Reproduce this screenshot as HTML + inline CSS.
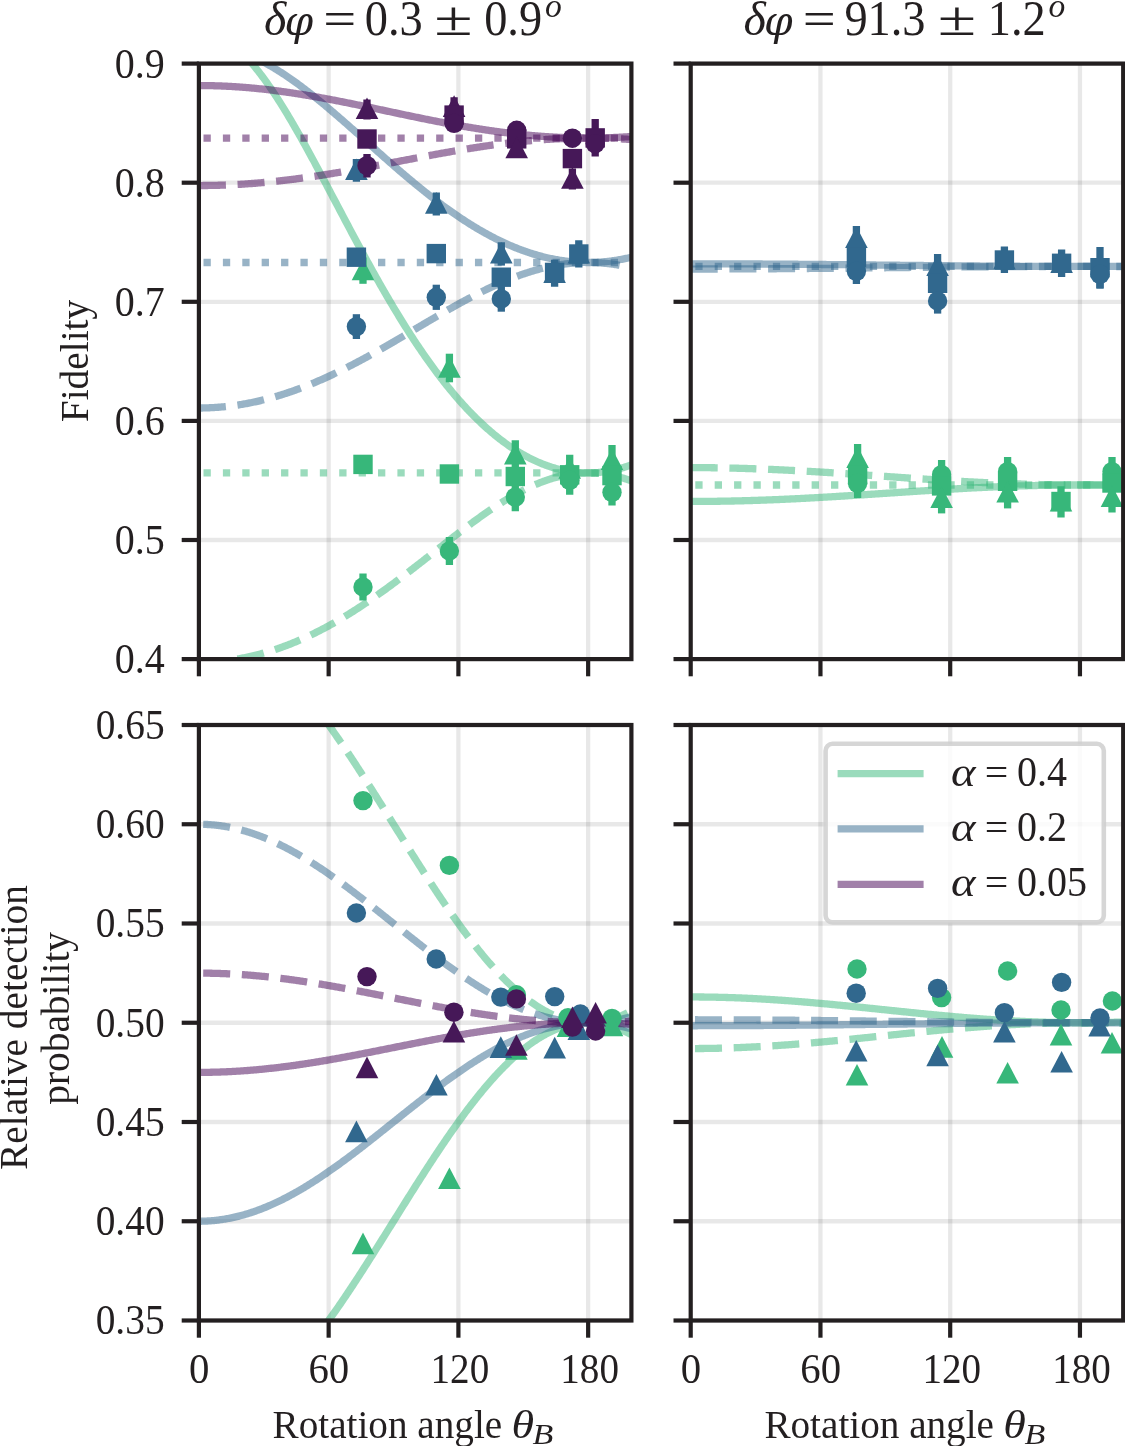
<!DOCTYPE html>
<html lang="en">
<head>
<meta charset="utf-8">
<title>Fidelity and relative detection probability versus rotation angle</title>
<style>
html,body{margin:0;padding:0;background:#fff}
body{width:1125px;height:1446px;overflow:hidden}
svg{display:block}
.t{font-family:"Liberation Serif","DejaVu Serif",serif;font-size:40px;fill:#231f20}
.i{font-style:italic}
</style>
</head>
<body>
<svg width="1125" height="1446" viewBox="0 0 1125 1446">
<rect width="1125" height="1446" fill="#fff"/>
<defs>
<clipPath id="c00"><rect x="198.9" y="63.6" width="432.5" height="595.5"/></clipPath>
<clipPath id="c01"><rect x="198.9" y="725" width="432.5" height="595.5"/></clipPath>
<clipPath id="c10"><rect x="690.7" y="63.6" width="432.5" height="595.5"/></clipPath>
<clipPath id="c11"><rect x="690.7" y="725" width="432.5" height="595.5"/></clipPath>
</defs>
<line x1="328.65" y1="63.6" x2="328.65" y2="659.1" stroke="#000" stroke-opacity="0.09" stroke-width="4.3"/>
<line x1="458.4" y1="63.6" x2="458.4" y2="659.1" stroke="#000" stroke-opacity="0.09" stroke-width="4.3"/>
<line x1="588.15" y1="63.6" x2="588.15" y2="659.1" stroke="#000" stroke-opacity="0.09" stroke-width="4.3"/>
<line x1="198.9" y1="63.6" x2="631.4" y2="63.6" stroke="#000" stroke-opacity="0.09" stroke-width="4.3"/>
<line x1="198.9" y1="182.7" x2="631.4" y2="182.7" stroke="#000" stroke-opacity="0.09" stroke-width="4.3"/>
<line x1="198.9" y1="301.8" x2="631.4" y2="301.8" stroke="#000" stroke-opacity="0.09" stroke-width="4.3"/>
<line x1="198.9" y1="420.9" x2="631.4" y2="420.9" stroke="#000" stroke-opacity="0.09" stroke-width="4.3"/>
<line x1="198.9" y1="540" x2="631.4" y2="540" stroke="#000" stroke-opacity="0.09" stroke-width="4.3"/>
<line x1="198.9" y1="659.1" x2="631.4" y2="659.1" stroke="#000" stroke-opacity="0.09" stroke-width="4.3"/>
<line x1="328.65" y1="725" x2="328.65" y2="1320.5" stroke="#000" stroke-opacity="0.09" stroke-width="4.3"/>
<line x1="458.4" y1="725" x2="458.4" y2="1320.5" stroke="#000" stroke-opacity="0.09" stroke-width="4.3"/>
<line x1="588.15" y1="725" x2="588.15" y2="1320.5" stroke="#000" stroke-opacity="0.09" stroke-width="4.3"/>
<line x1="198.9" y1="725" x2="631.4" y2="725" stroke="#000" stroke-opacity="0.09" stroke-width="4.3"/>
<line x1="198.9" y1="824.25" x2="631.4" y2="824.25" stroke="#000" stroke-opacity="0.09" stroke-width="4.3"/>
<line x1="198.9" y1="923.5" x2="631.4" y2="923.5" stroke="#000" stroke-opacity="0.09" stroke-width="4.3"/>
<line x1="198.9" y1="1022.75" x2="631.4" y2="1022.75" stroke="#000" stroke-opacity="0.09" stroke-width="4.3"/>
<line x1="198.9" y1="1122" x2="631.4" y2="1122" stroke="#000" stroke-opacity="0.09" stroke-width="4.3"/>
<line x1="198.9" y1="1221.25" x2="631.4" y2="1221.25" stroke="#000" stroke-opacity="0.09" stroke-width="4.3"/>
<line x1="198.9" y1="1320.5" x2="631.4" y2="1320.5" stroke="#000" stroke-opacity="0.09" stroke-width="4.3"/>
<line x1="820.45" y1="63.6" x2="820.45" y2="659.1" stroke="#000" stroke-opacity="0.09" stroke-width="4.3"/>
<line x1="950.2" y1="63.6" x2="950.2" y2="659.1" stroke="#000" stroke-opacity="0.09" stroke-width="4.3"/>
<line x1="1079.95" y1="63.6" x2="1079.95" y2="659.1" stroke="#000" stroke-opacity="0.09" stroke-width="4.3"/>
<line x1="690.7" y1="63.6" x2="1123.2" y2="63.6" stroke="#000" stroke-opacity="0.09" stroke-width="4.3"/>
<line x1="690.7" y1="182.7" x2="1123.2" y2="182.7" stroke="#000" stroke-opacity="0.09" stroke-width="4.3"/>
<line x1="690.7" y1="301.8" x2="1123.2" y2="301.8" stroke="#000" stroke-opacity="0.09" stroke-width="4.3"/>
<line x1="690.7" y1="420.9" x2="1123.2" y2="420.9" stroke="#000" stroke-opacity="0.09" stroke-width="4.3"/>
<line x1="690.7" y1="540" x2="1123.2" y2="540" stroke="#000" stroke-opacity="0.09" stroke-width="4.3"/>
<line x1="690.7" y1="659.1" x2="1123.2" y2="659.1" stroke="#000" stroke-opacity="0.09" stroke-width="4.3"/>
<line x1="820.45" y1="725" x2="820.45" y2="1320.5" stroke="#000" stroke-opacity="0.09" stroke-width="4.3"/>
<line x1="950.2" y1="725" x2="950.2" y2="1320.5" stroke="#000" stroke-opacity="0.09" stroke-width="4.3"/>
<line x1="1079.95" y1="725" x2="1079.95" y2="1320.5" stroke="#000" stroke-opacity="0.09" stroke-width="4.3"/>
<line x1="690.7" y1="725" x2="1123.2" y2="725" stroke="#000" stroke-opacity="0.09" stroke-width="4.3"/>
<line x1="690.7" y1="824.25" x2="1123.2" y2="824.25" stroke="#000" stroke-opacity="0.09" stroke-width="4.3"/>
<line x1="690.7" y1="923.5" x2="1123.2" y2="923.5" stroke="#000" stroke-opacity="0.09" stroke-width="4.3"/>
<line x1="690.7" y1="1022.75" x2="1123.2" y2="1022.75" stroke="#000" stroke-opacity="0.09" stroke-width="4.3"/>
<line x1="690.7" y1="1122" x2="1123.2" y2="1122" stroke="#000" stroke-opacity="0.09" stroke-width="4.3"/>
<line x1="690.7" y1="1221.25" x2="1123.2" y2="1221.25" stroke="#000" stroke-opacity="0.09" stroke-width="4.3"/>
<line x1="690.7" y1="1320.5" x2="1123.2" y2="1320.5" stroke="#000" stroke-opacity="0.09" stroke-width="4.3"/>
<g clip-path="url(#c00)">
<path d="M203.5 472.95 L204.57 472.95 L205.64 472.95 L206.71 472.95 L207.78 472.95 L208.85 472.95 L209.92 472.95 L210.99 472.95 L212.06 472.95 L213.13 472.95 L214.2 472.95 L215.27 472.95 L216.34 472.95 L217.41 472.95 L218.48 472.95 L219.55 472.95 L220.62 472.95 L221.69 472.95 L222.76 472.95 L223.83 472.95 L224.9 472.95 L225.96 472.95 L227.03 472.95 L228.1 472.95 L229.17 472.95 L230.24 472.95 L231.31 472.95 L232.38 472.95 L233.45 472.95 L234.52 472.95 L235.59 472.95 L236.66 472.95 L237.73 472.95 L238.8 472.95 L239.87 472.95 L240.94 472.95 L242.01 472.95 L243.08 472.95 L244.15 472.95 L245.22 472.95 L246.29 472.95 L247.36 472.95 L248.43 472.95 L249.5 472.95 L250.57 472.95 L251.64 472.95 L252.71 472.95 L253.78 472.95 L254.85 472.95 L255.92 472.95 L256.99 472.95 L258.06 472.95 L259.13 472.95 L260.2 472.95 L261.27 472.95 L262.34 472.95 L263.41 472.95 L264.48 472.95 L265.55 472.95 L266.62 472.95 L267.69 472.95 L268.75 472.95 L269.82 472.95 L270.89 472.95 L271.96 472.95 L273.03 472.95 L274.1 472.95 L275.17 472.95 L276.24 472.95 L277.31 472.95 L278.38 472.95 L279.45 472.95 L280.52 472.95 L281.59 472.95 L282.66 472.95 L283.73 472.95 L284.8 472.95 L285.87 472.95 L286.94 472.95 L288.01 472.95 L289.08 472.95 L290.15 472.95 L291.22 472.95 L292.29 472.95 L293.36 472.95 L294.43 472.95 L295.5 472.95 L296.57 472.95 L297.64 472.95 L298.71 472.95 L299.78 472.95 L300.85 472.95 L301.92 472.95 L302.99 472.95 L304.06 472.95 L305.13 472.95 L306.2 472.95 L307.27 472.95 L308.34 472.95 L309.41 472.95 L310.48 472.95 L311.54 472.95 L312.61 472.95 L313.68 472.95 L314.75 472.95 L315.82 472.95 L316.89 472.95 L317.96 472.95 L319.03 472.95 L320.1 472.95 L321.17 472.95 L322.24 472.95 L323.31 472.95 L324.38 472.95 L325.45 472.95 L326.52 472.95 L327.59 472.95 L328.66 472.95 L329.73 472.95 L330.8 472.95 L331.87 472.95 L332.94 472.95 L334.01 472.95 L335.08 472.95 L336.15 472.95 L337.22 472.95 L338.29 472.95 L339.36 472.95 L340.43 472.95 L341.5 472.95 L342.57 472.95 L343.64 472.95 L344.71 472.95 L345.78 472.95 L346.85 472.95 L347.92 472.95 L348.99 472.95 L350.06 472.95 L351.13 472.95 L352.2 472.95 L353.26 472.95 L354.33 472.95 L355.4 472.95 L356.47 472.95 L357.54 472.95 L358.61 472.95 L359.68 472.95 L360.75 472.95 L361.82 472.95 L362.89 472.95 L363.96 472.95 L365.03 472.95 L366.1 472.95 L367.17 472.95 L368.24 472.95 L369.31 472.95 L370.38 472.95 L371.45 472.95 L372.52 472.95 L373.59 472.95 L374.66 472.95 L375.73 472.95 L376.8 472.95 L377.87 472.95 L378.94 472.95 L380.01 472.95 L381.08 472.95 L382.15 472.95 L383.22 472.95 L384.29 472.95 L385.36 472.95 L386.43 472.95 L387.5 472.95 L388.57 472.95 L389.64 472.95 L390.71 472.95 L391.78 472.95 L392.85 472.95 L393.92 472.95 L394.99 472.95 L396.05 472.95 L397.12 472.95 L398.19 472.95 L399.26 472.95 L400.33 472.95 L401.4 472.95 L402.47 472.95 L403.54 472.95 L404.61 472.95 L405.68 472.95 L406.75 472.95 L407.82 472.95 L408.89 472.95 L409.96 472.95 L411.03 472.95 L412.1 472.95 L413.17 472.95 L414.24 472.95 L415.31 472.95 L416.38 472.95 L417.45 472.95 L418.52 472.95 L419.59 472.95 L420.66 472.95 L421.73 472.95 L422.8 472.95 L423.87 472.95 L424.94 472.95 L426.01 472.95 L427.08 472.95 L428.15 472.95 L429.22 472.95 L430.29 472.95 L431.36 472.95 L432.43 472.95 L433.5 472.95 L434.57 472.95 L435.64 472.95 L436.71 472.95 L437.78 472.95 L438.85 472.95 L439.91 472.95 L440.98 472.95 L442.05 472.95 L443.12 472.95 L444.19 472.95 L445.26 472.95 L446.33 472.95 L447.4 472.95 L448.47 472.95 L449.54 472.95 L450.61 472.95 L451.68 472.95 L452.75 472.95 L453.82 472.95 L454.89 472.95 L455.96 472.95 L457.03 472.95 L458.1 472.95 L459.17 472.95 L460.24 472.95 L461.31 472.95 L462.38 472.95 L463.45 472.95 L464.52 472.95 L465.59 472.95 L466.66 472.95 L467.73 472.95 L468.8 472.95 L469.87 472.95 L470.94 472.95 L472.01 472.95 L473.08 472.95 L474.15 472.95 L475.22 472.95 L476.29 472.95 L477.36 472.95 L478.43 472.95 L479.5 472.95 L480.57 472.95 L481.63 472.95 L482.7 472.95 L483.77 472.95 L484.84 472.95 L485.91 472.95 L486.98 472.95 L488.05 472.95 L489.12 472.95 L490.19 472.95 L491.26 472.95 L492.33 472.95 L493.4 472.95 L494.47 472.95 L495.54 472.95 L496.61 472.95 L497.68 472.95 L498.75 472.95 L499.82 472.95 L500.89 472.95 L501.96 472.95 L503.03 472.95 L504.1 472.95 L505.17 472.95 L506.24 472.95 L507.31 472.95 L508.38 472.95 L509.45 472.95 L510.52 472.95 L511.59 472.95 L512.66 472.95 L513.73 472.95 L514.8 472.95 L515.87 472.95 L516.94 472.95 L518.01 472.95 L519.08 472.95 L520.15 472.95 L521.22 472.95 L522.29 472.95 L523.36 472.95 L524.42 472.95 L525.49 472.95 L526.56 472.95 L527.63 472.95 L528.7 472.95 L529.77 472.95 L530.84 472.95 L531.91 472.95 L532.98 472.95 L534.05 472.95 L535.12 472.95 L536.19 472.95 L537.26 472.95 L538.33 472.95 L539.4 472.95 L540.47 472.95 L541.54 472.95 L542.61 472.95 L543.68 472.95 L544.75 472.95 L545.82 472.95 L546.89 472.95 L547.96 472.95 L549.03 472.95 L550.1 472.95 L551.17 472.95 L552.24 472.95 L553.31 472.95 L554.38 472.95 L555.45 472.95 L556.52 472.95 L557.59 472.95 L558.66 472.95 L559.73 472.95 L560.8 472.95 L561.87 472.95 L562.94 472.95 L564.01 472.95 L565.08 472.95 L566.15 472.95 L567.22 472.95 L568.28 472.95 L569.35 472.95 L570.42 472.95 L571.49 472.95 L572.56 472.95 L573.63 472.95 L574.7 472.95 L575.77 472.95 L576.84 472.95 L577.91 472.95 L578.98 472.95 L580.05 472.95 L581.12 472.95 L582.19 472.95 L583.26 472.95 L584.33 472.95 L585.4 472.95 L586.47 472.95 L587.54 472.95 L588.61 472.95 L589.68 472.95 L590.75 472.95 L591.82 472.95 L592.89 472.95 L593.96 472.95 L595.03 472.95 L596.1 472.95 L597.17 472.95 L598.24 472.95 L599.31 472.95 L600.38 472.95 L601.45 472.95 L602.52 472.95 L603.59 472.95 L604.66 472.95 L605.73 472.95 L606.8 472.95 L607.87 472.95 L608.94 472.95 L610 472.95 L611.07 472.95 L612.14 472.95 L613.21 472.95 L614.28 472.95 L615.35 472.95 L616.42 472.95 L617.49 472.95 L618.56 472.95 L619.63 472.95 L620.7 472.95 L621.77 472.95 L622.84 472.95 L623.91 472.95 L624.98 472.95 L626.05 472.95 L627.12 472.95 L628.19 472.95 L629.26 472.95 L630.33 472.95 L631.4 472.95" fill="none" stroke="#35b779" stroke-opacity="0.5" stroke-width="7.3" stroke-dasharray="7.3 12.09"/>
<path d="M248.34 59.43 L248.64 59.75 L249.72 60.95 L250.8 62.18 L251.88 63.42 L252.96 64.69 L254.04 65.97 L255.12 67.28 L256.21 68.61 L257.29 69.96 L258.37 71.32 L259.45 72.71 L260.53 74.12 L261.61 75.54 L262.69 76.99 L263.77 78.45 L264.86 79.93 L265.94 81.43 L267.02 82.95 L268.1 84.48 L269.18 86.03 L270.26 87.6 L271.34 89.18 L272.43 90.78 L273.51 92.4 L274.59 94.03 L275.67 95.67 L276.75 97.34 L277.83 99.01 L278.91 100.7 L279.99 102.41 L281.07 104.12 L282.16 105.86 L283.24 107.6 L284.32 109.36 L285.4 111.13 L286.48 112.91 L287.56 114.71 L288.64 116.51 L289.73 118.33 L290.81 120.16 L291.89 122 L292.97 123.85 L294.05 125.71 L295.13 127.58 L296.21 129.46 L297.29 131.35 L298.38 133.25 L299.46 135.16 L300.54 137.08 L301.62 139 L302.7 140.93 L303.78 142.88 L304.86 144.82 L305.94 146.78 L307.02 148.74 L308.11 150.71 L309.19 152.68 L310.27 154.66 L311.35 156.65 L312.43 158.64 L313.51 160.64 L314.59 162.64 L315.68 164.64 L316.76 166.66 L317.84 168.67 L318.92 170.69 L320 172.71 L321.08 174.74 L322.16 176.77 L323.24 178.8 L324.33 180.83 L325.41 182.87 L326.49 184.91 L327.57 186.95 L328.65 189 L329.73 191.04 L330.81 193.09 L331.89 195.13 L332.98 197.18 L334.06 199.23 L335.14 201.28 L336.22 203.32 L337.3 205.37 L338.38 207.42 L339.46 209.47 L340.54 211.52 L341.62 213.56 L342.71 215.61 L343.79 217.65 L344.87 219.69 L345.95 221.73 L347.03 223.77 L348.11 225.81 L349.19 227.84 L350.27 229.87 L351.36 231.9 L352.44 233.93 L353.52 235.95 L354.6 237.97 L355.68 239.99 L356.76 242 L357.84 244.01 L358.93 246.01 L360.01 248.02 L361.09 250.01 L362.17 252.01 L363.25 253.99 L364.33 255.98 L365.41 257.96 L366.49 259.93 L367.58 261.9 L368.66 263.86 L369.74 265.82 L370.82 267.78 L371.9 269.72 L372.98 271.66 L374.06 273.6 L375.14 275.53 L376.23 277.45 L377.31 279.37 L378.39 281.28 L379.47 283.19 L380.55 285.09 L381.63 286.98 L382.71 288.86 L383.79 290.74 L384.88 292.61 L385.96 294.47 L387.04 296.33 L388.12 298.18 L389.2 300.02 L390.28 301.85 L391.36 303.68 L392.44 305.5 L393.52 307.31 L394.61 309.11 L395.69 310.91 L396.77 312.69 L397.85 314.47 L398.93 316.24 L400.01 318 L401.09 319.76 L402.18 321.5 L403.26 323.24 L404.34 324.97 L405.42 326.69 L406.5 328.4 L407.58 330.1 L408.66 331.8 L409.74 333.48 L410.83 335.15 L411.91 336.82 L412.99 338.48 L414.07 340.13 L415.15 341.77 L416.23 343.4 L417.31 345.02 L418.39 346.63 L419.48 348.23 L420.56 349.82 L421.64 351.4 L422.72 352.98 L423.8 354.54 L424.88 356.1 L425.96 357.64 L427.04 359.17 L428.12 360.7 L429.21 362.21 L430.29 363.72 L431.37 365.22 L432.45 366.7 L433.53 368.18 L434.61 369.64 L435.69 371.1 L436.77 372.54 L437.86 373.98 L438.94 375.41 L440.02 376.82 L441.1 378.23 L442.18 379.62 L443.26 381.01 L444.34 382.38 L445.43 383.75 L446.51 385.1 L447.59 386.45 L448.67 387.78 L449.75 389.11 L450.83 390.42 L451.91 391.73 L452.99 393.02 L454.08 394.3 L455.16 395.57 L456.24 396.84 L457.32 398.09 L458.4 399.33 L459.48 400.56 L460.56 401.78 L461.64 402.99 L462.73 404.19 L463.81 405.38 L464.89 406.56 L465.97 407.73 L467.05 408.89 L468.13 410.04 L469.21 411.17 L470.29 412.3 L471.38 413.42 L472.46 414.52 L473.54 415.62 L474.62 416.7 L475.7 417.78 L476.78 418.84 L477.86 419.89 L478.94 420.94 L480.02 421.97 L481.11 422.99 L482.19 424 L483.27 425.01 L484.35 426 L485.43 426.98 L486.51 427.95 L487.59 428.91 L488.68 429.85 L489.76 430.79 L490.84 431.72 L491.92 432.64 L493 433.54 L494.08 434.44 L495.16 435.33 L496.24 436.2 L497.33 437.07 L498.41 437.92 L499.49 438.77 L500.57 439.6 L501.65 440.42 L502.73 441.24 L503.81 442.04 L504.89 442.83 L505.98 443.61 L507.06 444.38 L508.14 445.14 L509.22 445.89 L510.3 446.63 L511.38 447.36 L512.46 448.08 L513.54 448.79 L514.62 449.49 L515.71 450.18 L516.79 450.86 L517.87 451.52 L518.95 452.18 L520.03 452.83 L521.11 453.46 L522.19 454.09 L523.27 454.7 L524.36 455.31 L525.44 455.91 L526.52 456.49 L527.6 457.06 L528.68 457.63 L529.76 458.18 L530.84 458.73 L531.93 459.26 L533.01 459.78 L534.09 460.29 L535.17 460.8 L536.25 461.29 L537.33 461.77 L538.41 462.24 L539.49 462.7 L540.58 463.16 L541.66 463.6 L542.74 464.03 L543.82 464.45 L544.9 464.86 L545.98 465.26 L547.06 465.65 L548.14 466.03 L549.23 466.4 L550.31 466.76 L551.39 467.11 L552.47 467.44 L553.55 467.77 L554.63 468.09 L555.71 468.4 L556.79 468.7 L557.88 468.99 L558.96 469.27 L560.04 469.53 L561.12 469.79 L562.2 470.04 L563.28 470.28 L564.36 470.5 L565.44 470.72 L566.52 470.93 L567.61 471.12 L568.69 471.31 L569.77 471.49 L570.85 471.65 L571.93 471.81 L573.01 471.96 L574.09 472.09 L575.18 472.22 L576.26 472.34 L577.34 472.44 L578.42 472.54 L579.5 472.62 L580.58 472.7 L581.66 472.77 L582.74 472.82 L583.83 472.87 L584.91 472.9 L585.99 472.93 L587.07 472.94 L588.15 472.95 L589.23 472.94 L590.31 472.93 L591.39 472.9 L592.48 472.87 L593.56 472.82 L594.64 472.77 L595.72 472.7 L596.8 472.62 L597.88 472.54 L598.96 472.44 L600.04 472.34 L601.12 472.22 L602.21 472.09 L603.29 471.96 L604.37 471.81 L605.45 471.65 L606.53 471.49 L607.61 471.31 L608.69 471.12 L609.77 470.93 L610.86 470.72 L611.94 470.5 L613.02 470.28 L614.1 470.04 L615.18 469.79 L616.26 469.53 L617.34 469.27 L618.43 468.99 L619.51 468.7 L620.59 468.4 L621.67 468.09 L622.75 467.77 L623.83 467.44 L624.91 467.11 L625.99 466.76 L627.08 466.4 L628.16 466.03 L629.24 465.65 L630.32 465.26 L631.4 464.86" fill="none" stroke="#35b779" stroke-opacity="0.5" stroke-width="7.3"/>
<path d="M198.9 662.25 L199.98 662.25 L201.06 662.24 L202.14 662.22 L203.22 662.21 L204.31 662.18 L205.39 662.15 L206.47 662.12 L207.55 662.08 L208.63 662.04 L209.71 661.99 L210.79 661.94 L211.88 661.88 L212.96 661.81 L214.04 661.74 L215.12 661.67 L216.2 661.59 L217.28 661.5 L218.36 661.41 L219.44 661.32 L220.53 661.22 L221.61 661.11 L222.69 661 L223.77 660.89 L224.85 660.77 L225.93 660.64 L227.01 660.51 L228.09 660.37 L229.18 660.23 L230.26 660.08 L231.34 659.93 L232.42 659.78 L233.5 659.61 L234.58 659.45 L235.66 659.27 L236.74 659.1 L237.83 658.92 L238.91 658.73 L239.99 658.54 L241.07 658.34 L242.15 658.13 L243.23 657.93 L244.31 657.71 L245.39 657.5 L246.48 657.27 L247.56 657.04 L248.64 656.81 L249.72 656.57 L250.8 656.33 L251.88 656.08 L252.96 655.83 L254.04 655.57 L255.12 655.3 L256.21 655.04 L257.29 654.76 L258.37 654.48 L259.45 654.2 L260.53 653.91 L261.61 653.62 L262.69 653.32 L263.77 653.01 L264.86 652.7 L265.94 652.39 L267.02 652.07 L268.1 651.75 L269.18 651.42 L270.26 651.08 L271.34 650.74 L272.43 650.4 L273.51 650.05 L274.59 649.7 L275.67 649.34 L276.75 648.97 L277.83 648.6 L278.91 648.23 L279.99 647.85 L281.07 647.47 L282.16 647.08 L283.24 646.69 L284.32 646.29 L285.4 645.88 L286.48 645.48 L287.56 645.06 L288.64 644.64 L289.73 644.22 L290.81 643.79 L291.89 643.36 L292.97 642.92 L294.05 642.48 L295.13 642.03 L296.21 641.58 L297.29 641.12 L298.38 640.66 L299.46 640.2 L300.54 639.73 L301.62 639.25 L302.7 638.77 L303.78 638.28 L304.86 637.79 L305.94 637.3 L307.02 636.8 L308.11 636.29 L309.19 635.79 L310.27 635.27 L311.35 634.75 L312.43 634.23 L313.51 633.7 L314.59 633.17 L315.68 632.64 L316.76 632.09 L317.84 631.55 L318.92 631 L320 630.44 L321.08 629.88 L322.16 629.32 L323.24 628.75 L324.33 628.18 L325.41 627.6 L326.49 627.02 L327.57 626.43 L328.65 625.84 L329.73 625.25 L330.81 624.65 L331.89 624.05 L332.98 623.44 L334.06 622.83 L335.14 622.21 L336.22 621.59 L337.3 620.97 L338.38 620.34 L339.46 619.7 L340.54 619.07 L341.62 618.42 L342.71 617.78 L343.79 617.13 L344.87 616.48 L345.95 615.82 L347.03 615.16 L348.11 614.49 L349.19 613.82 L350.27 613.15 L351.36 612.47 L352.44 611.79 L353.52 611.1 L354.6 610.42 L355.68 609.72 L356.76 609.03 L357.84 608.33 L358.93 607.62 L360.01 606.92 L361.09 606.2 L362.17 605.49 L363.25 604.77 L364.33 604.05 L365.41 603.32 L366.49 602.6 L367.58 601.86 L368.66 601.13 L369.74 600.39 L370.82 599.65 L371.9 598.9 L372.98 598.15 L374.06 597.4 L375.14 596.65 L376.23 595.89 L377.31 595.13 L378.39 594.36 L379.47 593.6 L380.55 592.83 L381.63 592.05 L382.71 591.28 L383.79 590.5 L384.88 589.72 L385.96 588.93 L387.04 588.15 L388.12 587.36 L389.2 586.57 L390.28 585.77 L391.36 584.97 L392.44 584.17 L393.52 583.37 L394.61 582.57 L395.69 581.76 L396.77 580.95 L397.85 580.14 L398.93 579.33 L400.01 578.51 L401.09 577.7 L402.18 576.88 L403.26 576.06 L404.34 575.23 L405.42 574.41 L406.5 573.58 L407.58 572.75 L408.66 571.93 L409.74 571.09 L410.83 570.26 L411.91 569.43 L412.99 568.59 L414.07 567.75 L415.15 566.92 L416.23 566.08 L417.31 565.24 L418.39 564.4 L419.48 563.55 L420.56 562.71 L421.64 561.87 L422.72 561.02 L423.8 560.17 L424.88 559.33 L425.96 558.48 L427.04 557.63 L428.12 556.79 L429.21 555.94 L430.29 555.09 L431.37 554.24 L432.45 553.39 L433.53 552.54 L434.61 551.69 L435.69 550.85 L436.77 550 L437.86 549.15 L438.94 548.3 L440.02 547.45 L441.1 546.6 L442.18 545.76 L443.26 544.91 L444.34 544.07 L445.43 543.22 L446.51 542.38 L447.59 541.54 L448.67 540.69 L449.75 539.85 L450.83 539.01 L451.91 538.18 L452.99 537.34 L454.08 536.5 L455.16 535.67 L456.24 534.84 L457.32 534.01 L458.4 533.18 L459.48 532.35 L460.56 531.53 L461.64 530.7 L462.73 529.88 L463.81 529.07 L464.89 528.25 L465.97 527.44 L467.05 526.63 L468.13 525.82 L469.21 525.01 L470.29 524.21 L471.38 523.41 L472.46 522.61 L473.54 521.82 L474.62 521.03 L475.7 520.24 L476.78 519.46 L477.86 518.68 L478.94 517.9 L480.02 517.12 L481.11 516.36 L482.19 515.59 L483.27 514.83 L484.35 514.07 L485.43 513.32 L486.51 512.57 L487.59 511.82 L488.68 511.08 L489.76 510.34 L490.84 509.61 L491.92 508.88 L493 508.16 L494.08 507.44 L495.16 506.73 L496.24 506.02 L497.33 505.32 L498.41 504.62 L499.49 503.93 L500.57 503.24 L501.65 502.56 L502.73 501.89 L503.81 501.22 L504.89 500.55 L505.98 499.89 L507.06 499.24 L508.14 498.6 L509.22 497.96 L510.3 497.32 L511.38 496.7 L512.46 496.07 L513.54 495.46 L514.62 494.85 L515.71 494.25 L516.79 493.66 L517.87 493.07 L518.95 492.49 L520.03 491.91 L521.11 491.35 L522.19 490.79 L523.27 490.24 L524.36 489.69 L525.44 489.15 L526.52 488.62 L527.6 488.1 L528.68 487.59 L529.76 487.08 L530.84 486.58 L531.93 486.09 L533.01 485.61 L534.09 485.13 L535.17 484.67 L536.25 484.21 L537.33 483.76 L538.41 483.32 L539.49 482.88 L540.58 482.46 L541.66 482.04 L542.74 481.63 L543.82 481.23 L544.9 480.84 L545.98 480.46 L547.06 480.09 L548.14 479.72 L549.23 479.37 L550.31 479.02 L551.39 478.69 L552.47 478.36 L553.55 478.04 L554.63 477.73 L555.71 477.43 L556.79 477.14 L557.88 476.86 L558.96 476.59 L560.04 476.33 L561.12 476.07 L562.2 475.83 L563.28 475.6 L564.36 475.37 L565.44 475.16 L566.52 474.95 L567.61 474.76 L568.69 474.57 L569.77 474.4 L570.85 474.23 L571.93 474.08 L573.01 473.93 L574.09 473.8 L575.18 473.67 L576.26 473.56 L577.34 473.45 L578.42 473.35 L579.5 473.27 L580.58 473.19 L581.66 473.13 L582.74 473.07 L583.83 473.03 L584.91 472.99 L585.99 472.97 L587.07 472.95 L588.15 472.95 L589.23 472.95 L590.31 472.97 L591.39 472.99 L592.48 473.03 L593.56 473.07 L594.64 473.13 L595.72 473.19 L596.8 473.27 L597.88 473.35 L598.96 473.45 L600.04 473.56 L601.12 473.67 L602.21 473.8 L603.29 473.93 L604.37 474.08 L605.45 474.23 L606.53 474.4 L607.61 474.57 L608.69 474.76 L609.77 474.95 L610.86 475.16 L611.94 475.37 L613.02 475.6 L614.1 475.83 L615.18 476.07 L616.26 476.33 L617.34 476.59 L618.43 476.86 L619.51 477.14 L620.59 477.43 L621.67 477.73 L622.75 478.04 L623.83 478.36 L624.91 478.69 L625.99 479.02 L627.08 479.37 L628.16 479.72 L629.24 480.09 L630.32 480.46 L631.4 480.84" fill="none" stroke="#35b779" stroke-opacity="0.5" stroke-width="7.3" stroke-dasharray="27.01 11.68"/>
<path d="M203.5 262.5 L204.57 262.5 L205.64 262.5 L206.71 262.5 L207.78 262.5 L208.85 262.5 L209.92 262.5 L210.99 262.5 L212.06 262.5 L213.13 262.5 L214.2 262.5 L215.27 262.5 L216.34 262.5 L217.41 262.5 L218.48 262.5 L219.55 262.5 L220.62 262.5 L221.69 262.5 L222.76 262.5 L223.83 262.5 L224.9 262.5 L225.96 262.5 L227.03 262.5 L228.1 262.5 L229.17 262.5 L230.24 262.5 L231.31 262.5 L232.38 262.5 L233.45 262.5 L234.52 262.5 L235.59 262.5 L236.66 262.5 L237.73 262.5 L238.8 262.5 L239.87 262.5 L240.94 262.5 L242.01 262.5 L243.08 262.5 L244.15 262.5 L245.22 262.5 L246.29 262.5 L247.36 262.5 L248.43 262.5 L249.5 262.5 L250.57 262.5 L251.64 262.5 L252.71 262.5 L253.78 262.5 L254.85 262.5 L255.92 262.5 L256.99 262.5 L258.06 262.5 L259.13 262.5 L260.2 262.5 L261.27 262.5 L262.34 262.5 L263.41 262.5 L264.48 262.5 L265.55 262.5 L266.62 262.5 L267.69 262.5 L268.75 262.5 L269.82 262.5 L270.89 262.5 L271.96 262.5 L273.03 262.5 L274.1 262.5 L275.17 262.5 L276.24 262.5 L277.31 262.5 L278.38 262.5 L279.45 262.5 L280.52 262.5 L281.59 262.5 L282.66 262.5 L283.73 262.5 L284.8 262.5 L285.87 262.5 L286.94 262.5 L288.01 262.5 L289.08 262.5 L290.15 262.5 L291.22 262.5 L292.29 262.5 L293.36 262.5 L294.43 262.5 L295.5 262.5 L296.57 262.5 L297.64 262.5 L298.71 262.5 L299.78 262.5 L300.85 262.5 L301.92 262.5 L302.99 262.5 L304.06 262.5 L305.13 262.5 L306.2 262.5 L307.27 262.5 L308.34 262.5 L309.41 262.5 L310.48 262.5 L311.54 262.5 L312.61 262.5 L313.68 262.5 L314.75 262.5 L315.82 262.5 L316.89 262.5 L317.96 262.5 L319.03 262.5 L320.1 262.5 L321.17 262.5 L322.24 262.5 L323.31 262.5 L324.38 262.5 L325.45 262.5 L326.52 262.5 L327.59 262.5 L328.66 262.5 L329.73 262.5 L330.8 262.5 L331.87 262.5 L332.94 262.5 L334.01 262.5 L335.08 262.5 L336.15 262.5 L337.22 262.5 L338.29 262.5 L339.36 262.5 L340.43 262.5 L341.5 262.5 L342.57 262.5 L343.64 262.5 L344.71 262.5 L345.78 262.5 L346.85 262.5 L347.92 262.5 L348.99 262.5 L350.06 262.5 L351.13 262.5 L352.2 262.5 L353.26 262.5 L354.33 262.5 L355.4 262.5 L356.47 262.5 L357.54 262.5 L358.61 262.5 L359.68 262.5 L360.75 262.5 L361.82 262.5 L362.89 262.5 L363.96 262.5 L365.03 262.5 L366.1 262.5 L367.17 262.5 L368.24 262.5 L369.31 262.5 L370.38 262.5 L371.45 262.5 L372.52 262.5 L373.59 262.5 L374.66 262.5 L375.73 262.5 L376.8 262.5 L377.87 262.5 L378.94 262.5 L380.01 262.5 L381.08 262.5 L382.15 262.5 L383.22 262.5 L384.29 262.5 L385.36 262.5 L386.43 262.5 L387.5 262.5 L388.57 262.5 L389.64 262.5 L390.71 262.5 L391.78 262.5 L392.85 262.5 L393.92 262.5 L394.99 262.5 L396.05 262.5 L397.12 262.5 L398.19 262.5 L399.26 262.5 L400.33 262.5 L401.4 262.5 L402.47 262.5 L403.54 262.5 L404.61 262.5 L405.68 262.5 L406.75 262.5 L407.82 262.5 L408.89 262.5 L409.96 262.5 L411.03 262.5 L412.1 262.5 L413.17 262.5 L414.24 262.5 L415.31 262.5 L416.38 262.5 L417.45 262.5 L418.52 262.5 L419.59 262.5 L420.66 262.5 L421.73 262.5 L422.8 262.5 L423.87 262.5 L424.94 262.5 L426.01 262.5 L427.08 262.5 L428.15 262.5 L429.22 262.5 L430.29 262.5 L431.36 262.5 L432.43 262.5 L433.5 262.5 L434.57 262.5 L435.64 262.5 L436.71 262.5 L437.78 262.5 L438.85 262.5 L439.91 262.5 L440.98 262.5 L442.05 262.5 L443.12 262.5 L444.19 262.5 L445.26 262.5 L446.33 262.5 L447.4 262.5 L448.47 262.5 L449.54 262.5 L450.61 262.5 L451.68 262.5 L452.75 262.5 L453.82 262.5 L454.89 262.5 L455.96 262.5 L457.03 262.5 L458.1 262.5 L459.17 262.5 L460.24 262.5 L461.31 262.5 L462.38 262.5 L463.45 262.5 L464.52 262.5 L465.59 262.5 L466.66 262.5 L467.73 262.5 L468.8 262.5 L469.87 262.5 L470.94 262.5 L472.01 262.5 L473.08 262.5 L474.15 262.5 L475.22 262.5 L476.29 262.5 L477.36 262.5 L478.43 262.5 L479.5 262.5 L480.57 262.5 L481.63 262.5 L482.7 262.5 L483.77 262.5 L484.84 262.5 L485.91 262.5 L486.98 262.5 L488.05 262.5 L489.12 262.5 L490.19 262.5 L491.26 262.5 L492.33 262.5 L493.4 262.5 L494.47 262.5 L495.54 262.5 L496.61 262.5 L497.68 262.5 L498.75 262.5 L499.82 262.5 L500.89 262.5 L501.96 262.5 L503.03 262.5 L504.1 262.5 L505.17 262.5 L506.24 262.5 L507.31 262.5 L508.38 262.5 L509.45 262.5 L510.52 262.5 L511.59 262.5 L512.66 262.5 L513.73 262.5 L514.8 262.5 L515.87 262.5 L516.94 262.5 L518.01 262.5 L519.08 262.5 L520.15 262.5 L521.22 262.5 L522.29 262.5 L523.36 262.5 L524.42 262.5 L525.49 262.5 L526.56 262.5 L527.63 262.5 L528.7 262.5 L529.77 262.5 L530.84 262.5 L531.91 262.5 L532.98 262.5 L534.05 262.5 L535.12 262.5 L536.19 262.5 L537.26 262.5 L538.33 262.5 L539.4 262.5 L540.47 262.5 L541.54 262.5 L542.61 262.5 L543.68 262.5 L544.75 262.5 L545.82 262.5 L546.89 262.5 L547.96 262.5 L549.03 262.5 L550.1 262.5 L551.17 262.5 L552.24 262.5 L553.31 262.5 L554.38 262.5 L555.45 262.5 L556.52 262.5 L557.59 262.5 L558.66 262.5 L559.73 262.5 L560.8 262.5 L561.87 262.5 L562.94 262.5 L564.01 262.5 L565.08 262.5 L566.15 262.5 L567.22 262.5 L568.28 262.5 L569.35 262.5 L570.42 262.5 L571.49 262.5 L572.56 262.5 L573.63 262.5 L574.7 262.5 L575.77 262.5 L576.84 262.5 L577.91 262.5 L578.98 262.5 L580.05 262.5 L581.12 262.5 L582.19 262.5 L583.26 262.5 L584.33 262.5 L585.4 262.5 L586.47 262.5 L587.54 262.5 L588.61 262.5 L589.68 262.5 L590.75 262.5 L591.82 262.5 L592.89 262.5 L593.96 262.5 L595.03 262.5 L596.1 262.5 L597.17 262.5 L598.24 262.5 L599.31 262.5 L600.38 262.5 L601.45 262.5 L602.52 262.5 L603.59 262.5 L604.66 262.5 L605.73 262.5 L606.8 262.5 L607.87 262.5 L608.94 262.5 L610 262.5 L611.07 262.5 L612.14 262.5 L613.21 262.5 L614.28 262.5 L615.35 262.5 L616.42 262.5 L617.49 262.5 L618.56 262.5 L619.63 262.5 L620.7 262.5 L621.77 262.5 L622.84 262.5 L623.91 262.5 L624.98 262.5 L626.05 262.5 L627.12 262.5 L628.19 262.5 L629.26 262.5 L630.33 262.5 L631.4 262.5" fill="none" stroke="#31688e" stroke-opacity="0.5" stroke-width="7.3" stroke-dasharray="7.3 12.09"/>
<path d="M258.34 59.43 L258.37 59.44 L259.45 59.98 L260.53 60.53 L261.61 61.09 L262.69 61.65 L263.77 62.22 L264.86 62.8 L265.94 63.39 L267.02 63.98 L268.1 64.59 L269.18 65.2 L270.26 65.82 L271.34 66.44 L272.43 67.08 L273.51 67.72 L274.59 68.37 L275.67 69.03 L276.75 69.69 L277.83 70.36 L278.91 71.04 L279.99 71.72 L281.07 72.42 L282.16 73.12 L283.24 73.82 L284.32 74.53 L285.4 75.25 L286.48 75.98 L287.56 76.71 L288.64 77.45 L289.73 78.19 L290.81 78.94 L291.89 79.7 L292.97 80.46 L294.05 81.23 L295.13 82.01 L296.21 82.79 L297.29 83.57 L298.38 84.37 L299.46 85.16 L300.54 85.97 L301.62 86.77 L302.7 87.59 L303.78 88.4 L304.86 89.23 L305.94 90.06 L307.02 90.89 L308.11 91.73 L309.19 92.57 L310.27 93.42 L311.35 94.27 L312.43 95.13 L313.51 95.99 L314.59 96.85 L315.68 97.72 L316.76 98.59 L317.84 99.47 L318.92 100.35 L320 101.24 L321.08 102.12 L322.16 103.02 L323.24 103.91 L324.33 104.81 L325.41 105.71 L326.49 106.62 L327.57 107.53 L328.65 108.44 L329.73 109.35 L330.81 110.27 L331.89 111.19 L332.98 112.11 L334.06 113.04 L335.14 113.97 L336.22 114.9 L337.3 115.83 L338.38 116.77 L339.46 117.7 L340.54 118.64 L341.62 119.58 L342.71 120.53 L343.79 121.47 L344.87 122.42 L345.95 123.37 L347.03 124.32 L348.11 125.27 L349.19 126.22 L350.27 127.18 L351.36 128.13 L352.44 129.09 L353.52 130.05 L354.6 131.01 L355.68 131.97 L356.76 132.93 L357.84 133.89 L358.93 134.85 L360.01 135.81 L361.09 136.78 L362.17 137.74 L363.25 138.7 L364.33 139.67 L365.41 140.63 L366.49 141.59 L367.58 142.56 L368.66 143.52 L369.74 144.49 L370.82 145.45 L371.9 146.41 L372.98 147.38 L374.06 148.34 L375.14 149.3 L376.23 150.26 L377.31 151.22 L378.39 152.18 L379.47 153.14 L380.55 154.1 L381.63 155.06 L382.71 156.01 L383.79 156.97 L384.88 157.92 L385.96 158.87 L387.04 159.82 L388.12 160.77 L389.2 161.72 L390.28 162.67 L391.36 163.61 L392.44 164.56 L393.52 165.5 L394.61 166.44 L395.69 167.37 L396.77 168.31 L397.85 169.24 L398.93 170.18 L400.01 171.1 L401.09 172.03 L402.18 172.96 L403.26 173.88 L404.34 174.8 L405.42 175.72 L406.5 176.63 L407.58 177.55 L408.66 178.46 L409.74 179.36 L410.83 180.27 L411.91 181.17 L412.99 182.07 L414.07 182.96 L415.15 183.86 L416.23 184.75 L417.31 185.63 L418.39 186.52 L419.48 187.4 L420.56 188.28 L421.64 189.15 L422.72 190.02 L423.8 190.89 L424.88 191.75 L425.96 192.61 L427.04 193.47 L428.12 194.32 L429.21 195.17 L430.29 196.02 L431.37 196.86 L432.45 197.7 L433.53 198.53 L434.61 199.36 L435.69 200.19 L436.77 201.01 L437.86 201.83 L438.94 202.64 L440.02 203.45 L441.1 204.26 L442.18 205.06 L443.26 205.86 L444.34 206.65 L445.43 207.44 L446.51 208.22 L447.59 209 L448.67 209.78 L449.75 210.55 L450.83 211.32 L451.91 212.08 L452.99 212.83 L454.08 213.59 L455.16 214.33 L456.24 215.08 L457.32 215.82 L458.4 216.55 L459.48 217.28 L460.56 218 L461.64 218.72 L462.73 219.43 L463.81 220.14 L464.89 220.85 L465.97 221.55 L467.05 222.24 L468.13 222.93 L469.21 223.61 L470.29 224.29 L471.38 224.96 L472.46 225.63 L473.54 226.29 L474.62 226.95 L475.7 227.6 L476.78 228.25 L477.86 228.89 L478.94 229.53 L480.02 230.16 L481.11 230.78 L482.19 231.4 L483.27 232.02 L484.35 232.62 L485.43 233.23 L486.51 233.82 L487.59 234.42 L488.68 235 L489.76 235.58 L490.84 236.16 L491.92 236.72 L493 237.29 L494.08 237.85 L495.16 238.4 L496.24 238.94 L497.33 239.48 L498.41 240.02 L499.49 240.54 L500.57 241.07 L501.65 241.58 L502.73 242.09 L503.81 242.6 L504.89 243.1 L505.98 243.59 L507.06 244.08 L508.14 244.56 L509.22 245.03 L510.3 245.5 L511.38 245.96 L512.46 246.42 L513.54 246.87 L514.62 247.31 L515.71 247.75 L516.79 248.18 L517.87 248.61 L518.95 249.03 L520.03 249.44 L521.11 249.85 L522.19 250.25 L523.27 250.64 L524.36 251.03 L525.44 251.41 L526.52 251.79 L527.6 252.16 L528.68 252.52 L529.76 252.88 L530.84 253.23 L531.93 253.57 L533.01 253.91 L534.09 254.24 L535.17 254.57 L536.25 254.88 L537.33 255.2 L538.41 255.5 L539.49 255.8 L540.58 256.09 L541.66 256.38 L542.74 256.66 L543.82 256.93 L544.9 257.2 L545.98 257.46 L547.06 257.71 L548.14 257.96 L549.23 258.2 L550.31 258.44 L551.39 258.67 L552.47 258.89 L553.55 259.1 L554.63 259.31 L555.71 259.51 L556.79 259.71 L557.88 259.9 L558.96 260.08 L560.04 260.25 L561.12 260.42 L562.2 260.59 L563.28 260.74 L564.36 260.89 L565.44 261.03 L566.52 261.17 L567.61 261.3 L568.69 261.42 L569.77 261.54 L570.85 261.65 L571.93 261.75 L573.01 261.85 L574.09 261.94 L575.18 262.02 L576.26 262.09 L577.34 262.16 L578.42 262.23 L579.5 262.28 L580.58 262.33 L581.66 262.38 L582.74 262.41 L583.83 262.44 L584.91 262.47 L585.99 262.48 L587.07 262.49 L588.15 262.5 L589.23 262.49 L590.31 262.48 L591.39 262.47 L592.48 262.44 L593.56 262.41 L594.64 262.38 L595.72 262.33 L596.8 262.28 L597.88 262.23 L598.96 262.16 L600.04 262.09 L601.12 262.02 L602.21 261.94 L603.29 261.85 L604.37 261.75 L605.45 261.65 L606.53 261.54 L607.61 261.42 L608.69 261.3 L609.77 261.17 L610.86 261.03 L611.94 260.89 L613.02 260.74 L614.1 260.59 L615.18 260.42 L616.26 260.25 L617.34 260.08 L618.43 259.9 L619.51 259.71 L620.59 259.51 L621.67 259.31 L622.75 259.1 L623.83 258.89 L624.91 258.67 L625.99 258.44 L627.08 258.2 L628.16 257.96 L629.24 257.71 L630.32 257.46 L631.4 257.2" fill="none" stroke="#31688e" stroke-opacity="0.5" stroke-width="7.3"/>
<path d="M198.9 408 L199.98 408 L201.06 407.99 L202.14 407.98 L203.22 407.96 L204.31 407.94 L205.39 407.91 L206.47 407.88 L207.55 407.85 L208.63 407.81 L209.71 407.77 L210.79 407.72 L211.88 407.67 L212.96 407.61 L214.04 407.55 L215.12 407.48 L216.2 407.41 L217.28 407.33 L218.36 407.25 L219.44 407.17 L220.53 407.08 L221.61 406.98 L222.69 406.88 L223.77 406.78 L224.85 406.67 L225.93 406.56 L227.01 406.44 L228.09 406.32 L229.18 406.19 L230.26 406.06 L231.34 405.93 L232.42 405.79 L233.5 405.64 L234.58 405.49 L235.66 405.34 L236.74 405.18 L237.83 405.02 L238.91 404.85 L239.99 404.68 L241.07 404.5 L242.15 404.32 L243.23 404.14 L244.31 403.95 L245.39 403.75 L246.48 403.56 L247.56 403.35 L248.64 403.15 L249.72 402.93 L250.8 402.72 L251.88 402.5 L252.96 402.27 L254.04 402.04 L255.12 401.81 L256.21 401.57 L257.29 401.33 L258.37 401.08 L259.45 400.83 L260.53 400.58 L261.61 400.32 L262.69 400.05 L263.77 399.78 L264.86 399.51 L265.94 399.23 L267.02 398.95 L268.1 398.67 L269.18 398.38 L270.26 398.08 L271.34 397.79 L272.43 397.48 L273.51 397.18 L274.59 396.87 L275.67 396.55 L276.75 396.23 L277.83 395.91 L278.91 395.58 L279.99 395.25 L281.07 394.91 L282.16 394.57 L283.24 394.23 L284.32 393.88 L285.4 393.53 L286.48 393.18 L287.56 392.82 L288.64 392.45 L289.73 392.09 L290.81 391.71 L291.89 391.34 L292.97 390.96 L294.05 390.57 L295.13 390.19 L296.21 389.8 L297.29 389.4 L298.38 389 L299.46 388.6 L300.54 388.19 L301.62 387.78 L302.7 387.37 L303.78 386.95 L304.86 386.53 L305.94 386.11 L307.02 385.68 L308.11 385.24 L309.19 384.81 L310.27 384.37 L311.35 383.93 L312.43 383.48 L313.51 383.03 L314.59 382.58 L315.68 382.12 L316.76 381.66 L317.84 381.19 L318.92 380.73 L320 380.25 L321.08 379.78 L322.16 379.3 L323.24 378.82 L324.33 378.34 L325.41 377.85 L326.49 377.36 L327.57 376.86 L328.65 376.37 L329.73 375.87 L330.81 375.36 L331.89 374.86 L332.98 374.35 L334.06 373.83 L335.14 373.32 L336.22 372.8 L337.3 372.28 L338.38 371.75 L339.46 371.22 L340.54 370.69 L341.62 370.16 L342.71 369.62 L343.79 369.08 L344.87 368.54 L345.95 368 L347.03 367.45 L348.11 366.9 L349.19 366.35 L350.27 365.79 L351.36 365.24 L352.44 364.68 L353.52 364.11 L354.6 363.55 L355.68 362.98 L356.76 362.41 L357.84 361.84 L358.93 361.26 L360.01 360.68 L361.09 360.11 L362.17 359.52 L363.25 358.94 L364.33 358.35 L365.41 357.77 L366.49 357.18 L367.58 356.58 L368.66 355.99 L369.74 355.39 L370.82 354.79 L371.9 354.19 L372.98 353.59 L374.06 352.99 L375.14 352.38 L376.23 351.78 L377.31 351.17 L378.39 350.56 L379.47 349.95 L380.55 349.33 L381.63 348.72 L382.71 348.1 L383.79 347.48 L384.88 346.86 L385.96 346.24 L387.04 345.62 L388.12 345 L389.2 344.37 L390.28 343.75 L391.36 343.12 L392.44 342.49 L393.52 341.86 L394.61 341.23 L395.69 340.6 L396.77 339.97 L397.85 339.33 L398.93 338.7 L400.01 338.07 L401.09 337.43 L402.18 336.8 L403.26 336.16 L404.34 335.52 L405.42 334.88 L406.5 334.25 L407.58 333.61 L408.66 332.97 L409.74 332.33 L410.83 331.69 L411.91 331.05 L412.99 330.41 L414.07 329.77 L415.15 329.13 L416.23 328.49 L417.31 327.85 L418.39 327.21 L419.48 326.57 L420.56 325.93 L421.64 325.29 L422.72 324.65 L423.8 324.01 L424.88 323.38 L425.96 322.74 L427.04 322.1 L428.12 321.46 L429.21 320.83 L430.29 320.19 L431.37 319.56 L432.45 318.92 L433.53 318.29 L434.61 317.66 L435.69 317.02 L436.77 316.39 L437.86 315.76 L438.94 315.13 L440.02 314.51 L441.1 313.88 L442.18 313.26 L443.26 312.63 L444.34 312.01 L445.43 311.39 L446.51 310.77 L447.59 310.15 L448.67 309.53 L449.75 308.92 L450.83 308.31 L451.91 307.7 L452.99 307.09 L454.08 306.48 L455.16 305.87 L456.24 305.27 L457.32 304.67 L458.4 304.07 L459.48 303.47 L460.56 302.88 L461.64 302.28 L462.73 301.69 L463.81 301.1 L464.89 300.52 L465.97 299.94 L467.05 299.35 L468.13 298.78 L469.21 298.2 L470.29 297.63 L471.38 297.06 L472.46 296.49 L473.54 295.93 L474.62 295.37 L475.7 294.81 L476.78 294.25 L477.86 293.7 L478.94 293.15 L480.02 292.61 L481.11 292.06 L482.19 291.52 L483.27 290.99 L484.35 290.46 L485.43 289.93 L486.51 289.4 L487.59 288.88 L488.68 288.36 L489.76 287.85 L490.84 287.34 L491.92 286.83 L493 286.33 L494.08 285.83 L495.16 285.34 L496.24 284.85 L497.33 284.36 L498.41 283.88 L499.49 283.4 L500.57 282.92 L501.65 282.45 L502.73 281.99 L503.81 281.53 L504.89 281.07 L505.98 280.62 L507.06 280.17 L508.14 279.73 L509.22 279.29 L510.3 278.86 L511.38 278.43 L512.46 278 L513.54 277.59 L514.62 277.17 L515.71 276.76 L516.79 276.36 L517.87 275.96 L518.95 275.56 L520.03 275.17 L521.11 274.79 L522.19 274.41 L523.27 274.04 L524.36 273.67 L525.44 273.31 L526.52 272.95 L527.6 272.6 L528.68 272.25 L529.76 271.91 L530.84 271.57 L531.93 271.24 L533.01 270.92 L534.09 270.6 L535.17 270.29 L536.25 269.98 L537.33 269.68 L538.41 269.38 L539.49 269.09 L540.58 268.81 L541.66 268.53 L542.74 268.26 L543.82 267.99 L544.9 267.73 L545.98 267.48 L547.06 267.23 L548.14 266.99 L549.23 266.75 L550.31 266.52 L551.39 266.3 L552.47 266.08 L553.55 265.87 L554.63 265.66 L555.71 265.46 L556.79 265.27 L557.88 265.08 L558.96 264.9 L560.04 264.73 L561.12 264.56 L562.2 264.4 L563.28 264.25 L564.36 264.1 L565.44 263.96 L566.52 263.82 L567.61 263.69 L568.69 263.57 L569.77 263.45 L570.85 263.35 L571.93 263.24 L573.01 263.15 L574.09 263.06 L575.18 262.97 L576.26 262.9 L577.34 262.83 L578.42 262.77 L579.5 262.71 L580.58 262.66 L581.66 262.62 L582.74 262.58 L583.83 262.55 L584.91 262.53 L585.99 262.51 L587.07 262.5 L588.15 262.5 L589.23 262.5 L590.31 262.51 L591.39 262.53 L592.48 262.55 L593.56 262.58 L594.64 262.62 L595.72 262.66 L596.8 262.71 L597.88 262.77 L598.96 262.83 L600.04 262.9 L601.12 262.97 L602.21 263.06 L603.29 263.15 L604.37 263.24 L605.45 263.35 L606.53 263.45 L607.61 263.57 L608.69 263.69 L609.77 263.82 L610.86 263.96 L611.94 264.1 L613.02 264.25 L614.1 264.4 L615.18 264.56 L616.26 264.73 L617.34 264.9 L618.43 265.08 L619.51 265.27 L620.59 265.46 L621.67 265.66 L622.75 265.87 L623.83 266.08 L624.91 266.3 L625.99 266.52 L627.08 266.75 L628.16 266.99 L629.24 267.23 L630.32 267.48 L631.4 267.73" fill="none" stroke="#31688e" stroke-opacity="0.5" stroke-width="7.3" stroke-dasharray="27.01 11.68"/>
<path d="M203.5 138.04 L204.57 138.04 L205.64 138.04 L206.71 138.04 L207.78 138.04 L208.85 138.04 L209.92 138.04 L210.99 138.04 L212.06 138.04 L213.13 138.04 L214.2 138.04 L215.27 138.04 L216.34 138.04 L217.41 138.04 L218.48 138.04 L219.55 138.04 L220.62 138.04 L221.69 138.04 L222.76 138.04 L223.83 138.04 L224.9 138.04 L225.96 138.04 L227.03 138.04 L228.1 138.04 L229.17 138.04 L230.24 138.04 L231.31 138.04 L232.38 138.04 L233.45 138.04 L234.52 138.04 L235.59 138.04 L236.66 138.04 L237.73 138.04 L238.8 138.04 L239.87 138.04 L240.94 138.04 L242.01 138.04 L243.08 138.04 L244.15 138.04 L245.22 138.04 L246.29 138.04 L247.36 138.04 L248.43 138.04 L249.5 138.04 L250.57 138.04 L251.64 138.04 L252.71 138.04 L253.78 138.04 L254.85 138.04 L255.92 138.04 L256.99 138.04 L258.06 138.04 L259.13 138.04 L260.2 138.04 L261.27 138.04 L262.34 138.04 L263.41 138.04 L264.48 138.04 L265.55 138.04 L266.62 138.04 L267.69 138.04 L268.75 138.04 L269.82 138.04 L270.89 138.04 L271.96 138.04 L273.03 138.04 L274.1 138.04 L275.17 138.04 L276.24 138.04 L277.31 138.04 L278.38 138.04 L279.45 138.04 L280.52 138.04 L281.59 138.04 L282.66 138.04 L283.73 138.04 L284.8 138.04 L285.87 138.04 L286.94 138.04 L288.01 138.04 L289.08 138.04 L290.15 138.04 L291.22 138.04 L292.29 138.04 L293.36 138.04 L294.43 138.04 L295.5 138.04 L296.57 138.04 L297.64 138.04 L298.71 138.04 L299.78 138.04 L300.85 138.04 L301.92 138.04 L302.99 138.04 L304.06 138.04 L305.13 138.04 L306.2 138.04 L307.27 138.04 L308.34 138.04 L309.41 138.04 L310.48 138.04 L311.54 138.04 L312.61 138.04 L313.68 138.04 L314.75 138.04 L315.82 138.04 L316.89 138.04 L317.96 138.04 L319.03 138.04 L320.1 138.04 L321.17 138.04 L322.24 138.04 L323.31 138.04 L324.38 138.04 L325.45 138.04 L326.52 138.04 L327.59 138.04 L328.66 138.04 L329.73 138.04 L330.8 138.04 L331.87 138.04 L332.94 138.04 L334.01 138.04 L335.08 138.04 L336.15 138.04 L337.22 138.04 L338.29 138.04 L339.36 138.04 L340.43 138.04 L341.5 138.04 L342.57 138.04 L343.64 138.04 L344.71 138.04 L345.78 138.04 L346.85 138.04 L347.92 138.04 L348.99 138.04 L350.06 138.04 L351.13 138.04 L352.2 138.04 L353.26 138.04 L354.33 138.04 L355.4 138.04 L356.47 138.04 L357.54 138.04 L358.61 138.04 L359.68 138.04 L360.75 138.04 L361.82 138.04 L362.89 138.04 L363.96 138.04 L365.03 138.04 L366.1 138.04 L367.17 138.04 L368.24 138.04 L369.31 138.04 L370.38 138.04 L371.45 138.04 L372.52 138.04 L373.59 138.04 L374.66 138.04 L375.73 138.04 L376.8 138.04 L377.87 138.04 L378.94 138.04 L380.01 138.04 L381.08 138.04 L382.15 138.04 L383.22 138.04 L384.29 138.04 L385.36 138.04 L386.43 138.04 L387.5 138.04 L388.57 138.04 L389.64 138.04 L390.71 138.04 L391.78 138.04 L392.85 138.04 L393.92 138.04 L394.99 138.04 L396.05 138.04 L397.12 138.04 L398.19 138.04 L399.26 138.04 L400.33 138.04 L401.4 138.04 L402.47 138.04 L403.54 138.04 L404.61 138.04 L405.68 138.04 L406.75 138.04 L407.82 138.04 L408.89 138.04 L409.96 138.04 L411.03 138.04 L412.1 138.04 L413.17 138.04 L414.24 138.04 L415.31 138.04 L416.38 138.04 L417.45 138.04 L418.52 138.04 L419.59 138.04 L420.66 138.04 L421.73 138.04 L422.8 138.04 L423.87 138.04 L424.94 138.04 L426.01 138.04 L427.08 138.04 L428.15 138.04 L429.22 138.04 L430.29 138.04 L431.36 138.04 L432.43 138.04 L433.5 138.04 L434.57 138.04 L435.64 138.04 L436.71 138.04 L437.78 138.04 L438.85 138.04 L439.91 138.04 L440.98 138.04 L442.05 138.04 L443.12 138.04 L444.19 138.04 L445.26 138.04 L446.33 138.04 L447.4 138.04 L448.47 138.04 L449.54 138.04 L450.61 138.04 L451.68 138.04 L452.75 138.04 L453.82 138.04 L454.89 138.04 L455.96 138.04 L457.03 138.04 L458.1 138.04 L459.17 138.04 L460.24 138.04 L461.31 138.04 L462.38 138.04 L463.45 138.04 L464.52 138.04 L465.59 138.04 L466.66 138.04 L467.73 138.04 L468.8 138.04 L469.87 138.04 L470.94 138.04 L472.01 138.04 L473.08 138.04 L474.15 138.04 L475.22 138.04 L476.29 138.04 L477.36 138.04 L478.43 138.04 L479.5 138.04 L480.57 138.04 L481.63 138.04 L482.7 138.04 L483.77 138.04 L484.84 138.04 L485.91 138.04 L486.98 138.04 L488.05 138.04 L489.12 138.04 L490.19 138.04 L491.26 138.04 L492.33 138.04 L493.4 138.04 L494.47 138.04 L495.54 138.04 L496.61 138.04 L497.68 138.04 L498.75 138.04 L499.82 138.04 L500.89 138.04 L501.96 138.04 L503.03 138.04 L504.1 138.04 L505.17 138.04 L506.24 138.04 L507.31 138.04 L508.38 138.04 L509.45 138.04 L510.52 138.04 L511.59 138.04 L512.66 138.04 L513.73 138.04 L514.8 138.04 L515.87 138.04 L516.94 138.04 L518.01 138.04 L519.08 138.04 L520.15 138.04 L521.22 138.04 L522.29 138.04 L523.36 138.04 L524.42 138.04 L525.49 138.04 L526.56 138.04 L527.63 138.04 L528.7 138.04 L529.77 138.04 L530.84 138.04 L531.91 138.04 L532.98 138.04 L534.05 138.04 L535.12 138.04 L536.19 138.04 L537.26 138.04 L538.33 138.04 L539.4 138.04 L540.47 138.04 L541.54 138.04 L542.61 138.04 L543.68 138.04 L544.75 138.04 L545.82 138.04 L546.89 138.04 L547.96 138.04 L549.03 138.04 L550.1 138.04 L551.17 138.04 L552.24 138.04 L553.31 138.04 L554.38 138.04 L555.45 138.04 L556.52 138.04 L557.59 138.04 L558.66 138.04 L559.73 138.04 L560.8 138.04 L561.87 138.04 L562.94 138.04 L564.01 138.04 L565.08 138.04 L566.15 138.04 L567.22 138.04 L568.28 138.04 L569.35 138.04 L570.42 138.04 L571.49 138.04 L572.56 138.04 L573.63 138.04 L574.7 138.04 L575.77 138.04 L576.84 138.04 L577.91 138.04 L578.98 138.04 L580.05 138.04 L581.12 138.04 L582.19 138.04 L583.26 138.04 L584.33 138.04 L585.4 138.04 L586.47 138.04 L587.54 138.04 L588.61 138.04 L589.68 138.04 L590.75 138.04 L591.82 138.04 L592.89 138.04 L593.96 138.04 L595.03 138.04 L596.1 138.04 L597.17 138.04 L598.24 138.04 L599.31 138.04 L600.38 138.04 L601.45 138.04 L602.52 138.04 L603.59 138.04 L604.66 138.04 L605.73 138.04 L606.8 138.04 L607.87 138.04 L608.94 138.04 L610 138.04 L611.07 138.04 L612.14 138.04 L613.21 138.04 L614.28 138.04 L615.35 138.04 L616.42 138.04 L617.49 138.04 L618.56 138.04 L619.63 138.04 L620.7 138.04 L621.77 138.04 L622.84 138.04 L623.91 138.04 L624.98 138.04 L626.05 138.04 L627.12 138.04 L628.19 138.04 L629.26 138.04 L630.33 138.04 L631.4 138.04" fill="none" stroke="#440154" stroke-opacity="0.5" stroke-width="7.3" stroke-dasharray="7.3 12.09"/>
<path d="M198.9 85.54 L199.98 85.54 L201.06 85.54 L202.14 85.55 L203.22 85.56 L204.31 85.57 L205.39 85.58 L206.47 85.59 L207.55 85.61 L208.63 85.62 L209.71 85.64 L210.79 85.67 L211.88 85.69 L212.96 85.72 L214.04 85.75 L215.12 85.78 L216.2 85.81 L217.28 85.84 L218.36 85.88 L219.44 85.92 L220.53 85.96 L221.61 86 L222.69 86.05 L223.77 86.09 L224.85 86.14 L225.93 86.19 L227.01 86.25 L228.09 86.3 L229.18 86.36 L230.26 86.42 L231.34 86.48 L232.42 86.54 L233.5 86.61 L234.58 86.68 L235.66 86.75 L236.74 86.82 L237.83 86.89 L238.91 86.97 L239.99 87.04 L241.07 87.12 L242.15 87.2 L243.23 87.29 L244.31 87.37 L245.39 87.46 L246.48 87.55 L247.56 87.64 L248.64 87.73 L249.72 87.83 L250.8 87.92 L251.88 88.02 L252.96 88.12 L254.04 88.22 L255.12 88.33 L256.21 88.43 L257.29 88.54 L258.37 88.65 L259.45 88.76 L260.53 88.88 L261.61 88.99 L262.69 89.11 L263.77 89.23 L264.86 89.35 L265.94 89.47 L267.02 89.6 L268.1 89.72 L269.18 89.85 L270.26 89.98 L271.34 90.11 L272.43 90.24 L273.51 90.38 L274.59 90.51 L275.67 90.65 L276.75 90.79 L277.83 90.93 L278.91 91.07 L279.99 91.22 L281.07 91.36 L282.16 91.51 L283.24 91.66 L284.32 91.81 L285.4 91.96 L286.48 92.12 L287.56 92.27 L288.64 92.43 L289.73 92.59 L290.81 92.75 L291.89 92.91 L292.97 93.07 L294.05 93.24 L295.13 93.4 L296.21 93.57 L297.29 93.74 L298.38 93.91 L299.46 94.08 L300.54 94.25 L301.62 94.43 L302.7 94.6 L303.78 94.78 L304.86 94.96 L305.94 95.14 L307.02 95.32 L308.11 95.5 L309.19 95.68 L310.27 95.87 L311.35 96.05 L312.43 96.24 L313.51 96.43 L314.59 96.62 L315.68 96.81 L316.76 97 L317.84 97.19 L318.92 97.38 L320 97.58 L321.08 97.78 L322.16 97.97 L323.24 98.17 L324.33 98.37 L325.41 98.57 L326.49 98.77 L327.57 98.97 L328.65 99.18 L329.73 99.38 L330.81 99.58 L331.89 99.79 L332.98 100 L334.06 100.2 L335.14 100.41 L336.22 100.62 L337.3 100.83 L338.38 101.04 L339.46 101.25 L340.54 101.47 L341.62 101.68 L342.71 101.89 L343.79 102.11 L344.87 102.32 L345.95 102.54 L347.03 102.76 L348.11 102.97 L349.19 103.19 L350.27 103.41 L351.36 103.63 L352.44 103.85 L353.52 104.07 L354.6 104.29 L355.68 104.51 L356.76 104.73 L357.84 104.96 L358.93 105.18 L360.01 105.4 L361.09 105.63 L362.17 105.85 L363.25 106.08 L364.33 106.3 L365.41 106.53 L366.49 106.75 L367.58 106.98 L368.66 107.2 L369.74 107.43 L370.82 107.66 L371.9 107.89 L372.98 108.11 L374.06 108.34 L375.14 108.57 L376.23 108.8 L377.31 109.03 L378.39 109.25 L379.47 109.48 L380.55 109.71 L381.63 109.94 L382.71 110.17 L383.79 110.4 L384.88 110.63 L385.96 110.86 L387.04 111.09 L388.12 111.32 L389.2 111.55 L390.28 111.77 L391.36 112 L392.44 112.23 L393.52 112.46 L394.61 112.69 L395.69 112.92 L396.77 113.15 L397.85 113.38 L398.93 113.6 L400.01 113.83 L401.09 114.06 L402.18 114.29 L403.26 114.52 L404.34 114.74 L405.42 114.97 L406.5 115.2 L407.58 115.42 L408.66 115.65 L409.74 115.87 L410.83 116.1 L411.91 116.32 L412.99 116.55 L414.07 116.77 L415.15 117 L416.23 117.22 L417.31 117.44 L418.39 117.66 L419.48 117.89 L420.56 118.11 L421.64 118.33 L422.72 118.55 L423.8 118.77 L424.88 118.99 L425.96 119.21 L427.04 119.42 L428.12 119.64 L429.21 119.86 L430.29 120.07 L431.37 120.29 L432.45 120.5 L433.53 120.72 L434.61 120.93 L435.69 121.14 L436.77 121.36 L437.86 121.57 L438.94 121.78 L440.02 121.99 L441.1 122.19 L442.18 122.4 L443.26 122.61 L444.34 122.82 L445.43 123.02 L446.51 123.23 L447.59 123.43 L448.67 123.63 L449.75 123.83 L450.83 124.03 L451.91 124.23 L452.99 124.43 L454.08 124.63 L455.16 124.83 L456.24 125.02 L457.32 125.22 L458.4 125.41 L459.48 125.6 L460.56 125.8 L461.64 125.99 L462.73 126.18 L463.81 126.36 L464.89 126.55 L465.97 126.74 L467.05 126.92 L468.13 127.11 L469.21 127.29 L470.29 127.47 L471.38 127.65 L472.46 127.83 L473.54 128.01 L474.62 128.18 L475.7 128.36 L476.78 128.53 L477.86 128.71 L478.94 128.88 L480.02 129.05 L481.11 129.22 L482.19 129.39 L483.27 129.55 L484.35 129.72 L485.43 129.88 L486.51 130.04 L487.59 130.21 L488.68 130.36 L489.76 130.52 L490.84 130.68 L491.92 130.84 L493 130.99 L494.08 131.14 L495.16 131.29 L496.24 131.44 L497.33 131.59 L498.41 131.74 L499.49 131.88 L500.57 132.03 L501.65 132.17 L502.73 132.31 L503.81 132.45 L504.89 132.59 L505.98 132.72 L507.06 132.86 L508.14 132.99 L509.22 133.12 L510.3 133.25 L511.38 133.38 L512.46 133.51 L513.54 133.63 L514.62 133.76 L515.71 133.88 L516.79 134 L517.87 134.12 L518.95 134.23 L520.03 134.35 L521.11 134.46 L522.19 134.58 L523.27 134.69 L524.36 134.79 L525.44 134.9 L526.52 135.01 L527.6 135.11 L528.68 135.21 L529.76 135.31 L530.84 135.41 L531.93 135.51 L533.01 135.6 L534.09 135.7 L535.17 135.79 L536.25 135.88 L537.33 135.96 L538.41 136.05 L539.49 136.14 L540.58 136.22 L541.66 136.3 L542.74 136.38 L543.82 136.46 L544.9 136.53 L545.98 136.61 L547.06 136.68 L548.14 136.75 L549.23 136.82 L550.31 136.88 L551.39 136.95 L552.47 137.01 L553.55 137.07 L554.63 137.13 L555.71 137.19 L556.79 137.24 L557.88 137.3 L558.96 137.35 L560.04 137.4 L561.12 137.45 L562.2 137.49 L563.28 137.54 L564.36 137.58 L565.44 137.62 L566.52 137.66 L567.61 137.7 L568.69 137.73 L569.77 137.76 L570.85 137.79 L571.93 137.82 L573.01 137.85 L574.09 137.88 L575.18 137.9 L576.26 137.92 L577.34 137.94 L578.42 137.96 L579.5 137.98 L580.58 137.99 L581.66 138 L582.74 138.01 L583.83 138.02 L584.91 138.03 L585.99 138.03 L587.07 138.04 L588.15 138.04 L589.23 138.04 L590.31 138.03 L591.39 138.03 L592.48 138.02 L593.56 138.01 L594.64 138 L595.72 137.99 L596.8 137.98 L597.88 137.96 L598.96 137.94 L600.04 137.92 L601.12 137.9 L602.21 137.88 L603.29 137.85 L604.37 137.82 L605.45 137.79 L606.53 137.76 L607.61 137.73 L608.69 137.7 L609.77 137.66 L610.86 137.62 L611.94 137.58 L613.02 137.54 L614.1 137.49 L615.18 137.45 L616.26 137.4 L617.34 137.35 L618.43 137.3 L619.51 137.24 L620.59 137.19 L621.67 137.13 L622.75 137.07 L623.83 137.01 L624.91 136.95 L625.99 136.88 L627.08 136.82 L628.16 136.75 L629.24 136.68 L630.32 136.61 L631.4 136.53" fill="none" stroke="#440154" stroke-opacity="0.5" stroke-width="7.3"/>
<path d="M198.9 185.54 L199.98 185.53 L201.06 185.53 L202.14 185.53 L203.22 185.52 L204.31 185.51 L205.39 185.5 L206.47 185.49 L207.55 185.48 L208.63 185.47 L209.71 185.45 L210.79 185.43 L211.88 185.41 L212.96 185.39 L214.04 185.37 L215.12 185.34 L216.2 185.32 L217.28 185.29 L218.36 185.26 L219.44 185.23 L220.53 185.19 L221.61 185.16 L222.69 185.12 L223.77 185.08 L224.85 185.04 L225.93 185 L227.01 184.96 L228.09 184.91 L229.18 184.86 L230.26 184.81 L231.34 184.76 L232.42 184.71 L233.5 184.66 L234.58 184.6 L235.66 184.55 L236.74 184.49 L237.83 184.43 L238.91 184.37 L239.99 184.3 L241.07 184.24 L242.15 184.17 L243.23 184.1 L244.31 184.03 L245.39 183.96 L246.48 183.89 L247.56 183.81 L248.64 183.73 L249.72 183.66 L250.8 183.58 L251.88 183.49 L252.96 183.41 L254.04 183.33 L255.12 183.24 L256.21 183.15 L257.29 183.06 L258.37 182.97 L259.45 182.88 L260.53 182.79 L261.61 182.69 L262.69 182.59 L263.77 182.5 L264.86 182.4 L265.94 182.29 L267.02 182.19 L268.1 182.09 L269.18 181.98 L270.26 181.87 L271.34 181.76 L272.43 181.65 L273.51 181.54 L274.59 181.43 L275.67 181.31 L276.75 181.2 L277.83 181.08 L278.91 180.96 L279.99 180.84 L281.07 180.72 L282.16 180.59 L283.24 180.47 L284.32 180.34 L285.4 180.21 L286.48 180.09 L287.56 179.96 L288.64 179.82 L289.73 179.69 L290.81 179.56 L291.89 179.42 L292.97 179.28 L294.05 179.14 L295.13 179.01 L296.21 178.86 L297.29 178.72 L298.38 178.58 L299.46 178.43 L300.54 178.29 L301.62 178.14 L302.7 177.99 L303.78 177.84 L304.86 177.69 L305.94 177.54 L307.02 177.39 L308.11 177.23 L309.19 177.08 L310.27 176.92 L311.35 176.76 L312.43 176.6 L313.51 176.44 L314.59 176.28 L315.68 176.12 L316.76 175.96 L317.84 175.79 L318.92 175.63 L320 175.46 L321.08 175.29 L322.16 175.12 L323.24 174.95 L324.33 174.78 L325.41 174.61 L326.49 174.44 L327.57 174.26 L328.65 174.09 L329.73 173.91 L330.81 173.74 L331.89 173.56 L332.98 173.38 L334.06 173.2 L335.14 173.02 L336.22 172.84 L337.3 172.66 L338.38 172.48 L339.46 172.29 L340.54 172.11 L341.62 171.92 L342.71 171.74 L343.79 171.55 L344.87 171.36 L345.95 171.18 L347.03 170.99 L348.11 170.8 L349.19 170.61 L350.27 170.42 L351.36 170.22 L352.44 170.03 L353.52 169.84 L354.6 169.65 L355.68 169.45 L356.76 169.26 L357.84 169.06 L358.93 168.86 L360.01 168.67 L361.09 168.47 L362.17 168.27 L363.25 168.07 L364.33 167.88 L365.41 167.68 L366.49 167.48 L367.58 167.28 L368.66 167.07 L369.74 166.87 L370.82 166.67 L371.9 166.47 L372.98 166.27 L374.06 166.06 L375.14 165.86 L376.23 165.66 L377.31 165.45 L378.39 165.25 L379.47 165.05 L380.55 164.84 L381.63 164.64 L382.71 164.43 L383.79 164.22 L384.88 164.02 L385.96 163.81 L387.04 163.61 L388.12 163.4 L389.2 163.19 L390.28 162.99 L391.36 162.78 L392.44 162.57 L393.52 162.37 L394.61 162.16 L395.69 161.95 L396.77 161.74 L397.85 161.54 L398.93 161.33 L400.01 161.12 L401.09 160.91 L402.18 160.71 L403.26 160.5 L404.34 160.29 L405.42 160.09 L406.5 159.88 L407.58 159.67 L408.66 159.46 L409.74 159.26 L410.83 159.05 L411.91 158.84 L412.99 158.64 L414.07 158.43 L415.15 158.23 L416.23 158.02 L417.31 157.82 L418.39 157.61 L419.48 157.41 L420.56 157.2 L421.64 157 L422.72 156.79 L423.8 156.59 L424.88 156.39 L425.96 156.18 L427.04 155.98 L428.12 155.78 L429.21 155.58 L430.29 155.38 L431.37 155.18 L432.45 154.98 L433.53 154.78 L434.61 154.58 L435.69 154.38 L436.77 154.18 L437.86 153.98 L438.94 153.78 L440.02 153.59 L441.1 153.39 L442.18 153.2 L443.26 153 L444.34 152.81 L445.43 152.62 L446.51 152.42 L447.59 152.23 L448.67 152.04 L449.75 151.85 L450.83 151.66 L451.91 151.47 L452.99 151.28 L454.08 151.09 L455.16 150.91 L456.24 150.72 L457.32 150.54 L458.4 150.35 L459.48 150.17 L460.56 149.99 L461.64 149.8 L462.73 149.62 L463.81 149.44 L464.89 149.26 L465.97 149.09 L467.05 148.91 L468.13 148.73 L469.21 148.56 L470.29 148.38 L471.38 148.21 L472.46 148.04 L473.54 147.87 L474.62 147.7 L475.7 147.53 L476.78 147.36 L477.86 147.2 L478.94 147.03 L480.02 146.87 L481.11 146.7 L482.19 146.54 L483.27 146.38 L484.35 146.22 L485.43 146.06 L486.51 145.9 L487.59 145.75 L488.68 145.59 L489.76 145.44 L490.84 145.29 L491.92 145.14 L493 144.99 L494.08 144.84 L495.16 144.69 L496.24 144.55 L497.33 144.4 L498.41 144.26 L499.49 144.12 L500.57 143.98 L501.65 143.84 L502.73 143.7 L503.81 143.56 L504.89 143.43 L505.98 143.3 L507.06 143.16 L508.14 143.03 L509.22 142.9 L510.3 142.78 L511.38 142.65 L512.46 142.53 L513.54 142.4 L514.62 142.28 L515.71 142.16 L516.79 142.04 L517.87 141.93 L518.95 141.81 L520.03 141.7 L521.11 141.59 L522.19 141.48 L523.27 141.37 L524.36 141.26 L525.44 141.15 L526.52 141.05 L527.6 140.95 L528.68 140.85 L529.76 140.75 L530.84 140.65 L531.93 140.55 L533.01 140.46 L534.09 140.37 L535.17 140.28 L536.25 140.19 L537.33 140.1 L538.41 140.02 L539.49 139.93 L540.58 139.85 L541.66 139.77 L542.74 139.69 L543.82 139.61 L544.9 139.54 L545.98 139.47 L547.06 139.39 L548.14 139.32 L549.23 139.26 L550.31 139.19 L551.39 139.13 L552.47 139.06 L553.55 139 L554.63 138.94 L555.71 138.89 L556.79 138.83 L557.88 138.78 L558.96 138.73 L560.04 138.68 L561.12 138.63 L562.2 138.58 L563.28 138.54 L564.36 138.5 L565.44 138.45 L566.52 138.42 L567.61 138.38 L568.69 138.34 L569.77 138.31 L570.85 138.28 L571.93 138.25 L573.01 138.22 L574.09 138.2 L575.18 138.17 L576.26 138.15 L577.34 138.13 L578.42 138.11 L579.5 138.1 L580.58 138.08 L581.66 138.07 L582.74 138.06 L583.83 138.05 L584.91 138.05 L585.99 138.04 L587.07 138.04 L588.15 138.04 L589.23 138.04 L590.31 138.04 L591.39 138.05 L592.48 138.05 L593.56 138.06 L594.64 138.07 L595.72 138.08 L596.8 138.1 L597.88 138.11 L598.96 138.13 L600.04 138.15 L601.12 138.17 L602.21 138.2 L603.29 138.22 L604.37 138.25 L605.45 138.28 L606.53 138.31 L607.61 138.34 L608.69 138.38 L609.77 138.42 L610.86 138.45 L611.94 138.5 L613.02 138.54 L614.1 138.58 L615.18 138.63 L616.26 138.68 L617.34 138.73 L618.43 138.78 L619.51 138.83 L620.59 138.89 L621.67 138.94 L622.75 139 L623.83 139.06 L624.91 139.13 L625.99 139.19 L627.08 139.26 L628.16 139.32 L629.24 139.39 L630.32 139.47 L631.4 139.54" fill="none" stroke="#440154" stroke-opacity="0.5" stroke-width="7.3" stroke-dasharray="27.01 11.68"/>
</g>
<g clip-path="url(#c10)">
<path d="M695.3 484.98 L696.37 484.98 L697.44 484.98 L698.51 484.98 L699.58 484.98 L700.65 484.98 L701.72 484.98 L702.79 484.98 L703.86 484.98 L704.93 484.98 L706 484.98 L707.07 484.98 L708.14 484.98 L709.21 484.98 L710.28 484.98 L711.35 484.98 L712.42 484.98 L713.49 484.98 L714.56 484.98 L715.63 484.98 L716.7 484.98 L717.76 484.98 L718.83 484.98 L719.9 484.98 L720.97 484.98 L722.04 484.98 L723.11 484.98 L724.18 484.98 L725.25 484.98 L726.32 484.98 L727.39 484.98 L728.46 484.98 L729.53 484.98 L730.6 484.98 L731.67 484.98 L732.74 484.98 L733.81 484.98 L734.88 484.98 L735.95 484.98 L737.02 484.98 L738.09 484.98 L739.16 484.98 L740.23 484.98 L741.3 484.98 L742.37 484.98 L743.44 484.98 L744.51 484.98 L745.58 484.98 L746.65 484.98 L747.72 484.98 L748.79 484.98 L749.86 484.98 L750.93 484.98 L752 484.98 L753.07 484.98 L754.14 484.98 L755.21 484.98 L756.28 484.98 L757.35 484.98 L758.42 484.98 L759.49 484.98 L760.55 484.98 L761.62 484.98 L762.69 484.98 L763.76 484.98 L764.83 484.98 L765.9 484.98 L766.97 484.98 L768.04 484.98 L769.11 484.98 L770.18 484.98 L771.25 484.98 L772.32 484.98 L773.39 484.98 L774.46 484.98 L775.53 484.98 L776.6 484.98 L777.67 484.98 L778.74 484.98 L779.81 484.98 L780.88 484.98 L781.95 484.98 L783.02 484.98 L784.09 484.98 L785.16 484.98 L786.23 484.98 L787.3 484.98 L788.37 484.98 L789.44 484.98 L790.51 484.98 L791.58 484.98 L792.65 484.98 L793.72 484.98 L794.79 484.98 L795.86 484.98 L796.93 484.98 L798 484.98 L799.07 484.98 L800.14 484.98 L801.21 484.98 L802.28 484.98 L803.34 484.98 L804.41 484.98 L805.48 484.98 L806.55 484.98 L807.62 484.98 L808.69 484.98 L809.76 484.98 L810.83 484.98 L811.9 484.98 L812.97 484.98 L814.04 484.98 L815.11 484.98 L816.18 484.98 L817.25 484.98 L818.32 484.98 L819.39 484.98 L820.46 484.98 L821.53 484.98 L822.6 484.98 L823.67 484.98 L824.74 484.98 L825.81 484.98 L826.88 484.98 L827.95 484.98 L829.02 484.98 L830.09 484.98 L831.16 484.98 L832.23 484.98 L833.3 484.98 L834.37 484.98 L835.44 484.98 L836.51 484.98 L837.58 484.98 L838.65 484.98 L839.72 484.98 L840.79 484.98 L841.86 484.98 L842.93 484.98 L844 484.98 L845.07 484.98 L846.13 484.98 L847.2 484.98 L848.27 484.98 L849.34 484.98 L850.41 484.98 L851.48 484.98 L852.55 484.98 L853.62 484.98 L854.69 484.98 L855.76 484.98 L856.83 484.98 L857.9 484.98 L858.97 484.98 L860.04 484.98 L861.11 484.98 L862.18 484.98 L863.25 484.98 L864.32 484.98 L865.39 484.98 L866.46 484.98 L867.53 484.98 L868.6 484.98 L869.67 484.98 L870.74 484.98 L871.81 484.98 L872.88 484.98 L873.95 484.98 L875.02 484.98 L876.09 484.98 L877.16 484.98 L878.23 484.98 L879.3 484.98 L880.37 484.98 L881.44 484.98 L882.51 484.98 L883.58 484.98 L884.65 484.98 L885.72 484.98 L886.79 484.98 L887.86 484.98 L888.92 484.98 L889.99 484.98 L891.06 484.98 L892.13 484.98 L893.2 484.98 L894.27 484.98 L895.34 484.98 L896.41 484.98 L897.48 484.98 L898.55 484.98 L899.62 484.98 L900.69 484.98 L901.76 484.98 L902.83 484.98 L903.9 484.98 L904.97 484.98 L906.04 484.98 L907.11 484.98 L908.18 484.98 L909.25 484.98 L910.32 484.98 L911.39 484.98 L912.46 484.98 L913.53 484.98 L914.6 484.98 L915.67 484.98 L916.74 484.98 L917.81 484.98 L918.88 484.98 L919.95 484.98 L921.02 484.98 L922.09 484.98 L923.16 484.98 L924.23 484.98 L925.3 484.98 L926.37 484.98 L927.44 484.98 L928.51 484.98 L929.58 484.98 L930.64 484.98 L931.71 484.98 L932.78 484.98 L933.85 484.98 L934.92 484.98 L935.99 484.98 L937.06 484.98 L938.13 484.98 L939.2 484.98 L940.27 484.98 L941.34 484.98 L942.41 484.98 L943.48 484.98 L944.55 484.98 L945.62 484.98 L946.69 484.98 L947.76 484.98 L948.83 484.98 L949.9 484.98 L950.97 484.98 L952.04 484.98 L953.11 484.98 L954.18 484.98 L955.25 484.98 L956.32 484.98 L957.39 484.98 L958.46 484.98 L959.53 484.98 L960.6 484.98 L961.67 484.98 L962.74 484.98 L963.81 484.98 L964.88 484.98 L965.95 484.98 L967.02 484.98 L968.09 484.98 L969.16 484.98 L970.23 484.98 L971.3 484.98 L972.37 484.98 L973.43 484.98 L974.5 484.98 L975.57 484.98 L976.64 484.98 L977.71 484.98 L978.78 484.98 L979.85 484.98 L980.92 484.98 L981.99 484.98 L983.06 484.98 L984.13 484.98 L985.2 484.98 L986.27 484.98 L987.34 484.98 L988.41 484.98 L989.48 484.98 L990.55 484.98 L991.62 484.98 L992.69 484.98 L993.76 484.98 L994.83 484.98 L995.9 484.98 L996.97 484.98 L998.04 484.98 L999.11 484.98 L1000.18 484.98 L1001.25 484.98 L1002.32 484.98 L1003.39 484.98 L1004.46 484.98 L1005.53 484.98 L1006.6 484.98 L1007.67 484.98 L1008.74 484.98 L1009.81 484.98 L1010.88 484.98 L1011.95 484.98 L1013.02 484.98 L1014.09 484.98 L1015.16 484.98 L1016.23 484.98 L1017.29 484.98 L1018.36 484.98 L1019.43 484.98 L1020.5 484.98 L1021.57 484.98 L1022.64 484.98 L1023.71 484.98 L1024.78 484.98 L1025.85 484.98 L1026.92 484.98 L1027.99 484.98 L1029.06 484.98 L1030.13 484.98 L1031.2 484.98 L1032.27 484.98 L1033.34 484.98 L1034.41 484.98 L1035.48 484.98 L1036.55 484.98 L1037.62 484.98 L1038.69 484.98 L1039.76 484.98 L1040.83 484.98 L1041.9 484.98 L1042.97 484.98 L1044.04 484.98 L1045.11 484.98 L1046.18 484.98 L1047.25 484.98 L1048.32 484.98 L1049.39 484.98 L1050.46 484.98 L1051.53 484.98 L1052.6 484.98 L1053.67 484.98 L1054.74 484.98 L1055.81 484.98 L1056.88 484.98 L1057.95 484.98 L1059.02 484.98 L1060.08 484.98 L1061.15 484.98 L1062.22 484.98 L1063.29 484.98 L1064.36 484.98 L1065.43 484.98 L1066.5 484.98 L1067.57 484.98 L1068.64 484.98 L1069.71 484.98 L1070.78 484.98 L1071.85 484.98 L1072.92 484.98 L1073.99 484.98 L1075.06 484.98 L1076.13 484.98 L1077.2 484.98 L1078.27 484.98 L1079.34 484.98 L1080.41 484.98 L1081.48 484.98 L1082.55 484.98 L1083.62 484.98 L1084.69 484.98 L1085.76 484.98 L1086.83 484.98 L1087.9 484.98 L1088.97 484.98 L1090.04 484.98 L1091.11 484.98 L1092.18 484.98 L1093.25 484.98 L1094.32 484.98 L1095.39 484.98 L1096.46 484.98 L1097.53 484.98 L1098.6 484.98 L1099.67 484.98 L1100.74 484.98 L1101.81 484.98 L1102.87 484.98 L1103.94 484.98 L1105.01 484.98 L1106.08 484.98 L1107.15 484.98 L1108.22 484.98 L1109.29 484.98 L1110.36 484.98 L1111.43 484.98 L1112.5 484.98 L1113.57 484.98 L1114.64 484.98 L1115.71 484.98 L1116.78 484.98 L1117.85 484.98 L1118.92 484.98 L1119.99 484.98 L1121.06 484.98 L1122.13 484.98 L1123.2 484.98" fill="none" stroke="#35b779" stroke-opacity="0.5" stroke-width="7.3" stroke-dasharray="7.3 12.09"/>
<path d="M690.7 501.46 L691.78 501.46 L692.86 501.46 L693.94 501.46 L695.03 501.46 L696.11 501.45 L697.19 501.45 L698.27 501.45 L699.35 501.44 L700.43 501.44 L701.51 501.43 L702.59 501.42 L703.68 501.42 L704.76 501.41 L705.84 501.4 L706.92 501.39 L708 501.38 L709.08 501.37 L710.16 501.36 L711.24 501.35 L712.33 501.34 L713.41 501.33 L714.49 501.31 L715.57 501.3 L716.65 501.29 L717.73 501.27 L718.81 501.25 L719.89 501.24 L720.98 501.22 L722.06 501.2 L723.14 501.19 L724.22 501.17 L725.3 501.15 L726.38 501.13 L727.46 501.11 L728.54 501.09 L729.62 501.07 L730.71 501.05 L731.79 501.02 L732.87 501 L733.95 500.98 L735.03 500.95 L736.11 500.93 L737.19 500.9 L738.28 500.88 L739.36 500.85 L740.44 500.82 L741.52 500.79 L742.6 500.77 L743.68 500.74 L744.76 500.71 L745.84 500.68 L746.93 500.65 L748.01 500.62 L749.09 500.58 L750.17 500.55 L751.25 500.52 L752.33 500.49 L753.41 500.45 L754.49 500.42 L755.58 500.38 L756.66 500.35 L757.74 500.31 L758.82 500.27 L759.9 500.24 L760.98 500.2 L762.06 500.16 L763.14 500.12 L764.23 500.08 L765.31 500.04 L766.39 500 L767.47 499.96 L768.55 499.92 L769.63 499.88 L770.71 499.84 L771.79 499.8 L772.88 499.75 L773.96 499.71 L775.04 499.67 L776.12 499.62 L777.2 499.58 L778.28 499.53 L779.36 499.48 L780.44 499.44 L781.53 499.39 L782.61 499.34 L783.69 499.3 L784.77 499.25 L785.85 499.2 L786.93 499.15 L788.01 499.1 L789.09 499.05 L790.18 499 L791.26 498.95 L792.34 498.9 L793.42 498.84 L794.5 498.79 L795.58 498.74 L796.66 498.69 L797.74 498.63 L798.83 498.58 L799.91 498.52 L800.99 498.47 L802.07 498.41 L803.15 498.36 L804.23 498.3 L805.31 498.25 L806.39 498.19 L807.48 498.13 L808.56 498.07 L809.64 498.02 L810.72 497.96 L811.8 497.9 L812.88 497.84 L813.96 497.78 L815.04 497.72 L816.12 497.66 L817.21 497.6 L818.29 497.54 L819.37 497.48 L820.45 497.42 L821.53 497.36 L822.61 497.29 L823.69 497.23 L824.78 497.17 L825.86 497.11 L826.94 497.04 L828.02 496.98 L829.1 496.92 L830.18 496.85 L831.26 496.79 L832.34 496.72 L833.43 496.66 L834.51 496.59 L835.59 496.53 L836.67 496.46 L837.75 496.4 L838.83 496.33 L839.91 496.26 L840.99 496.2 L842.08 496.13 L843.16 496.06 L844.24 496 L845.32 495.93 L846.4 495.86 L847.48 495.79 L848.56 495.72 L849.64 495.66 L850.73 495.59 L851.81 495.52 L852.89 495.45 L853.97 495.38 L855.05 495.31 L856.13 495.24 L857.21 495.17 L858.29 495.1 L859.38 495.03 L860.46 494.96 L861.54 494.89 L862.62 494.82 L863.7 494.75 L864.78 494.68 L865.86 494.61 L866.94 494.54 L868.03 494.47 L869.11 494.4 L870.19 494.33 L871.27 494.26 L872.35 494.18 L873.43 494.11 L874.51 494.04 L875.59 493.97 L876.68 493.9 L877.76 493.83 L878.84 493.76 L879.92 493.68 L881 493.61 L882.08 493.54 L883.16 493.47 L884.24 493.4 L885.33 493.32 L886.41 493.25 L887.49 493.18 L888.57 493.11 L889.65 493.04 L890.73 492.96 L891.81 492.89 L892.89 492.82 L893.98 492.75 L895.06 492.68 L896.14 492.61 L897.22 492.53 L898.3 492.46 L899.38 492.39 L900.46 492.32 L901.54 492.25 L902.62 492.18 L903.71 492.1 L904.79 492.03 L905.87 491.96 L906.95 491.89 L908.03 491.82 L909.11 491.75 L910.19 491.68 L911.28 491.61 L912.36 491.54 L913.44 491.46 L914.52 491.39 L915.6 491.32 L916.68 491.25 L917.76 491.18 L918.84 491.11 L919.93 491.04 L921.01 490.97 L922.09 490.91 L923.17 490.84 L924.25 490.77 L925.33 490.7 L926.41 490.63 L927.49 490.56 L928.58 490.49 L929.66 490.42 L930.74 490.36 L931.82 490.29 L932.9 490.22 L933.98 490.15 L935.06 490.09 L936.14 490.02 L937.23 489.95 L938.31 489.89 L939.39 489.82 L940.47 489.76 L941.55 489.69 L942.63 489.63 L943.71 489.56 L944.79 489.5 L945.88 489.43 L946.96 489.37 L948.04 489.3 L949.12 489.24 L950.2 489.18 L951.28 489.11 L952.36 489.05 L953.44 488.99 L954.53 488.93 L955.61 488.87 L956.69 488.8 L957.77 488.74 L958.85 488.68 L959.93 488.62 L961.01 488.56 L962.09 488.5 L963.18 488.44 L964.26 488.38 L965.34 488.33 L966.42 488.27 L967.5 488.21 L968.58 488.15 L969.66 488.1 L970.74 488.04 L971.83 487.98 L972.91 487.93 L973.99 487.87 L975.07 487.82 L976.15 487.76 L977.23 487.71 L978.31 487.65 L979.39 487.6 L980.48 487.55 L981.56 487.5 L982.64 487.44 L983.72 487.39 L984.8 487.34 L985.88 487.29 L986.96 487.24 L988.04 487.19 L989.12 487.14 L990.21 487.09 L991.29 487.04 L992.37 487 L993.45 486.95 L994.53 486.9 L995.61 486.85 L996.69 486.81 L997.78 486.76 L998.86 486.72 L999.94 486.67 L1001.02 486.63 L1002.1 486.59 L1003.18 486.54 L1004.26 486.5 L1005.34 486.46 L1006.43 486.42 L1007.51 486.38 L1008.59 486.34 L1009.67 486.3 L1010.75 486.26 L1011.83 486.22 L1012.91 486.18 L1013.99 486.14 L1015.08 486.11 L1016.16 486.07 L1017.24 486.03 L1018.32 486 L1019.4 485.96 L1020.48 485.93 L1021.56 485.9 L1022.64 485.86 L1023.73 485.83 L1024.81 485.8 L1025.89 485.77 L1026.97 485.74 L1028.05 485.71 L1029.13 485.68 L1030.21 485.65 L1031.29 485.62 L1032.38 485.59 L1033.46 485.56 L1034.54 485.54 L1035.62 485.51 L1036.7 485.49 L1037.78 485.46 L1038.86 485.44 L1039.94 485.41 L1041.03 485.39 L1042.11 485.37 L1043.19 485.35 L1044.27 485.32 L1045.35 485.3 L1046.43 485.28 L1047.51 485.26 L1048.59 485.25 L1049.68 485.23 L1050.76 485.21 L1051.84 485.19 L1052.92 485.18 L1054 485.16 L1055.08 485.15 L1056.16 485.13 L1057.24 485.12 L1058.33 485.1 L1059.41 485.09 L1060.49 485.08 L1061.57 485.07 L1062.65 485.06 L1063.73 485.05 L1064.81 485.04 L1065.89 485.03 L1066.98 485.02 L1068.06 485.01 L1069.14 485.01 L1070.22 485 L1071.3 485 L1072.38 484.99 L1073.46 484.99 L1074.54 484.98 L1075.62 484.98 L1076.71 484.98 L1077.79 484.98 L1078.87 484.98 L1079.95 484.98 L1081.03 484.98 L1082.11 484.98 L1083.19 484.98 L1084.28 484.98 L1085.36 484.98 L1086.44 484.99 L1087.52 484.99 L1088.6 485 L1089.68 485 L1090.76 485.01 L1091.84 485.01 L1092.93 485.02 L1094.01 485.03 L1095.09 485.04 L1096.17 485.05 L1097.25 485.06 L1098.33 485.07 L1099.41 485.08 L1100.49 485.09 L1101.58 485.1 L1102.66 485.12 L1103.74 485.13 L1104.82 485.15 L1105.9 485.16 L1106.98 485.18 L1108.06 485.19 L1109.14 485.21 L1110.23 485.23 L1111.31 485.25 L1112.39 485.26 L1113.47 485.28 L1114.55 485.3 L1115.63 485.32 L1116.71 485.35 L1117.79 485.37 L1118.88 485.39 L1119.96 485.41 L1121.04 485.44 L1122.12 485.46 L1123.2 485.49" fill="none" stroke="#35b779" stroke-opacity="0.5" stroke-width="7.3"/>
<path d="M690.7 467.61 L691.78 467.61 L692.86 467.61 L693.94 467.61 L695.03 467.62 L696.11 467.62 L697.19 467.62 L698.27 467.63 L699.35 467.63 L700.43 467.64 L701.51 467.64 L702.59 467.65 L703.68 467.66 L704.76 467.67 L705.84 467.68 L706.92 467.69 L708 467.7 L709.08 467.71 L710.16 467.72 L711.24 467.73 L712.33 467.75 L713.41 467.76 L714.49 467.77 L715.57 467.79 L716.65 467.81 L717.73 467.82 L718.81 467.84 L719.89 467.86 L720.98 467.88 L722.06 467.89 L723.14 467.91 L724.22 467.93 L725.3 467.96 L726.38 467.98 L727.46 468 L728.54 468.02 L729.62 468.05 L730.71 468.07 L731.79 468.1 L732.87 468.12 L733.95 468.15 L735.03 468.17 L736.11 468.2 L737.19 468.23 L738.28 468.26 L739.36 468.29 L740.44 468.32 L741.52 468.35 L742.6 468.38 L743.68 468.41 L744.76 468.44 L745.84 468.48 L746.93 468.51 L748.01 468.55 L749.09 468.58 L750.17 468.62 L751.25 468.65 L752.33 468.69 L753.41 468.73 L754.49 468.76 L755.58 468.8 L756.66 468.84 L757.74 468.88 L758.82 468.92 L759.9 468.96 L760.98 469 L762.06 469.05 L763.14 469.09 L764.23 469.13 L765.31 469.17 L766.39 469.22 L767.47 469.26 L768.55 469.31 L769.63 469.35 L770.71 469.4 L771.79 469.45 L772.88 469.5 L773.96 469.54 L775.04 469.59 L776.12 469.64 L777.2 469.69 L778.28 469.74 L779.36 469.79 L780.44 469.84 L781.53 469.89 L782.61 469.94 L783.69 470 L784.77 470.05 L785.85 470.1 L786.93 470.16 L788.01 470.21 L789.09 470.27 L790.18 470.32 L791.26 470.38 L792.34 470.43 L793.42 470.49 L794.5 470.55 L795.58 470.6 L796.66 470.66 L797.74 470.72 L798.83 470.78 L799.91 470.84 L800.99 470.9 L802.07 470.96 L803.15 471.02 L804.23 471.08 L805.31 471.14 L806.39 471.2 L807.48 471.27 L808.56 471.33 L809.64 471.39 L810.72 471.45 L811.8 471.52 L812.88 471.58 L813.96 471.65 L815.04 471.71 L816.12 471.78 L817.21 471.84 L818.29 471.91 L819.37 471.97 L820.45 472.04 L821.53 472.1 L822.61 472.17 L823.69 472.24 L824.78 472.31 L825.86 472.37 L826.94 472.44 L828.02 472.51 L829.1 472.58 L830.18 472.65 L831.26 472.72 L832.34 472.79 L833.43 472.86 L834.51 472.93 L835.59 473 L836.67 473.07 L837.75 473.14 L838.83 473.21 L839.91 473.28 L840.99 473.35 L842.08 473.43 L843.16 473.5 L844.24 473.57 L845.32 473.64 L846.4 473.71 L847.48 473.79 L848.56 473.86 L849.64 473.93 L850.73 474.01 L851.81 474.08 L852.89 474.15 L853.97 474.23 L855.05 474.3 L856.13 474.37 L857.21 474.45 L858.29 474.52 L859.38 474.6 L860.46 474.67 L861.54 474.75 L862.62 474.82 L863.7 474.9 L864.78 474.97 L865.86 475.05 L866.94 475.12 L868.03 475.2 L869.11 475.27 L870.19 475.35 L871.27 475.42 L872.35 475.5 L873.43 475.57 L874.51 475.65 L875.59 475.73 L876.68 475.8 L877.76 475.88 L878.84 475.95 L879.92 476.03 L881 476.1 L882.08 476.18 L883.16 476.26 L884.24 476.33 L885.33 476.41 L886.41 476.48 L887.49 476.56 L888.57 476.63 L889.65 476.71 L890.73 476.79 L891.81 476.86 L892.89 476.94 L893.98 477.01 L895.06 477.09 L896.14 477.16 L897.22 477.24 L898.3 477.31 L899.38 477.39 L900.46 477.46 L901.54 477.54 L902.62 477.61 L903.71 477.69 L904.79 477.76 L905.87 477.84 L906.95 477.91 L908.03 477.99 L909.11 478.06 L910.19 478.13 L911.28 478.21 L912.36 478.28 L913.44 478.35 L914.52 478.43 L915.6 478.5 L916.68 478.57 L917.76 478.65 L918.84 478.72 L919.93 478.79 L921.01 478.86 L922.09 478.94 L923.17 479.01 L924.25 479.08 L925.33 479.15 L926.41 479.22 L927.49 479.29 L928.58 479.36 L929.66 479.43 L930.74 479.5 L931.82 479.57 L932.9 479.64 L933.98 479.71 L935.06 479.78 L936.14 479.85 L937.23 479.92 L938.31 479.99 L939.39 480.06 L940.47 480.12 L941.55 480.19 L942.63 480.26 L943.71 480.33 L944.79 480.39 L945.88 480.46 L946.96 480.52 L948.04 480.59 L949.12 480.65 L950.2 480.72 L951.28 480.78 L952.36 480.85 L953.44 480.91 L954.53 480.98 L955.61 481.04 L956.69 481.1 L957.77 481.16 L958.85 481.23 L959.93 481.29 L961.01 481.35 L962.09 481.41 L963.18 481.47 L964.26 481.53 L965.34 481.59 L966.42 481.65 L967.5 481.71 L968.58 481.77 L969.66 481.83 L970.74 481.88 L971.83 481.94 L972.91 482 L973.99 482.05 L975.07 482.11 L976.15 482.17 L977.23 482.22 L978.31 482.28 L979.39 482.33 L980.48 482.38 L981.56 482.44 L982.64 482.49 L983.72 482.54 L984.8 482.59 L985.88 482.65 L986.96 482.7 L988.04 482.75 L989.12 482.8 L990.21 482.85 L991.29 482.89 L992.37 482.94 L993.45 482.99 L994.53 483.04 L995.61 483.09 L996.69 483.13 L997.78 483.18 L998.86 483.22 L999.94 483.27 L1001.02 483.31 L1002.1 483.36 L1003.18 483.4 L1004.26 483.44 L1005.34 483.49 L1006.43 483.53 L1007.51 483.57 L1008.59 483.61 L1009.67 483.65 L1010.75 483.69 L1011.83 483.73 L1012.91 483.77 L1013.99 483.8 L1015.08 483.84 L1016.16 483.88 L1017.24 483.91 L1018.32 483.95 L1019.4 483.98 L1020.48 484.02 L1021.56 484.05 L1022.64 484.09 L1023.73 484.12 L1024.81 484.15 L1025.89 484.18 L1026.97 484.21 L1028.05 484.24 L1029.13 484.27 L1030.21 484.3 L1031.29 484.33 L1032.38 484.36 L1033.46 484.39 L1034.54 484.41 L1035.62 484.44 L1036.7 484.47 L1037.78 484.49 L1038.86 484.51 L1039.94 484.54 L1041.03 484.56 L1042.11 484.58 L1043.19 484.61 L1044.27 484.63 L1045.35 484.65 L1046.43 484.67 L1047.51 484.69 L1048.59 484.71 L1049.68 484.72 L1050.76 484.74 L1051.84 484.76 L1052.92 484.78 L1054 484.79 L1055.08 484.81 L1056.16 484.82 L1057.24 484.83 L1058.33 484.85 L1059.41 484.86 L1060.49 484.87 L1061.57 484.88 L1062.65 484.89 L1063.73 484.9 L1064.81 484.91 L1065.89 484.92 L1066.98 484.93 L1068.06 484.94 L1069.14 484.94 L1070.22 484.95 L1071.3 484.96 L1072.38 484.96 L1073.46 484.96 L1074.54 484.97 L1075.62 484.97 L1076.71 484.97 L1077.79 484.97 L1078.87 484.98 L1079.95 484.98 L1081.03 484.98 L1082.11 484.97 L1083.19 484.97 L1084.28 484.97 L1085.36 484.97 L1086.44 484.96 L1087.52 484.96 L1088.6 484.96 L1089.68 484.95 L1090.76 484.94 L1091.84 484.94 L1092.93 484.93 L1094.01 484.92 L1095.09 484.91 L1096.17 484.9 L1097.25 484.89 L1098.33 484.88 L1099.41 484.87 L1100.49 484.86 L1101.58 484.85 L1102.66 484.83 L1103.74 484.82 L1104.82 484.81 L1105.9 484.79 L1106.98 484.78 L1108.06 484.76 L1109.14 484.74 L1110.23 484.72 L1111.31 484.71 L1112.39 484.69 L1113.47 484.67 L1114.55 484.65 L1115.63 484.63 L1116.71 484.61 L1117.79 484.58 L1118.88 484.56 L1119.96 484.54 L1121.04 484.51 L1122.12 484.49 L1123.2 484.47" fill="none" stroke="#35b779" stroke-opacity="0.5" stroke-width="7.3" stroke-dasharray="27.01 11.68"/>
<path d="M695.3 266.43 L696.37 266.43 L697.44 266.43 L698.51 266.43 L699.58 266.43 L700.65 266.43 L701.72 266.43 L702.79 266.43 L703.86 266.43 L704.93 266.43 L706 266.43 L707.07 266.43 L708.14 266.43 L709.21 266.43 L710.28 266.43 L711.35 266.43 L712.42 266.43 L713.49 266.43 L714.56 266.43 L715.63 266.43 L716.7 266.43 L717.76 266.43 L718.83 266.43 L719.9 266.43 L720.97 266.43 L722.04 266.43 L723.11 266.43 L724.18 266.43 L725.25 266.43 L726.32 266.43 L727.39 266.43 L728.46 266.43 L729.53 266.43 L730.6 266.43 L731.67 266.43 L732.74 266.43 L733.81 266.43 L734.88 266.43 L735.95 266.43 L737.02 266.43 L738.09 266.43 L739.16 266.43 L740.23 266.43 L741.3 266.43 L742.37 266.43 L743.44 266.43 L744.51 266.43 L745.58 266.43 L746.65 266.43 L747.72 266.43 L748.79 266.43 L749.86 266.43 L750.93 266.43 L752 266.43 L753.07 266.43 L754.14 266.43 L755.21 266.43 L756.28 266.43 L757.35 266.43 L758.42 266.43 L759.49 266.43 L760.55 266.43 L761.62 266.43 L762.69 266.43 L763.76 266.43 L764.83 266.43 L765.9 266.43 L766.97 266.43 L768.04 266.43 L769.11 266.43 L770.18 266.43 L771.25 266.43 L772.32 266.43 L773.39 266.43 L774.46 266.43 L775.53 266.43 L776.6 266.43 L777.67 266.43 L778.74 266.43 L779.81 266.43 L780.88 266.43 L781.95 266.43 L783.02 266.43 L784.09 266.43 L785.16 266.43 L786.23 266.43 L787.3 266.43 L788.37 266.43 L789.44 266.43 L790.51 266.43 L791.58 266.43 L792.65 266.43 L793.72 266.43 L794.79 266.43 L795.86 266.43 L796.93 266.43 L798 266.43 L799.07 266.43 L800.14 266.43 L801.21 266.43 L802.28 266.43 L803.34 266.43 L804.41 266.43 L805.48 266.43 L806.55 266.43 L807.62 266.43 L808.69 266.43 L809.76 266.43 L810.83 266.43 L811.9 266.43 L812.97 266.43 L814.04 266.43 L815.11 266.43 L816.18 266.43 L817.25 266.43 L818.32 266.43 L819.39 266.43 L820.46 266.43 L821.53 266.43 L822.6 266.43 L823.67 266.43 L824.74 266.43 L825.81 266.43 L826.88 266.43 L827.95 266.43 L829.02 266.43 L830.09 266.43 L831.16 266.43 L832.23 266.43 L833.3 266.43 L834.37 266.43 L835.44 266.43 L836.51 266.43 L837.58 266.43 L838.65 266.43 L839.72 266.43 L840.79 266.43 L841.86 266.43 L842.93 266.43 L844 266.43 L845.07 266.43 L846.13 266.43 L847.2 266.43 L848.27 266.43 L849.34 266.43 L850.41 266.43 L851.48 266.43 L852.55 266.43 L853.62 266.43 L854.69 266.43 L855.76 266.43 L856.83 266.43 L857.9 266.43 L858.97 266.43 L860.04 266.43 L861.11 266.43 L862.18 266.43 L863.25 266.43 L864.32 266.43 L865.39 266.43 L866.46 266.43 L867.53 266.43 L868.6 266.43 L869.67 266.43 L870.74 266.43 L871.81 266.43 L872.88 266.43 L873.95 266.43 L875.02 266.43 L876.09 266.43 L877.16 266.43 L878.23 266.43 L879.3 266.43 L880.37 266.43 L881.44 266.43 L882.51 266.43 L883.58 266.43 L884.65 266.43 L885.72 266.43 L886.79 266.43 L887.86 266.43 L888.92 266.43 L889.99 266.43 L891.06 266.43 L892.13 266.43 L893.2 266.43 L894.27 266.43 L895.34 266.43 L896.41 266.43 L897.48 266.43 L898.55 266.43 L899.62 266.43 L900.69 266.43 L901.76 266.43 L902.83 266.43 L903.9 266.43 L904.97 266.43 L906.04 266.43 L907.11 266.43 L908.18 266.43 L909.25 266.43 L910.32 266.43 L911.39 266.43 L912.46 266.43 L913.53 266.43 L914.6 266.43 L915.67 266.43 L916.74 266.43 L917.81 266.43 L918.88 266.43 L919.95 266.43 L921.02 266.43 L922.09 266.43 L923.16 266.43 L924.23 266.43 L925.3 266.43 L926.37 266.43 L927.44 266.43 L928.51 266.43 L929.58 266.43 L930.64 266.43 L931.71 266.43 L932.78 266.43 L933.85 266.43 L934.92 266.43 L935.99 266.43 L937.06 266.43 L938.13 266.43 L939.2 266.43 L940.27 266.43 L941.34 266.43 L942.41 266.43 L943.48 266.43 L944.55 266.43 L945.62 266.43 L946.69 266.43 L947.76 266.43 L948.83 266.43 L949.9 266.43 L950.97 266.43 L952.04 266.43 L953.11 266.43 L954.18 266.43 L955.25 266.43 L956.32 266.43 L957.39 266.43 L958.46 266.43 L959.53 266.43 L960.6 266.43 L961.67 266.43 L962.74 266.43 L963.81 266.43 L964.88 266.43 L965.95 266.43 L967.02 266.43 L968.09 266.43 L969.16 266.43 L970.23 266.43 L971.3 266.43 L972.37 266.43 L973.43 266.43 L974.5 266.43 L975.57 266.43 L976.64 266.43 L977.71 266.43 L978.78 266.43 L979.85 266.43 L980.92 266.43 L981.99 266.43 L983.06 266.43 L984.13 266.43 L985.2 266.43 L986.27 266.43 L987.34 266.43 L988.41 266.43 L989.48 266.43 L990.55 266.43 L991.62 266.43 L992.69 266.43 L993.76 266.43 L994.83 266.43 L995.9 266.43 L996.97 266.43 L998.04 266.43 L999.11 266.43 L1000.18 266.43 L1001.25 266.43 L1002.32 266.43 L1003.39 266.43 L1004.46 266.43 L1005.53 266.43 L1006.6 266.43 L1007.67 266.43 L1008.74 266.43 L1009.81 266.43 L1010.88 266.43 L1011.95 266.43 L1013.02 266.43 L1014.09 266.43 L1015.16 266.43 L1016.23 266.43 L1017.29 266.43 L1018.36 266.43 L1019.43 266.43 L1020.5 266.43 L1021.57 266.43 L1022.64 266.43 L1023.71 266.43 L1024.78 266.43 L1025.85 266.43 L1026.92 266.43 L1027.99 266.43 L1029.06 266.43 L1030.13 266.43 L1031.2 266.43 L1032.27 266.43 L1033.34 266.43 L1034.41 266.43 L1035.48 266.43 L1036.55 266.43 L1037.62 266.43 L1038.69 266.43 L1039.76 266.43 L1040.83 266.43 L1041.9 266.43 L1042.97 266.43 L1044.04 266.43 L1045.11 266.43 L1046.18 266.43 L1047.25 266.43 L1048.32 266.43 L1049.39 266.43 L1050.46 266.43 L1051.53 266.43 L1052.6 266.43 L1053.67 266.43 L1054.74 266.43 L1055.81 266.43 L1056.88 266.43 L1057.95 266.43 L1059.02 266.43 L1060.08 266.43 L1061.15 266.43 L1062.22 266.43 L1063.29 266.43 L1064.36 266.43 L1065.43 266.43 L1066.5 266.43 L1067.57 266.43 L1068.64 266.43 L1069.71 266.43 L1070.78 266.43 L1071.85 266.43 L1072.92 266.43 L1073.99 266.43 L1075.06 266.43 L1076.13 266.43 L1077.2 266.43 L1078.27 266.43 L1079.34 266.43 L1080.41 266.43 L1081.48 266.43 L1082.55 266.43 L1083.62 266.43 L1084.69 266.43 L1085.76 266.43 L1086.83 266.43 L1087.9 266.43 L1088.97 266.43 L1090.04 266.43 L1091.11 266.43 L1092.18 266.43 L1093.25 266.43 L1094.32 266.43 L1095.39 266.43 L1096.46 266.43 L1097.53 266.43 L1098.6 266.43 L1099.67 266.43 L1100.74 266.43 L1101.81 266.43 L1102.87 266.43 L1103.94 266.43 L1105.01 266.43 L1106.08 266.43 L1107.15 266.43 L1108.22 266.43 L1109.29 266.43 L1110.36 266.43 L1111.43 266.43 L1112.5 266.43 L1113.57 266.43 L1114.64 266.43 L1115.71 266.43 L1116.78 266.43 L1117.85 266.43 L1118.92 266.43 L1119.99 266.43 L1121.06 266.43 L1122.13 266.43 L1123.2 266.43" fill="none" stroke="#31688e" stroke-opacity="0.5" stroke-width="7.3" stroke-dasharray="7.3 12.09"/>
<path d="M690.7 263.81 L691.78 263.81 L692.86 263.81 L693.94 263.81 L695.03 263.81 L696.11 263.81 L697.19 263.81 L698.27 263.81 L699.35 263.82 L700.43 263.82 L701.51 263.82 L702.59 263.82 L703.68 263.82 L704.76 263.82 L705.84 263.82 L706.92 263.82 L708 263.82 L709.08 263.83 L710.16 263.83 L711.24 263.83 L712.33 263.83 L713.41 263.83 L714.49 263.84 L715.57 263.84 L716.65 263.84 L717.73 263.84 L718.81 263.85 L719.89 263.85 L720.98 263.85 L722.06 263.85 L723.14 263.86 L724.22 263.86 L725.3 263.86 L726.38 263.87 L727.46 263.87 L728.54 263.87 L729.62 263.88 L730.71 263.88 L731.79 263.88 L732.87 263.89 L733.95 263.89 L735.03 263.9 L736.11 263.9 L737.19 263.9 L738.28 263.91 L739.36 263.91 L740.44 263.92 L741.52 263.92 L742.6 263.93 L743.68 263.93 L744.76 263.94 L745.84 263.94 L746.93 263.94 L748.01 263.95 L749.09 263.96 L750.17 263.96 L751.25 263.97 L752.33 263.97 L753.41 263.98 L754.49 263.98 L755.58 263.99 L756.66 263.99 L757.74 264 L758.82 264.01 L759.9 264.01 L760.98 264.02 L762.06 264.02 L763.14 264.03 L764.23 264.04 L765.31 264.04 L766.39 264.05 L767.47 264.06 L768.55 264.06 L769.63 264.07 L770.71 264.08 L771.79 264.08 L772.88 264.09 L773.96 264.1 L775.04 264.1 L776.12 264.11 L777.2 264.12 L778.28 264.13 L779.36 264.13 L780.44 264.14 L781.53 264.15 L782.61 264.16 L783.69 264.16 L784.77 264.17 L785.85 264.18 L786.93 264.19 L788.01 264.2 L789.09 264.2 L790.18 264.21 L791.26 264.22 L792.34 264.23 L793.42 264.24 L794.5 264.25 L795.58 264.25 L796.66 264.26 L797.74 264.27 L798.83 264.28 L799.91 264.29 L800.99 264.3 L802.07 264.31 L803.15 264.32 L804.23 264.33 L805.31 264.33 L806.39 264.34 L807.48 264.35 L808.56 264.36 L809.64 264.37 L810.72 264.38 L811.8 264.39 L812.88 264.4 L813.96 264.41 L815.04 264.42 L816.12 264.43 L817.21 264.44 L818.29 264.45 L819.37 264.46 L820.45 264.47 L821.53 264.48 L822.61 264.49 L823.69 264.5 L824.78 264.51 L825.86 264.52 L826.94 264.53 L828.02 264.54 L829.1 264.55 L830.18 264.56 L831.26 264.57 L832.34 264.58 L833.43 264.59 L834.51 264.6 L835.59 264.61 L836.67 264.62 L837.75 264.63 L838.83 264.64 L839.91 264.65 L840.99 264.66 L842.08 264.67 L843.16 264.69 L844.24 264.7 L845.32 264.71 L846.4 264.72 L847.48 264.73 L848.56 264.74 L849.64 264.75 L850.73 264.76 L851.81 264.77 L852.89 264.78 L853.97 264.79 L855.05 264.81 L856.13 264.82 L857.21 264.83 L858.29 264.84 L859.38 264.85 L860.46 264.86 L861.54 264.87 L862.62 264.88 L863.7 264.89 L864.78 264.91 L865.86 264.92 L866.94 264.93 L868.03 264.94 L869.11 264.95 L870.19 264.96 L871.27 264.97 L872.35 264.99 L873.43 265 L874.51 265.01 L875.59 265.02 L876.68 265.03 L877.76 265.04 L878.84 265.05 L879.92 265.06 L881 265.08 L882.08 265.09 L883.16 265.1 L884.24 265.11 L885.33 265.12 L886.41 265.13 L887.49 265.14 L888.57 265.16 L889.65 265.17 L890.73 265.18 L891.81 265.19 L892.89 265.2 L893.98 265.21 L895.06 265.22 L896.14 265.24 L897.22 265.25 L898.3 265.26 L899.38 265.27 L900.46 265.28 L901.54 265.29 L902.62 265.3 L903.71 265.31 L904.79 265.33 L905.87 265.34 L906.95 265.35 L908.03 265.36 L909.11 265.37 L910.19 265.38 L911.28 265.39 L912.36 265.4 L913.44 265.42 L914.52 265.43 L915.6 265.44 L916.68 265.45 L917.76 265.46 L918.84 265.47 L919.93 265.48 L921.01 265.49 L922.09 265.5 L923.17 265.51 L924.25 265.53 L925.33 265.54 L926.41 265.55 L927.49 265.56 L928.58 265.57 L929.66 265.58 L930.74 265.59 L931.82 265.6 L932.9 265.61 L933.98 265.62 L935.06 265.63 L936.14 265.64 L937.23 265.65 L938.31 265.66 L939.39 265.67 L940.47 265.68 L941.55 265.69 L942.63 265.7 L943.71 265.71 L944.79 265.73 L945.88 265.74 L946.96 265.75 L948.04 265.76 L949.12 265.77 L950.2 265.78 L951.28 265.78 L952.36 265.79 L953.44 265.8 L954.53 265.81 L955.61 265.82 L956.69 265.83 L957.77 265.84 L958.85 265.85 L959.93 265.86 L961.01 265.87 L962.09 265.88 L963.18 265.89 L964.26 265.9 L965.34 265.91 L966.42 265.92 L967.5 265.93 L968.58 265.93 L969.66 265.94 L970.74 265.95 L971.83 265.96 L972.91 265.97 L973.99 265.98 L975.07 265.99 L976.15 266 L977.23 266 L978.31 266.01 L979.39 266.02 L980.48 266.03 L981.56 266.04 L982.64 266.05 L983.72 266.05 L984.8 266.06 L985.88 266.07 L986.96 266.08 L988.04 266.08 L989.12 266.09 L990.21 266.1 L991.29 266.11 L992.37 266.11 L993.45 266.12 L994.53 266.13 L995.61 266.14 L996.69 266.14 L997.78 266.15 L998.86 266.16 L999.94 266.16 L1001.02 266.17 L1002.1 266.18 L1003.18 266.18 L1004.26 266.19 L1005.34 266.2 L1006.43 266.2 L1007.51 266.21 L1008.59 266.22 L1009.67 266.22 L1010.75 266.23 L1011.83 266.24 L1012.91 266.24 L1013.99 266.25 L1015.08 266.25 L1016.16 266.26 L1017.24 266.26 L1018.32 266.27 L1019.4 266.27 L1020.48 266.28 L1021.56 266.29 L1022.64 266.29 L1023.73 266.3 L1024.81 266.3 L1025.89 266.31 L1026.97 266.31 L1028.05 266.31 L1029.13 266.32 L1030.21 266.32 L1031.29 266.33 L1032.38 266.33 L1033.46 266.34 L1034.54 266.34 L1035.62 266.34 L1036.7 266.35 L1037.78 266.35 L1038.86 266.36 L1039.94 266.36 L1041.03 266.36 L1042.11 266.37 L1043.19 266.37 L1044.27 266.37 L1045.35 266.38 L1046.43 266.38 L1047.51 266.38 L1048.59 266.39 L1049.68 266.39 L1050.76 266.39 L1051.84 266.39 L1052.92 266.4 L1054 266.4 L1055.08 266.4 L1056.16 266.4 L1057.24 266.41 L1058.33 266.41 L1059.41 266.41 L1060.49 266.41 L1061.57 266.41 L1062.65 266.41 L1063.73 266.42 L1064.81 266.42 L1065.89 266.42 L1066.98 266.42 L1068.06 266.42 L1069.14 266.42 L1070.22 266.42 L1071.3 266.42 L1072.38 266.42 L1073.46 266.43 L1074.54 266.43 L1075.62 266.43 L1076.71 266.43 L1077.79 266.43 L1078.87 266.43 L1079.95 266.43 L1081.03 266.43 L1082.11 266.43 L1083.19 266.43 L1084.28 266.43 L1085.36 266.43 L1086.44 266.43 L1087.52 266.42 L1088.6 266.42 L1089.68 266.42 L1090.76 266.42 L1091.84 266.42 L1092.93 266.42 L1094.01 266.42 L1095.09 266.42 L1096.17 266.42 L1097.25 266.41 L1098.33 266.41 L1099.41 266.41 L1100.49 266.41 L1101.58 266.41 L1102.66 266.41 L1103.74 266.4 L1104.82 266.4 L1105.9 266.4 L1106.98 266.4 L1108.06 266.39 L1109.14 266.39 L1110.23 266.39 L1111.31 266.39 L1112.39 266.38 L1113.47 266.38 L1114.55 266.38 L1115.63 266.37 L1116.71 266.37 L1117.79 266.37 L1118.88 266.36 L1119.96 266.36 L1121.04 266.36 L1122.12 266.35 L1123.2 266.35" fill="none" stroke="#31688e" stroke-opacity="0.5" stroke-width="7.3"/>
<path d="M690.7 269.03 L691.78 269.03 L692.86 269.03 L693.94 269.03 L695.03 269.03 L696.11 269.03 L697.19 269.02 L698.27 269.02 L699.35 269.02 L700.43 269.02 L701.51 269.02 L702.59 269.02 L703.68 269.02 L704.76 269.02 L705.84 269.02 L706.92 269.02 L708 269.01 L709.08 269.01 L710.16 269.01 L711.24 269.01 L712.33 269.01 L713.41 269.01 L714.49 269 L715.57 269 L716.65 269 L717.73 269 L718.81 268.99 L719.89 268.99 L720.98 268.99 L722.06 268.99 L723.14 268.98 L724.22 268.98 L725.3 268.98 L726.38 268.97 L727.46 268.97 L728.54 268.97 L729.62 268.96 L730.71 268.96 L731.79 268.96 L732.87 268.95 L733.95 268.95 L735.03 268.94 L736.11 268.94 L737.19 268.94 L738.28 268.93 L739.36 268.93 L740.44 268.92 L741.52 268.92 L742.6 268.91 L743.68 268.91 L744.76 268.91 L745.84 268.9 L746.93 268.9 L748.01 268.89 L749.09 268.89 L750.17 268.88 L751.25 268.88 L752.33 268.87 L753.41 268.86 L754.49 268.86 L755.58 268.85 L756.66 268.85 L757.74 268.84 L758.82 268.84 L759.9 268.83 L760.98 268.82 L762.06 268.82 L763.14 268.81 L764.23 268.81 L765.31 268.8 L766.39 268.79 L767.47 268.79 L768.55 268.78 L769.63 268.77 L770.71 268.77 L771.79 268.76 L772.88 268.75 L773.96 268.74 L775.04 268.74 L776.12 268.73 L777.2 268.72 L778.28 268.72 L779.36 268.71 L780.44 268.7 L781.53 268.69 L782.61 268.69 L783.69 268.68 L784.77 268.67 L785.85 268.66 L786.93 268.65 L788.01 268.65 L789.09 268.64 L790.18 268.63 L791.26 268.62 L792.34 268.61 L793.42 268.61 L794.5 268.6 L795.58 268.59 L796.66 268.58 L797.74 268.57 L798.83 268.56 L799.91 268.55 L800.99 268.55 L802.07 268.54 L803.15 268.53 L804.23 268.52 L805.31 268.51 L806.39 268.5 L807.48 268.49 L808.56 268.48 L809.64 268.47 L810.72 268.46 L811.8 268.46 L812.88 268.45 L813.96 268.44 L815.04 268.43 L816.12 268.42 L817.21 268.41 L818.29 268.4 L819.37 268.39 L820.45 268.38 L821.53 268.37 L822.61 268.36 L823.69 268.35 L824.78 268.34 L825.86 268.33 L826.94 268.32 L828.02 268.31 L829.1 268.3 L830.18 268.29 L831.26 268.28 L832.34 268.27 L833.43 268.26 L834.51 268.25 L835.59 268.24 L836.67 268.23 L837.75 268.22 L838.83 268.21 L839.91 268.19 L840.99 268.18 L842.08 268.17 L843.16 268.16 L844.24 268.15 L845.32 268.14 L846.4 268.13 L847.48 268.12 L848.56 268.11 L849.64 268.1 L850.73 268.09 L851.81 268.08 L852.89 268.07 L853.97 268.05 L855.05 268.04 L856.13 268.03 L857.21 268.02 L858.29 268.01 L859.38 268 L860.46 267.99 L861.54 267.98 L862.62 267.97 L863.7 267.95 L864.78 267.94 L865.86 267.93 L866.94 267.92 L868.03 267.91 L869.11 267.9 L870.19 267.89 L871.27 267.88 L872.35 267.86 L873.43 267.85 L874.51 267.84 L875.59 267.83 L876.68 267.82 L877.76 267.81 L878.84 267.8 L879.92 267.79 L881 267.77 L882.08 267.76 L883.16 267.75 L884.24 267.74 L885.33 267.73 L886.41 267.72 L887.49 267.71 L888.57 267.69 L889.65 267.68 L890.73 267.67 L891.81 267.66 L892.89 267.65 L893.98 267.64 L895.06 267.63 L896.14 267.62 L897.22 267.6 L898.3 267.59 L899.38 267.58 L900.46 267.57 L901.54 267.56 L902.62 267.55 L903.71 267.54 L904.79 267.53 L905.87 267.51 L906.95 267.5 L908.03 267.49 L909.11 267.48 L910.19 267.47 L911.28 267.46 L912.36 267.45 L913.44 267.44 L914.52 267.43 L915.6 267.41 L916.68 267.4 L917.76 267.39 L918.84 267.38 L919.93 267.37 L921.01 267.36 L922.09 267.35 L923.17 267.34 L924.25 267.33 L925.33 267.32 L926.41 267.31 L927.49 267.29 L928.58 267.28 L929.66 267.27 L930.74 267.26 L931.82 267.25 L932.9 267.24 L933.98 267.23 L935.06 267.22 L936.14 267.21 L937.23 267.2 L938.31 267.19 L939.39 267.18 L940.47 267.17 L941.55 267.16 L942.63 267.15 L943.71 267.14 L944.79 267.13 L945.88 267.12 L946.96 267.11 L948.04 267.1 L949.12 267.09 L950.2 267.08 L951.28 267.07 L952.36 267.06 L953.44 267.05 L954.53 267.04 L955.61 267.03 L956.69 267.02 L957.77 267.01 L958.85 267 L959.93 266.99 L961.01 266.98 L962.09 266.97 L963.18 266.96 L964.26 266.96 L965.34 266.95 L966.42 266.94 L967.5 266.93 L968.58 266.92 L969.66 266.91 L970.74 266.9 L971.83 266.89 L972.91 266.88 L973.99 266.88 L975.07 266.87 L976.15 266.86 L977.23 266.85 L978.31 266.84 L979.39 266.83 L980.48 266.83 L981.56 266.82 L982.64 266.81 L983.72 266.8 L984.8 266.79 L985.88 266.79 L986.96 266.78 L988.04 266.77 L989.12 266.76 L990.21 266.75 L991.29 266.75 L992.37 266.74 L993.45 266.73 L994.53 266.72 L995.61 266.72 L996.69 266.71 L997.78 266.7 L998.86 266.7 L999.94 266.69 L1001.02 266.68 L1002.1 266.68 L1003.18 266.67 L1004.26 266.66 L1005.34 266.66 L1006.43 266.65 L1007.51 266.64 L1008.59 266.64 L1009.67 266.63 L1010.75 266.63 L1011.83 266.62 L1012.91 266.61 L1013.99 266.61 L1015.08 266.6 L1016.16 266.6 L1017.24 266.59 L1018.32 266.59 L1019.4 266.58 L1020.48 266.57 L1021.56 266.57 L1022.64 266.56 L1023.73 266.56 L1024.81 266.55 L1025.89 266.55 L1026.97 266.54 L1028.05 266.54 L1029.13 266.54 L1030.21 266.53 L1031.29 266.53 L1032.38 266.52 L1033.46 266.52 L1034.54 266.51 L1035.62 266.51 L1036.7 266.51 L1037.78 266.5 L1038.86 266.5 L1039.94 266.49 L1041.03 266.49 L1042.11 266.49 L1043.19 266.48 L1044.27 266.48 L1045.35 266.48 L1046.43 266.47 L1047.51 266.47 L1048.59 266.47 L1049.68 266.47 L1050.76 266.46 L1051.84 266.46 L1052.92 266.46 L1054 266.46 L1055.08 266.45 L1056.16 266.45 L1057.24 266.45 L1058.33 266.45 L1059.41 266.45 L1060.49 266.44 L1061.57 266.44 L1062.65 266.44 L1063.73 266.44 L1064.81 266.44 L1065.89 266.44 L1066.98 266.43 L1068.06 266.43 L1069.14 266.43 L1070.22 266.43 L1071.3 266.43 L1072.38 266.43 L1073.46 266.43 L1074.54 266.43 L1075.62 266.43 L1076.71 266.43 L1077.79 266.43 L1078.87 266.43 L1079.95 266.43 L1081.03 266.43 L1082.11 266.43 L1083.19 266.43 L1084.28 266.43 L1085.36 266.43 L1086.44 266.43 L1087.52 266.43 L1088.6 266.43 L1089.68 266.43 L1090.76 266.43 L1091.84 266.43 L1092.93 266.43 L1094.01 266.44 L1095.09 266.44 L1096.17 266.44 L1097.25 266.44 L1098.33 266.44 L1099.41 266.44 L1100.49 266.45 L1101.58 266.45 L1102.66 266.45 L1103.74 266.45 L1104.82 266.45 L1105.9 266.46 L1106.98 266.46 L1108.06 266.46 L1109.14 266.46 L1110.23 266.47 L1111.31 266.47 L1112.39 266.47 L1113.47 266.47 L1114.55 266.48 L1115.63 266.48 L1116.71 266.48 L1117.79 266.49 L1118.88 266.49 L1119.96 266.49 L1121.04 266.5 L1122.12 266.5 L1123.2 266.51" fill="none" stroke="#31688e" stroke-opacity="0.5" stroke-width="7.3" stroke-dasharray="27.01 11.68"/>
</g>
<g clip-path="url(#c01)">
<path d="M325.62 1324.67 L326.49 1323.49 L327.57 1322 L328.65 1320.5 L329.73 1319 L330.81 1317.48 L331.89 1315.97 L332.98 1314.44 L334.06 1312.91 L335.14 1311.37 L336.22 1309.82 L337.3 1308.27 L338.38 1306.71 L339.46 1305.14 L340.54 1303.57 L341.62 1301.99 L342.71 1300.4 L343.79 1298.81 L344.87 1297.21 L345.95 1295.61 L347.03 1294 L348.11 1292.39 L349.19 1290.77 L350.27 1289.14 L351.36 1287.51 L352.44 1285.88 L353.52 1284.23 L354.6 1282.59 L355.68 1280.94 L356.76 1279.29 L357.84 1277.63 L358.93 1275.96 L360.01 1274.3 L361.09 1272.63 L362.17 1270.95 L363.25 1269.27 L364.33 1267.59 L365.41 1265.9 L366.49 1264.21 L367.58 1262.52 L368.66 1260.82 L369.74 1259.13 L370.82 1257.42 L371.9 1255.72 L372.98 1254.01 L374.06 1252.3 L375.14 1250.59 L376.23 1248.88 L377.31 1247.16 L378.39 1245.44 L379.47 1243.72 L380.55 1242 L381.63 1240.28 L382.71 1238.55 L383.79 1236.82 L384.88 1235.1 L385.96 1233.37 L387.04 1231.64 L388.12 1229.91 L389.2 1228.18 L390.28 1226.45 L391.36 1224.71 L392.44 1222.98 L393.52 1221.25 L394.61 1219.52 L395.69 1217.79 L396.77 1216.05 L397.85 1214.32 L398.93 1212.59 L400.01 1210.86 L401.09 1209.13 L402.18 1207.4 L403.26 1205.68 L404.34 1203.95 L405.42 1202.22 L406.5 1200.5 L407.58 1198.78 L408.66 1197.06 L409.74 1195.34 L410.83 1193.62 L411.91 1191.91 L412.99 1190.2 L414.07 1188.49 L415.15 1186.78 L416.23 1185.08 L417.31 1183.37 L418.39 1181.68 L419.48 1179.98 L420.56 1178.29 L421.64 1176.6 L422.72 1174.91 L423.8 1173.23 L424.88 1171.55 L425.96 1169.87 L427.04 1168.2 L428.12 1166.54 L429.21 1164.87 L430.29 1163.21 L431.37 1161.56 L432.45 1159.91 L433.53 1158.27 L434.61 1156.62 L435.69 1154.99 L436.77 1153.36 L437.86 1151.73 L438.94 1150.11 L440.02 1148.5 L441.1 1146.89 L442.18 1145.29 L443.26 1143.69 L444.34 1142.1 L445.43 1140.51 L446.51 1138.93 L447.59 1137.36 L448.67 1135.79 L449.75 1134.23 L450.83 1132.68 L451.91 1131.13 L452.99 1129.59 L454.08 1128.06 L455.16 1126.53 L456.24 1125.02 L457.32 1123.5 L458.4 1122 L459.48 1120.5 L460.56 1119.01 L461.64 1117.53 L462.73 1116.06 L463.81 1114.6 L464.89 1113.14 L465.97 1111.69 L467.05 1110.25 L468.13 1108.82 L469.21 1107.4 L470.29 1105.98 L471.38 1104.57 L472.46 1103.18 L473.54 1101.79 L474.62 1100.41 L475.7 1099.04 L476.78 1097.68 L477.86 1096.33 L478.94 1094.99 L480.02 1093.66 L481.11 1092.33 L482.19 1091.02 L483.27 1089.72 L484.35 1088.43 L485.43 1087.15 L486.51 1085.87 L487.59 1084.61 L488.68 1083.36 L489.76 1082.12 L490.84 1080.89 L491.92 1079.67 L493 1078.46 L494.08 1077.26 L495.16 1076.08 L496.24 1074.9 L497.33 1073.74 L498.41 1072.58 L499.49 1071.44 L500.57 1070.31 L501.65 1069.19 L502.73 1068.08 L503.81 1066.99 L504.89 1065.9 L505.98 1064.83 L507.06 1063.77 L508.14 1062.72 L509.22 1061.68 L510.3 1060.66 L511.38 1059.65 L512.46 1058.65 L513.54 1057.66 L514.62 1056.69 L515.71 1055.72 L516.79 1054.77 L517.87 1053.84 L518.95 1052.91 L520.03 1052 L521.11 1051.1 L522.19 1050.22 L523.27 1049.34 L524.36 1048.48 L525.44 1047.64 L526.52 1046.8 L527.6 1045.98 L528.68 1045.18 L529.76 1044.39 L530.84 1043.61 L531.93 1042.84 L533.01 1042.09 L534.09 1041.35 L535.17 1040.62 L536.25 1039.91 L537.33 1039.21 L538.41 1038.53 L539.49 1037.86 L540.58 1037.2 L541.66 1036.56 L542.74 1035.93 L543.82 1035.32 L544.9 1034.72 L545.98 1034.14 L547.06 1033.56 L548.14 1033.01 L549.23 1032.47 L550.31 1031.94 L551.39 1031.42 L552.47 1030.92 L553.55 1030.44 L554.63 1029.97 L555.71 1029.51 L556.79 1029.07 L557.88 1028.65 L558.96 1028.23 L560.04 1027.84 L561.12 1027.46 L562.2 1027.09 L563.28 1026.73 L564.36 1026.4 L565.44 1026.07 L566.52 1025.77 L567.61 1025.47 L568.69 1025.19 L569.77 1024.93 L570.85 1024.68 L571.93 1024.45 L573.01 1024.23 L574.09 1024.03 L575.18 1023.84 L576.26 1023.66 L577.34 1023.51 L578.42 1023.36 L579.5 1023.23 L580.58 1023.12 L581.66 1023.02 L582.74 1022.94 L583.83 1022.87 L584.91 1022.82 L585.99 1022.78 L587.07 1022.76 L588.15 1022.75 L589.23 1022.76 L590.31 1022.78 L591.39 1022.82 L592.48 1022.87 L593.56 1022.94 L594.64 1023.02 L595.72 1023.12 L596.8 1023.23 L597.88 1023.36 L598.96 1023.51 L600.04 1023.66 L601.12 1023.84 L602.21 1024.03 L603.29 1024.23 L604.37 1024.45 L605.45 1024.68 L606.53 1024.93 L607.61 1025.19 L608.69 1025.47 L609.77 1025.77 L610.86 1026.07 L611.94 1026.4 L613.02 1026.73 L614.1 1027.09 L615.18 1027.46 L616.26 1027.84 L617.34 1028.23 L618.43 1028.65 L619.51 1029.07 L620.59 1029.51 L621.67 1029.97 L622.75 1030.44 L623.83 1030.92 L624.91 1031.42 L625.99 1031.94 L627.08 1032.47 L628.16 1033.01 L629.24 1033.56 L630.32 1034.14 L631.4 1034.72" fill="none" stroke="#35b779" stroke-opacity="0.5" stroke-width="7.3"/>
<path d="M325.62 720.83 L326.31 721.77 L327.38 723.24 L328.45 724.72 L329.52 726.21 L330.59 727.7 L331.66 729.21 L332.73 730.71 L333.8 732.23 L334.87 733.75 L335.94 735.28 L337.01 736.82 L338.08 738.36 L339.15 739.91 L340.22 741.47 L341.29 743.03 L342.37 744.6 L343.44 746.17 L344.51 747.75 L345.58 749.34 L346.65 750.93 L347.72 752.52 L348.79 754.13 L349.86 755.73 L350.93 757.34 L352 758.96 L353.07 760.58 L354.14 762.21 L355.21 763.84 L356.28 765.48 L357.35 767.12 L358.42 768.76 L359.49 770.41 L360.56 772.06 L361.63 773.72 L362.7 775.38 L363.78 777.05 L364.85 778.71 L365.92 780.38 L366.99 782.06 L368.06 783.74 L369.13 785.42 L370.2 787.1 L371.27 788.78 L372.34 790.47 L373.41 792.16 L374.48 793.86 L375.55 795.55 L376.62 797.25 L377.69 798.95 L378.76 800.65 L379.83 802.36 L380.9 804.06 L381.97 805.77 L383.04 807.48 L384.11 809.19 L385.19 810.9 L386.26 812.61 L387.33 814.32 L388.4 816.04 L389.47 817.75 L390.54 819.46 L391.61 821.18 L392.68 822.89 L393.75 824.61 L394.82 826.32 L395.89 828.04 L396.96 829.75 L398.03 831.47 L399.1 833.18 L400.17 834.89 L401.24 836.61 L402.31 838.32 L403.38 840.03 L404.45 841.74 L405.52 843.44 L406.6 845.15 L407.67 846.85 L408.74 848.56 L409.81 850.26 L410.88 851.96 L411.95 853.66 L413.02 855.35 L414.09 857.04 L415.16 858.73 L416.23 860.42 L417.3 862.11 L418.37 863.79 L419.44 865.47 L420.51 867.14 L421.58 868.82 L422.65 870.49 L423.72 872.15 L424.79 873.81 L425.86 875.47 L426.93 877.13 L428 878.78 L429.08 880.43 L430.15 882.07 L431.22 883.71 L432.29 885.34 L433.36 886.97 L434.43 888.6 L435.5 890.22 L436.57 891.83 L437.64 893.44 L438.71 895.05 L439.78 896.65 L440.85 898.24 L441.92 899.83 L442.99 901.41 L444.06 902.99 L445.13 904.56 L446.2 906.13 L447.27 907.68 L448.34 909.24 L449.42 910.78 L450.49 912.32 L451.56 913.86 L452.63 915.38 L453.7 916.9 L454.77 918.42 L455.84 919.92 L456.91 921.42 L457.98 922.92 L459.05 924.4 L460.12 925.88 L461.19 927.35 L462.26 928.81 L463.33 930.26 L464.4 931.71 L465.47 933.15 L466.54 934.58 L467.61 936 L468.68 937.41 L469.75 938.82 L470.83 940.21 L471.9 941.6 L472.97 942.98 L474.04 944.35 L475.11 945.71 L476.18 947.06 L477.25 948.4 L478.32 949.74 L479.39 951.06 L480.46 952.38 L481.53 953.68 L482.6 954.98 L483.67 956.26 L484.74 957.54 L485.81 958.8 L486.88 960.06 L487.95 961.31 L489.02 962.54 L490.09 963.77 L491.16 964.98 L492.24 966.18 L493.31 967.38 L494.38 968.56 L495.45 969.73 L496.52 970.89 L497.59 972.05 L498.66 973.18 L499.73 974.31 L500.8 975.43 L501.87 976.54 L502.94 977.63 L504.01 978.71 L505.08 979.78 L506.15 980.84 L507.22 981.89 L508.29 982.93 L509.36 983.95 L510.43 984.97 L511.5 985.97 L512.57 986.95 L513.65 987.93 L514.72 988.89 L515.79 989.85 L516.86 990.79 L517.93 991.71 L519 992.63 L520.07 993.53 L521.14 994.42 L522.21 995.3 L523.28 996.16 L524.35 997.01 L525.42 997.85 L526.49 998.67 L527.56 999.49 L528.63 1000.29 L529.7 1001.07 L530.77 1001.84 L531.84 1002.6 L532.91 1003.35 L533.98 1004.08 L535.06 1004.8 L536.13 1005.51 L537.2 1006.2 L538.27 1006.88 L539.34 1007.54 L540.41 1008.2 L541.48 1008.83 L542.55 1009.46 L543.62 1010.07 L544.69 1010.66 L545.76 1011.25 L546.83 1011.81 L547.9 1012.37 L548.97 1012.91 L550.04 1013.44 L551.11 1013.95 L552.18 1014.45 L553.25 1014.93 L554.32 1015.4 L555.39 1015.85 L556.47 1016.29 L557.54 1016.72 L558.61 1017.13 L559.68 1017.53 L560.75 1017.91 L561.82 1018.28 L562.89 1018.64 L563.96 1018.98 L565.03 1019.3 L566.1 1019.61 L567.17 1019.91 L568.24 1020.19 L569.31 1020.46 L570.38 1020.71 L571.45 1020.95 L572.52 1021.17 L573.59 1021.38 L574.66 1021.58 L575.73 1021.75 L576.8 1021.92 L577.88 1022.07 L578.95 1022.2 L580.02 1022.32 L581.09 1022.43 L582.16 1022.52 L583.23 1022.59 L584.3 1022.65 L585.37 1022.7 L586.44 1022.73 L587.51 1022.75 L588.58 1022.75 L589.65 1022.74 L590.72 1022.71 L591.79 1022.66 L592.86 1022.61 L593.93 1022.53 L595 1022.45 L596.07 1022.34 L597.14 1022.23 L598.21 1022.1 L599.28 1021.95 L600.36 1021.79 L601.43 1021.61 L602.5 1021.42 L603.57 1021.22 L604.64 1021 L605.71 1020.76 L606.78 1020.51 L607.85 1020.25 L608.92 1019.97 L609.99 1019.67 L611.06 1019.37 L612.13 1019.04 L613.2 1018.71 L614.27 1018.35 L615.34 1017.99 L616.41 1017.61 L617.48 1017.21 L618.55 1016.8 L619.62 1016.38 L620.7 1015.94 L621.77 1015.49 L622.84 1015.02 L623.91 1014.54 L624.98 1014.05 L626.05 1013.54 L627.12 1013.01 L628.19 1012.48 L629.26 1011.92 L630.33 1011.36 L631.4 1010.78" fill="none" stroke="#35b779" stroke-opacity="0.5" stroke-width="7.3" stroke-dasharray="27.01 11.68"/>
<path d="M198.9 1221.25 L199.98 1221.25 L201.06 1221.23 L202.14 1221.22 L203.22 1221.19 L204.31 1221.16 L205.39 1221.11 L206.47 1221.06 L207.55 1221.01 L208.63 1220.94 L209.71 1220.87 L210.79 1220.79 L211.88 1220.71 L212.96 1220.61 L214.04 1220.51 L215.12 1220.4 L216.2 1220.28 L217.28 1220.16 L218.36 1220.03 L219.44 1219.89 L220.53 1219.74 L221.61 1219.59 L222.69 1219.43 L223.77 1219.26 L224.85 1219.08 L225.93 1218.9 L227.01 1218.71 L228.09 1218.51 L229.18 1218.3 L230.26 1218.09 L231.34 1217.87 L232.42 1217.64 L233.5 1217.41 L234.58 1217.16 L235.66 1216.91 L236.74 1216.66 L237.83 1216.39 L238.91 1216.12 L239.99 1215.84 L241.07 1215.56 L242.15 1215.26 L243.23 1214.96 L244.31 1214.66 L245.39 1214.34 L246.48 1214.02 L247.56 1213.7 L248.64 1213.36 L249.72 1213.02 L250.8 1212.67 L251.88 1212.31 L252.96 1211.95 L254.04 1211.58 L255.12 1211.21 L256.21 1210.82 L257.29 1210.43 L258.37 1210.04 L259.45 1209.63 L260.53 1209.22 L261.61 1208.81 L262.69 1208.38 L263.77 1207.95 L264.86 1207.52 L265.94 1207.07 L267.02 1206.62 L268.1 1206.17 L269.18 1205.71 L270.26 1205.24 L271.34 1204.76 L272.43 1204.28 L273.51 1203.79 L274.59 1203.3 L275.67 1202.8 L276.75 1202.29 L277.83 1201.78 L278.91 1201.26 L279.99 1200.74 L281.07 1200.21 L282.16 1199.67 L283.24 1199.13 L284.32 1198.58 L285.4 1198.03 L286.48 1197.47 L287.56 1196.9 L288.64 1196.33 L289.73 1195.76 L290.81 1195.17 L291.89 1194.59 L292.97 1193.99 L294.05 1193.39 L295.13 1192.79 L296.21 1192.18 L297.29 1191.57 L298.38 1190.94 L299.46 1190.32 L300.54 1189.69 L301.62 1189.05 L302.7 1188.41 L303.78 1187.77 L304.86 1187.11 L305.94 1186.46 L307.02 1185.8 L308.11 1185.13 L309.19 1184.46 L310.27 1183.78 L311.35 1183.1 L312.43 1182.42 L313.51 1181.73 L314.59 1181.04 L315.68 1180.34 L316.76 1179.63 L317.84 1178.93 L318.92 1178.22 L320 1177.5 L321.08 1176.78 L322.16 1176.06 L323.24 1175.33 L324.33 1174.59 L325.41 1173.86 L326.49 1173.12 L327.57 1172.37 L328.65 1171.62 L329.73 1170.87 L330.81 1170.12 L331.89 1169.36 L332.98 1168.6 L334.06 1167.83 L335.14 1167.06 L336.22 1166.29 L337.3 1165.51 L338.38 1164.73 L339.46 1163.94 L340.54 1163.16 L341.62 1162.37 L342.71 1161.58 L343.79 1160.78 L344.87 1159.98 L345.95 1159.18 L347.03 1158.38 L348.11 1157.57 L349.19 1156.76 L350.27 1155.95 L351.36 1155.13 L352.44 1154.31 L353.52 1153.49 L354.6 1152.67 L355.68 1151.85 L356.76 1151.02 L357.84 1150.19 L358.93 1149.36 L360.01 1148.52 L361.09 1147.69 L362.17 1146.85 L363.25 1146.01 L364.33 1145.17 L365.41 1144.33 L366.49 1143.48 L367.58 1142.64 L368.66 1141.79 L369.74 1140.94 L370.82 1140.09 L371.9 1139.23 L372.98 1138.38 L374.06 1137.53 L375.14 1136.67 L376.23 1135.81 L377.31 1134.95 L378.39 1134.1 L379.47 1133.24 L380.55 1132.37 L381.63 1131.51 L382.71 1130.65 L383.79 1129.79 L384.88 1128.92 L385.96 1128.06 L387.04 1127.19 L388.12 1126.33 L389.2 1125.46 L390.28 1124.6 L391.36 1123.73 L392.44 1122.87 L393.52 1122 L394.61 1121.13 L395.69 1120.27 L396.77 1119.4 L397.85 1118.54 L398.93 1117.67 L400.01 1116.81 L401.09 1115.94 L402.18 1115.08 L403.26 1114.21 L404.34 1113.35 L405.42 1112.49 L406.5 1111.63 L407.58 1110.76 L408.66 1109.9 L409.74 1109.05 L410.83 1108.19 L411.91 1107.33 L412.99 1106.47 L414.07 1105.62 L415.15 1104.77 L416.23 1103.91 L417.31 1103.06 L418.39 1102.21 L419.48 1101.36 L420.56 1100.52 L421.64 1099.67 L422.72 1098.83 L423.8 1097.99 L424.88 1097.15 L425.96 1096.31 L427.04 1095.48 L428.12 1094.64 L429.21 1093.81 L430.29 1092.98 L431.37 1092.15 L432.45 1091.33 L433.53 1090.51 L434.61 1089.69 L435.69 1088.87 L436.77 1088.05 L437.86 1087.24 L438.94 1086.43 L440.02 1085.62 L441.1 1084.82 L442.18 1084.02 L443.26 1083.22 L444.34 1082.42 L445.43 1081.63 L446.51 1080.84 L447.59 1080.06 L448.67 1079.27 L449.75 1078.49 L450.83 1077.71 L451.91 1076.94 L452.99 1076.17 L454.08 1075.4 L455.16 1074.64 L456.24 1073.88 L457.32 1073.13 L458.4 1072.38 L459.48 1071.63 L460.56 1070.88 L461.64 1070.14 L462.73 1069.41 L463.81 1068.67 L464.89 1067.94 L465.97 1067.22 L467.05 1066.5 L468.13 1065.78 L469.21 1065.07 L470.29 1064.37 L471.38 1063.66 L472.46 1062.96 L473.54 1062.27 L474.62 1061.58 L475.7 1060.9 L476.78 1060.22 L477.86 1059.54 L478.94 1058.87 L480.02 1058.2 L481.11 1057.54 L482.19 1056.89 L483.27 1056.23 L484.35 1055.59 L485.43 1054.95 L486.51 1054.31 L487.59 1053.68 L488.68 1053.06 L489.76 1052.43 L490.84 1051.82 L491.92 1051.21 L493 1050.61 L494.08 1050.01 L495.16 1049.41 L496.24 1048.83 L497.33 1048.24 L498.41 1047.67 L499.49 1047.1 L500.57 1046.53 L501.65 1045.97 L502.73 1045.42 L503.81 1044.87 L504.89 1044.33 L505.98 1043.79 L507.06 1043.26 L508.14 1042.74 L509.22 1042.22 L510.3 1041.71 L511.38 1041.2 L512.46 1040.7 L513.54 1040.21 L514.62 1039.72 L515.71 1039.24 L516.79 1038.76 L517.87 1038.29 L518.95 1037.83 L520.03 1037.38 L521.11 1036.93 L522.19 1036.48 L523.27 1036.05 L524.36 1035.62 L525.44 1035.19 L526.52 1034.78 L527.6 1034.37 L528.68 1033.96 L529.76 1033.57 L530.84 1033.18 L531.93 1032.79 L533.01 1032.42 L534.09 1032.05 L535.17 1031.69 L536.25 1031.33 L537.33 1030.98 L538.41 1030.64 L539.49 1030.3 L540.58 1029.98 L541.66 1029.66 L542.74 1029.34 L543.82 1029.04 L544.9 1028.74 L545.98 1028.44 L547.06 1028.16 L548.14 1027.88 L549.23 1027.61 L550.31 1027.34 L551.39 1027.09 L552.47 1026.84 L553.55 1026.59 L554.63 1026.36 L555.71 1026.13 L556.79 1025.91 L557.88 1025.7 L558.96 1025.49 L560.04 1025.29 L561.12 1025.1 L562.2 1024.92 L563.28 1024.74 L564.36 1024.57 L565.44 1024.41 L566.52 1024.26 L567.61 1024.11 L568.69 1023.97 L569.77 1023.84 L570.85 1023.72 L571.93 1023.6 L573.01 1023.49 L574.09 1023.39 L575.18 1023.29 L576.26 1023.21 L577.34 1023.13 L578.42 1023.06 L579.5 1022.99 L580.58 1022.94 L581.66 1022.89 L582.74 1022.84 L583.83 1022.81 L584.91 1022.78 L585.99 1022.77 L587.07 1022.75 L588.15 1022.75 L589.23 1022.75 L590.31 1022.77 L591.39 1022.78 L592.48 1022.81 L593.56 1022.84 L594.64 1022.89 L595.72 1022.94 L596.8 1022.99 L597.88 1023.06 L598.96 1023.13 L600.04 1023.21 L601.12 1023.29 L602.21 1023.39 L603.29 1023.49 L604.37 1023.6 L605.45 1023.72 L606.53 1023.84 L607.61 1023.97 L608.69 1024.11 L609.77 1024.26 L610.86 1024.41 L611.94 1024.57 L613.02 1024.74 L614.1 1024.92 L615.18 1025.1 L616.26 1025.29 L617.34 1025.49 L618.43 1025.7 L619.51 1025.91 L620.59 1026.13 L621.67 1026.36 L622.75 1026.59 L623.83 1026.84 L624.91 1027.09 L625.99 1027.34 L627.08 1027.61 L628.16 1027.88 L629.24 1028.16 L630.32 1028.44 L631.4 1028.74" fill="none" stroke="#31688e" stroke-opacity="0.5" stroke-width="7.3"/>
<path d="M203.2 824.31 L204.27 824.34 L205.34 824.38 L206.41 824.43 L207.48 824.49 L208.55 824.55 L209.62 824.62 L210.69 824.7 L211.76 824.78 L212.83 824.88 L213.91 824.98 L214.98 825.08 L216.05 825.2 L217.12 825.32 L218.19 825.45 L219.26 825.59 L220.33 825.73 L221.4 825.88 L222.47 826.04 L223.54 826.21 L224.61 826.38 L225.68 826.56 L226.75 826.75 L227.82 826.94 L228.89 827.14 L229.96 827.35 L231.03 827.57 L232.1 827.79 L233.17 828.02 L234.24 828.26 L235.31 828.51 L236.39 828.76 L237.46 829.02 L238.53 829.28 L239.6 829.56 L240.67 829.84 L241.74 830.12 L242.81 830.42 L243.88 830.72 L244.95 831.03 L246.02 831.34 L247.09 831.66 L248.16 831.99 L249.23 832.33 L250.3 832.67 L251.37 833.02 L252.44 833.37 L253.51 833.74 L254.58 834.11 L255.65 834.48 L256.73 834.86 L257.8 835.25 L258.87 835.65 L259.94 836.05 L261.01 836.46 L262.08 836.88 L263.15 837.3 L264.22 837.73 L265.29 838.16 L266.36 838.6 L267.43 839.05 L268.5 839.5 L269.57 839.96 L270.64 840.43 L271.71 840.9 L272.78 841.38 L273.85 841.86 L274.92 842.35 L275.99 842.85 L277.06 843.35 L278.13 843.86 L279.21 844.38 L280.28 844.9 L281.35 845.42 L282.42 845.96 L283.49 846.49 L284.56 847.04 L285.63 847.59 L286.7 848.14 L287.77 848.7 L288.84 849.27 L289.91 849.84 L290.98 850.42 L292.05 851 L293.12 851.59 L294.19 852.18 L295.26 852.78 L296.33 853.39 L297.4 854 L298.47 854.61 L299.55 855.23 L300.62 855.86 L301.69 856.49 L302.76 857.12 L303.83 857.76 L304.9 858.41 L305.97 859.06 L307.04 859.71 L308.11 860.37 L309.18 861.03 L310.25 861.7 L311.32 862.38 L312.39 863.05 L313.46 863.74 L314.53 864.42 L315.6 865.12 L316.67 865.81 L317.74 866.51 L318.81 867.22 L319.88 867.92 L320.95 868.64 L322.03 869.35 L323.1 870.07 L324.17 870.8 L325.24 871.53 L326.31 872.26 L327.38 873 L328.45 873.74 L329.52 874.48 L330.59 875.23 L331.66 875.98 L332.73 876.73 L333.8 877.49 L334.87 878.25 L335.94 879.02 L337.01 879.78 L338.08 880.56 L339.15 881.33 L340.22 882.11 L341.29 882.89 L342.37 883.67 L343.44 884.46 L344.51 885.25 L345.58 886.04 L346.65 886.84 L347.72 887.64 L348.79 888.44 L349.86 889.24 L350.93 890.05 L352 890.86 L353.07 891.67 L354.14 892.48 L355.21 893.3 L356.28 894.11 L357.35 894.93 L358.42 895.76 L359.49 896.58 L360.56 897.41 L361.63 898.24 L362.7 899.07 L363.78 899.9 L364.85 900.73 L365.92 901.57 L366.99 902.4 L368.06 903.24 L369.13 904.08 L370.2 904.92 L371.27 905.77 L372.34 906.61 L373.41 907.46 L374.48 908.3 L375.55 909.15 L376.62 910 L377.69 910.85 L378.76 911.7 L379.83 912.55 L380.9 913.41 L381.97 914.26 L383.04 915.11 L384.11 915.97 L385.19 916.82 L386.26 917.68 L387.33 918.54 L388.4 919.39 L389.47 920.25 L390.54 921.11 L391.61 921.96 L392.68 922.82 L393.75 923.68 L394.82 924.54 L395.89 925.39 L396.96 926.25 L398.03 927.11 L399.1 927.97 L400.17 928.82 L401.24 929.68 L402.31 930.53 L403.38 931.39 L404.45 932.24 L405.52 933.1 L406.6 933.95 L407.67 934.8 L408.74 935.65 L409.81 936.5 L410.88 937.35 L411.95 938.2 L413.02 939.05 L414.09 939.9 L415.16 940.74 L416.23 941.59 L417.3 942.43 L418.37 943.27 L419.44 944.11 L420.51 944.95 L421.58 945.78 L422.65 946.62 L423.72 947.45 L424.79 948.28 L425.86 949.11 L426.93 949.94 L428 950.76 L429.08 951.59 L430.15 952.41 L431.22 953.23 L432.29 954.05 L433.36 954.86 L434.43 955.67 L435.5 956.48 L436.57 957.29 L437.64 958.1 L438.71 958.9 L439.78 959.7 L440.85 960.49 L441.92 961.29 L442.99 962.08 L444.06 962.87 L445.13 963.65 L446.2 964.44 L447.27 965.22 L448.34 965.99 L449.42 966.77 L450.49 967.54 L451.56 968.3 L452.63 969.07 L453.7 969.83 L454.77 970.58 L455.84 971.34 L456.91 972.09 L457.98 972.83 L459.05 973.57 L460.12 974.31 L461.19 975.05 L462.26 975.78 L463.33 976.51 L464.4 977.23 L465.47 977.95 L466.54 978.66 L467.61 979.37 L468.68 980.08 L469.75 980.78 L470.83 981.48 L471.9 982.17 L472.97 982.86 L474.04 983.55 L475.11 984.23 L476.18 984.91 L477.25 985.58 L478.32 986.24 L479.39 986.91 L480.46 987.56 L481.53 988.22 L482.6 988.86 L483.67 989.51 L484.74 990.14 L485.81 990.78 L486.88 991.4 L487.95 992.03 L489.02 992.65 L490.09 993.26 L491.16 993.87 L492.24 994.47 L493.31 995.06 L494.38 995.66 L495.45 996.24 L496.52 996.82 L497.59 997.4 L498.66 997.97 L499.73 998.53 L500.8 999.09 L501.87 999.64 L502.94 1000.19 L504.01 1000.73 L505.08 1001.27 L506.15 1001.8 L507.22 1002.32 L508.29 1002.84 L509.36 1003.35 L510.43 1003.86 L511.5 1004.36 L512.57 1004.85 L513.65 1005.34 L514.72 1005.82 L515.79 1006.3 L516.86 1006.77 L517.93 1007.23 L519 1007.69 L520.07 1008.14 L521.14 1008.58 L522.21 1009.02 L523.28 1009.45 L524.35 1009.88 L525.42 1010.3 L526.49 1010.71 L527.56 1011.12 L528.63 1011.52 L529.7 1011.91 L530.77 1012.3 L531.84 1012.68 L532.91 1013.05 L533.98 1013.42 L535.06 1013.78 L536.13 1014.13 L537.2 1014.47 L538.27 1014.81 L539.34 1015.15 L540.41 1015.47 L541.48 1015.79 L542.55 1016.1 L543.62 1016.41 L544.69 1016.71 L545.76 1017 L546.83 1017.28 L547.9 1017.56 L548.97 1017.83 L550.04 1018.09 L551.11 1018.35 L552.18 1018.6 L553.25 1018.84 L554.32 1019.07 L555.39 1019.3 L556.47 1019.52 L557.54 1019.74 L558.61 1019.94 L559.68 1020.14 L560.75 1020.33 L561.82 1020.52 L562.89 1020.69 L563.96 1020.86 L565.03 1021.03 L566.1 1021.18 L567.17 1021.33 L568.24 1021.47 L569.31 1021.6 L570.38 1021.73 L571.45 1021.85 L572.52 1021.96 L573.59 1022.07 L574.66 1022.16 L575.73 1022.25 L576.8 1022.33 L577.88 1022.41 L578.95 1022.48 L580.02 1022.54 L581.09 1022.59 L582.16 1022.63 L583.23 1022.67 L584.3 1022.7 L585.37 1022.72 L586.44 1022.74 L587.51 1022.75 L588.58 1022.75 L589.65 1022.74 L590.72 1022.73 L591.79 1022.71 L592.86 1022.68 L593.93 1022.64 L595 1022.6 L596.07 1022.55 L597.14 1022.49 L598.21 1022.42 L599.28 1022.35 L600.36 1022.27 L601.43 1022.18 L602.5 1022.09 L603.57 1021.98 L604.64 1021.87 L605.71 1021.76 L606.78 1021.63 L607.85 1021.5 L608.92 1021.36 L609.99 1021.21 L611.06 1021.06 L612.13 1020.9 L613.2 1020.73 L614.27 1020.55 L615.34 1020.37 L616.41 1020.18 L617.48 1019.98 L618.55 1019.78 L619.62 1019.56 L620.7 1019.35 L621.77 1019.12 L622.84 1018.89 L623.91 1018.65 L624.98 1018.4 L626.05 1018.14 L627.12 1017.88 L628.19 1017.61 L629.26 1017.34 L630.33 1017.05 L631.4 1016.76" fill="none" stroke="#31688e" stroke-opacity="0.5" stroke-width="7.3" stroke-dasharray="27.01 11.68"/>
<path d="M198.9 1072.38 L199.98 1072.37 L201.06 1072.37 L202.14 1072.37 L203.22 1072.36 L204.31 1072.35 L205.39 1072.34 L206.47 1072.33 L207.55 1072.31 L208.63 1072.3 L209.71 1072.28 L210.79 1072.26 L211.88 1072.24 L212.96 1072.22 L214.04 1072.19 L215.12 1072.16 L216.2 1072.13 L217.28 1072.1 L218.36 1072.07 L219.44 1072.03 L220.53 1072 L221.61 1071.96 L222.69 1071.92 L223.77 1071.88 L224.85 1071.83 L225.93 1071.79 L227.01 1071.74 L228.09 1071.69 L229.18 1071.64 L230.26 1071.58 L231.34 1071.53 L232.42 1071.47 L233.5 1071.41 L234.58 1071.35 L235.66 1071.29 L236.74 1071.23 L237.83 1071.16 L238.91 1071.09 L239.99 1071.02 L241.07 1070.95 L242.15 1070.88 L243.23 1070.8 L244.31 1070.73 L245.39 1070.65 L246.48 1070.57 L247.56 1070.49 L248.64 1070.4 L249.72 1070.32 L250.8 1070.23 L251.88 1070.14 L252.96 1070.05 L254.04 1069.96 L255.12 1069.86 L256.21 1069.77 L257.29 1069.67 L258.37 1069.57 L259.45 1069.47 L260.53 1069.37 L261.61 1069.26 L262.69 1069.16 L263.77 1069.05 L264.86 1068.94 L265.94 1068.83 L267.02 1068.72 L268.1 1068.6 L269.18 1068.49 L270.26 1068.37 L271.34 1068.25 L272.43 1068.13 L273.51 1068.01 L274.59 1067.89 L275.67 1067.76 L276.75 1067.64 L277.83 1067.51 L278.91 1067.38 L279.99 1067.25 L281.07 1067.12 L282.16 1066.98 L283.24 1066.85 L284.32 1066.71 L285.4 1066.57 L286.48 1066.43 L287.56 1066.29 L288.64 1066.15 L289.73 1066 L290.81 1065.86 L291.89 1065.71 L292.97 1065.56 L294.05 1065.41 L295.13 1065.26 L296.21 1065.11 L297.29 1064.95 L298.38 1064.8 L299.46 1064.64 L300.54 1064.48 L301.62 1064.33 L302.7 1064.17 L303.78 1064 L304.86 1063.84 L305.94 1063.68 L307.02 1063.51 L308.11 1063.35 L309.19 1063.18 L310.27 1063.01 L311.35 1062.84 L312.43 1062.67 L313.51 1062.5 L314.59 1062.32 L315.68 1062.15 L316.76 1061.97 L317.84 1061.79 L318.92 1061.62 L320 1061.44 L321.08 1061.26 L322.16 1061.08 L323.24 1060.89 L324.33 1060.71 L325.41 1060.53 L326.49 1060.34 L327.57 1060.16 L328.65 1059.97 L329.73 1059.78 L330.81 1059.59 L331.89 1059.4 L332.98 1059.21 L334.06 1059.02 L335.14 1058.83 L336.22 1058.63 L337.3 1058.44 L338.38 1058.24 L339.46 1058.05 L340.54 1057.85 L341.62 1057.65 L342.71 1057.46 L343.79 1057.26 L344.87 1057.06 L345.95 1056.86 L347.03 1056.66 L348.11 1056.45 L349.19 1056.25 L350.27 1056.05 L351.36 1055.85 L352.44 1055.64 L353.52 1055.44 L354.6 1055.23 L355.68 1055.02 L356.76 1054.82 L357.84 1054.61 L358.93 1054.4 L360.01 1054.19 L361.09 1053.98 L362.17 1053.78 L363.25 1053.57 L364.33 1053.35 L365.41 1053.14 L366.49 1052.93 L367.58 1052.72 L368.66 1052.51 L369.74 1052.3 L370.82 1052.08 L371.9 1051.87 L372.98 1051.66 L374.06 1051.44 L375.14 1051.23 L376.23 1051.02 L377.31 1050.8 L378.39 1050.59 L379.47 1050.37 L380.55 1050.16 L381.63 1049.94 L382.71 1049.73 L383.79 1049.51 L384.88 1049.29 L385.96 1049.08 L387.04 1048.86 L388.12 1048.64 L389.2 1048.43 L390.28 1048.21 L391.36 1048 L392.44 1047.78 L393.52 1047.56 L394.61 1047.35 L395.69 1047.13 L396.77 1046.91 L397.85 1046.7 L398.93 1046.48 L400.01 1046.26 L401.09 1046.05 L402.18 1045.83 L403.26 1045.62 L404.34 1045.4 L405.42 1045.18 L406.5 1044.97 L407.58 1044.75 L408.66 1044.54 L409.74 1044.32 L410.83 1044.11 L411.91 1043.89 L412.99 1043.68 L414.07 1043.47 L415.15 1043.25 L416.23 1043.04 L417.31 1042.83 L418.39 1042.62 L419.48 1042.4 L420.56 1042.19 L421.64 1041.98 L422.72 1041.77 L423.8 1041.56 L424.88 1041.35 L425.96 1041.14 L427.04 1040.93 L428.12 1040.72 L429.21 1040.52 L430.29 1040.31 L431.37 1040.1 L432.45 1039.9 L433.53 1039.69 L434.61 1039.48 L435.69 1039.28 L436.77 1039.08 L437.86 1038.87 L438.94 1038.67 L440.02 1038.47 L441.1 1038.27 L442.18 1038.07 L443.26 1037.87 L444.34 1037.67 L445.43 1037.47 L446.51 1037.27 L447.59 1037.08 L448.67 1036.88 L449.75 1036.69 L450.83 1036.49 L451.91 1036.3 L452.99 1036.11 L454.08 1035.91 L455.16 1035.72 L456.24 1035.53 L457.32 1035.34 L458.4 1035.16 L459.48 1034.97 L460.56 1034.78 L461.64 1034.6 L462.73 1034.41 L463.81 1034.23 L464.89 1034.05 L465.97 1033.87 L467.05 1033.69 L468.13 1033.51 L469.21 1033.33 L470.29 1033.15 L471.38 1032.98 L472.46 1032.8 L473.54 1032.63 L474.62 1032.46 L475.7 1032.29 L476.78 1032.12 L477.86 1031.95 L478.94 1031.78 L480.02 1031.61 L481.11 1031.45 L482.19 1031.28 L483.27 1031.12 L484.35 1030.96 L485.43 1030.8 L486.51 1030.64 L487.59 1030.48 L488.68 1030.33 L489.76 1030.17 L490.84 1030.02 L491.92 1029.86 L493 1029.71 L494.08 1029.56 L495.16 1029.42 L496.24 1029.27 L497.33 1029.12 L498.41 1028.98 L499.49 1028.84 L500.57 1028.69 L501.65 1028.56 L502.73 1028.42 L503.81 1028.28 L504.89 1028.14 L505.98 1028.01 L507.06 1027.88 L508.14 1027.75 L509.22 1027.62 L510.3 1027.49 L511.38 1027.36 L512.46 1027.24 L513.54 1027.11 L514.62 1026.99 L515.71 1026.87 L516.79 1026.75 L517.87 1026.64 L518.95 1026.52 L520.03 1026.41 L521.11 1026.29 L522.19 1026.18 L523.27 1026.07 L524.36 1025.97 L525.44 1025.86 L526.52 1025.76 L527.6 1025.65 L528.68 1025.55 L529.76 1025.45 L530.84 1025.36 L531.93 1025.26 L533.01 1025.17 L534.09 1025.07 L535.17 1024.98 L536.25 1024.9 L537.33 1024.81 L538.41 1024.72 L539.49 1024.64 L540.58 1024.56 L541.66 1024.48 L542.74 1024.4 L543.82 1024.32 L544.9 1024.25 L545.98 1024.17 L547.06 1024.1 L548.14 1024.03 L549.23 1023.96 L550.31 1023.9 L551.39 1023.83 L552.47 1023.77 L553.55 1023.71 L554.63 1023.65 L555.71 1023.6 L556.79 1023.54 L557.88 1023.49 L558.96 1023.44 L560.04 1023.39 L561.12 1023.34 L562.2 1023.29 L563.28 1023.25 L564.36 1023.21 L565.44 1023.17 L566.52 1023.13 L567.61 1023.09 L568.69 1023.06 L569.77 1023.02 L570.85 1022.99 L571.93 1022.96 L573.01 1022.93 L574.09 1022.91 L575.18 1022.89 L576.26 1022.86 L577.34 1022.84 L578.42 1022.83 L579.5 1022.81 L580.58 1022.8 L581.66 1022.78 L582.74 1022.77 L583.83 1022.77 L584.91 1022.76 L585.99 1022.75 L587.07 1022.75 L588.15 1022.75 L589.23 1022.75 L590.31 1022.75 L591.39 1022.76 L592.48 1022.77 L593.56 1022.77 L594.64 1022.78 L595.72 1022.8 L596.8 1022.81 L597.88 1022.83 L598.96 1022.84 L600.04 1022.86 L601.12 1022.89 L602.21 1022.91 L603.29 1022.93 L604.37 1022.96 L605.45 1022.99 L606.53 1023.02 L607.61 1023.06 L608.69 1023.09 L609.77 1023.13 L610.86 1023.17 L611.94 1023.21 L613.02 1023.25 L614.1 1023.29 L615.18 1023.34 L616.26 1023.39 L617.34 1023.44 L618.43 1023.49 L619.51 1023.54 L620.59 1023.6 L621.67 1023.65 L622.75 1023.71 L623.83 1023.77 L624.91 1023.83 L625.99 1023.9 L627.08 1023.96 L628.16 1024.03 L629.24 1024.1 L630.32 1024.17 L631.4 1024.25" fill="none" stroke="#440154" stroke-opacity="0.5" stroke-width="7.3"/>
<path d="M203.2 973.14 L204.27 973.15 L205.34 973.16 L206.41 973.17 L207.48 973.18 L208.55 973.2 L209.62 973.22 L210.69 973.24 L211.76 973.26 L212.83 973.28 L213.91 973.31 L214.98 973.33 L216.05 973.36 L217.12 973.39 L218.19 973.43 L219.26 973.46 L220.33 973.5 L221.4 973.53 L222.47 973.57 L223.54 973.61 L224.61 973.66 L225.68 973.7 L226.75 973.75 L227.82 973.8 L228.89 973.85 L229.96 973.9 L231.03 973.95 L232.1 974.01 L233.17 974.07 L234.24 974.13 L235.31 974.19 L236.39 974.25 L237.46 974.32 L238.53 974.38 L239.6 974.45 L240.67 974.52 L241.74 974.59 L242.81 974.67 L243.88 974.74 L244.95 974.82 L246.02 974.9 L247.09 974.98 L248.16 975.06 L249.23 975.14 L250.3 975.23 L251.37 975.32 L252.44 975.41 L253.51 975.5 L254.58 975.59 L255.65 975.68 L256.73 975.78 L257.8 975.88 L258.87 975.97 L259.94 976.08 L261.01 976.18 L262.08 976.28 L263.15 976.39 L264.22 976.49 L265.29 976.6 L266.36 976.71 L267.43 976.82 L268.5 976.94 L269.57 977.05 L270.64 977.17 L271.71 977.29 L272.78 977.41 L273.85 977.53 L274.92 977.65 L275.99 977.78 L277.06 977.9 L278.13 978.03 L279.21 978.16 L280.28 978.29 L281.35 978.42 L282.42 978.55 L283.49 978.69 L284.56 978.82 L285.63 978.96 L286.7 979.1 L287.77 979.24 L288.84 979.38 L289.91 979.52 L290.98 979.67 L292.05 979.81 L293.12 979.96 L294.19 980.11 L295.26 980.26 L296.33 980.41 L297.4 980.56 L298.47 980.72 L299.55 980.87 L300.62 981.03 L301.69 981.18 L302.76 981.34 L303.83 981.5 L304.9 981.66 L305.97 981.83 L307.04 981.99 L308.11 982.16 L309.18 982.32 L310.25 982.49 L311.32 982.66 L312.39 982.83 L313.46 983 L314.53 983.17 L315.6 983.34 L316.67 983.52 L317.74 983.69 L318.81 983.87 L319.88 984.04 L320.95 984.22 L322.03 984.4 L323.1 984.58 L324.17 984.76 L325.24 984.94 L326.31 985.13 L327.38 985.31 L328.45 985.5 L329.52 985.68 L330.59 985.87 L331.66 986.06 L332.73 986.25 L333.8 986.44 L334.87 986.63 L335.94 986.82 L337.01 987.01 L338.08 987.2 L339.15 987.4 L340.22 987.59 L341.29 987.78 L342.37 987.98 L343.44 988.18 L344.51 988.38 L345.58 988.57 L346.65 988.77 L347.72 988.97 L348.79 989.17 L349.86 989.37 L350.93 989.57 L352 989.78 L353.07 989.98 L354.14 990.18 L355.21 990.39 L356.28 990.59 L357.35 990.8 L358.42 991 L359.49 991.21 L360.56 991.41 L361.63 991.62 L362.7 991.83 L363.78 992.04 L364.85 992.25 L365.92 992.45 L366.99 992.66 L368.06 992.87 L369.13 993.08 L370.2 993.29 L371.27 993.5 L372.34 993.72 L373.41 993.93 L374.48 994.14 L375.55 994.35 L376.62 994.56 L377.69 994.78 L378.76 994.99 L379.83 995.2 L380.9 995.41 L381.97 995.63 L383.04 995.84 L384.11 996.05 L385.19 996.27 L386.26 996.48 L387.33 996.7 L388.4 996.91 L389.47 997.12 L390.54 997.34 L391.61 997.55 L392.68 997.77 L393.75 997.98 L394.82 998.2 L395.89 998.41 L396.96 998.63 L398.03 998.84 L399.1 999.05 L400.17 999.27 L401.24 999.48 L402.31 999.7 L403.38 999.91 L404.45 1000.12 L405.52 1000.34 L406.6 1000.55 L407.67 1000.76 L408.74 1000.98 L409.81 1001.19 L410.88 1001.4 L411.95 1001.61 L413.02 1001.83 L414.09 1002.04 L415.16 1002.25 L416.23 1002.46 L417.3 1002.67 L418.37 1002.88 L419.44 1003.09 L420.51 1003.3 L421.58 1003.51 L422.65 1003.72 L423.72 1003.93 L424.79 1004.13 L425.86 1004.34 L426.93 1004.55 L428 1004.75 L429.08 1004.96 L430.15 1005.16 L431.22 1005.37 L432.29 1005.57 L433.36 1005.78 L434.43 1005.98 L435.5 1006.18 L436.57 1006.39 L437.64 1006.59 L438.71 1006.79 L439.78 1006.99 L440.85 1007.19 L441.92 1007.38 L442.99 1007.58 L444.06 1007.78 L445.13 1007.98 L446.2 1008.17 L447.27 1008.37 L448.34 1008.56 L449.42 1008.75 L450.49 1008.95 L451.56 1009.14 L452.63 1009.33 L453.7 1009.52 L454.77 1009.71 L455.84 1009.9 L456.91 1010.08 L457.98 1010.27 L459.05 1010.46 L460.12 1010.64 L461.19 1010.82 L462.26 1011.01 L463.33 1011.19 L464.4 1011.37 L465.47 1011.55 L466.54 1011.73 L467.61 1011.91 L468.68 1012.08 L469.75 1012.26 L470.83 1012.43 L471.9 1012.61 L472.97 1012.78 L474.04 1012.95 L475.11 1013.12 L476.18 1013.29 L477.25 1013.46 L478.32 1013.62 L479.39 1013.79 L480.46 1013.95 L481.53 1014.12 L482.6 1014.28 L483.67 1014.44 L484.74 1014.6 L485.81 1014.76 L486.88 1014.91 L487.95 1015.07 L489.02 1015.22 L490.09 1015.38 L491.16 1015.53 L492.24 1015.68 L493.31 1015.83 L494.38 1015.98 L495.45 1016.12 L496.52 1016.27 L497.59 1016.41 L498.66 1016.55 L499.73 1016.7 L500.8 1016.83 L501.87 1016.97 L502.94 1017.11 L504.01 1017.25 L505.08 1017.38 L506.15 1017.51 L507.22 1017.64 L508.29 1017.77 L509.36 1017.9 L510.43 1018.03 L511.5 1018.15 L512.57 1018.28 L513.65 1018.4 L514.72 1018.52 L515.79 1018.64 L516.86 1018.75 L517.93 1018.87 L519 1018.98 L520.07 1019.1 L521.14 1019.21 L522.21 1019.32 L523.28 1019.43 L524.35 1019.53 L525.42 1019.64 L526.49 1019.74 L527.56 1019.84 L528.63 1019.94 L529.7 1020.04 L530.77 1020.14 L531.84 1020.23 L532.91 1020.32 L533.98 1020.42 L535.06 1020.51 L536.13 1020.59 L537.2 1020.68 L538.27 1020.77 L539.34 1020.85 L540.41 1020.93 L541.48 1021.01 L542.55 1021.09 L543.62 1021.16 L544.69 1021.24 L545.76 1021.31 L546.83 1021.38 L547.9 1021.45 L548.97 1021.52 L550.04 1021.59 L551.11 1021.65 L552.18 1021.71 L553.25 1021.77 L554.32 1021.83 L555.39 1021.89 L556.47 1021.94 L557.54 1022 L558.61 1022.05 L559.68 1022.1 L560.75 1022.15 L561.82 1022.19 L562.89 1022.24 L563.96 1022.28 L565.03 1022.32 L566.1 1022.36 L567.17 1022.4 L568.24 1022.43 L569.31 1022.46 L570.38 1022.5 L571.45 1022.53 L572.52 1022.55 L573.59 1022.58 L574.66 1022.6 L575.73 1022.63 L576.8 1022.65 L577.88 1022.66 L578.95 1022.68 L580.02 1022.7 L581.09 1022.71 L582.16 1022.72 L583.23 1022.73 L584.3 1022.74 L585.37 1022.74 L586.44 1022.75 L587.51 1022.75 L588.58 1022.75 L589.65 1022.75 L590.72 1022.74 L591.79 1022.74 L592.86 1022.73 L593.93 1022.72 L595 1022.71 L596.07 1022.7 L597.14 1022.68 L598.21 1022.67 L599.28 1022.65 L600.36 1022.63 L601.43 1022.61 L602.5 1022.58 L603.57 1022.56 L604.64 1022.53 L605.71 1022.5 L606.78 1022.47 L607.85 1022.44 L608.92 1022.4 L609.99 1022.37 L611.06 1022.33 L612.13 1022.29 L613.2 1022.24 L614.27 1022.2 L615.34 1022.15 L616.41 1022.11 L617.48 1022.06 L618.55 1022.01 L619.62 1021.95 L620.7 1021.9 L621.77 1021.84 L622.84 1021.78 L623.91 1021.72 L624.98 1021.66 L626.05 1021.6 L627.12 1021.53 L628.19 1021.47 L629.26 1021.4 L630.33 1021.33 L631.4 1021.25" fill="none" stroke="#440154" stroke-opacity="0.5" stroke-width="7.3" stroke-dasharray="27.01 11.68"/>
</g>
<g clip-path="url(#c11)">
<path d="M690.7 996.95 L691.78 996.95 L692.86 996.95 L693.94 996.95 L695.03 996.95 L696.11 996.96 L697.19 996.96 L698.27 996.97 L699.35 996.98 L700.43 996.98 L701.51 996.99 L702.59 997 L703.68 997.02 L704.76 997.03 L705.84 997.04 L706.92 997.06 L708 997.07 L709.08 997.09 L710.16 997.1 L711.24 997.12 L712.33 997.14 L713.41 997.16 L714.49 997.18 L715.57 997.2 L716.65 997.23 L717.73 997.25 L718.81 997.28 L719.89 997.3 L720.98 997.33 L722.06 997.36 L723.14 997.38 L724.22 997.41 L725.3 997.44 L726.38 997.48 L727.46 997.51 L728.54 997.54 L729.62 997.58 L730.71 997.61 L731.79 997.65 L732.87 997.69 L733.95 997.72 L735.03 997.76 L736.11 997.8 L737.19 997.84 L738.28 997.88 L739.36 997.93 L740.44 997.97 L741.52 998.02 L742.6 998.06 L743.68 998.11 L744.76 998.15 L745.84 998.2 L746.93 998.25 L748.01 998.3 L749.09 998.35 L750.17 998.4 L751.25 998.46 L752.33 998.51 L753.41 998.56 L754.49 998.62 L755.58 998.67 L756.66 998.73 L757.74 998.79 L758.82 998.85 L759.9 998.91 L760.98 998.97 L762.06 999.03 L763.14 999.09 L764.23 999.15 L765.31 999.21 L766.39 999.28 L767.47 999.34 L768.55 999.41 L769.63 999.48 L770.71 999.54 L771.79 999.61 L772.88 999.68 L773.96 999.75 L775.04 999.82 L776.12 999.89 L777.2 999.96 L778.28 1000.04 L779.36 1000.11 L780.44 1000.18 L781.53 1000.26 L782.61 1000.33 L783.69 1000.41 L784.77 1000.49 L785.85 1000.57 L786.93 1000.64 L788.01 1000.72 L789.09 1000.8 L790.18 1000.88 L791.26 1000.97 L792.34 1001.05 L793.42 1001.13 L794.5 1001.21 L795.58 1001.3 L796.66 1001.38 L797.74 1001.47 L798.83 1001.55 L799.91 1001.64 L800.99 1001.73 L802.07 1001.82 L803.15 1001.9 L804.23 1001.99 L805.31 1002.08 L806.39 1002.17 L807.48 1002.26 L808.56 1002.35 L809.64 1002.45 L810.72 1002.54 L811.8 1002.63 L812.88 1002.73 L813.96 1002.82 L815.04 1002.91 L816.12 1003.01 L817.21 1003.11 L818.29 1003.2 L819.37 1003.3 L820.45 1003.4 L821.53 1003.49 L822.61 1003.59 L823.69 1003.69 L824.78 1003.79 L825.86 1003.89 L826.94 1003.99 L828.02 1004.09 L829.1 1004.19 L830.18 1004.29 L831.26 1004.39 L832.34 1004.5 L833.43 1004.6 L834.51 1004.7 L835.59 1004.81 L836.67 1004.91 L837.75 1005.01 L838.83 1005.12 L839.91 1005.22 L840.99 1005.33 L842.08 1005.43 L843.16 1005.54 L844.24 1005.65 L845.32 1005.75 L846.4 1005.86 L847.48 1005.97 L848.56 1006.08 L849.64 1006.18 L850.73 1006.29 L851.81 1006.4 L852.89 1006.51 L853.97 1006.62 L855.05 1006.73 L856.13 1006.84 L857.21 1006.95 L858.29 1007.05 L859.38 1007.16 L860.46 1007.28 L861.54 1007.39 L862.62 1007.5 L863.7 1007.61 L864.78 1007.72 L865.86 1007.83 L866.94 1007.94 L868.03 1008.05 L869.11 1008.16 L870.19 1008.28 L871.27 1008.39 L872.35 1008.5 L873.43 1008.61 L874.51 1008.72 L875.59 1008.84 L876.68 1008.95 L877.76 1009.06 L878.84 1009.17 L879.92 1009.28 L881 1009.4 L882.08 1009.51 L883.16 1009.62 L884.24 1009.73 L885.33 1009.85 L886.41 1009.96 L887.49 1010.07 L888.57 1010.19 L889.65 1010.3 L890.73 1010.41 L891.81 1010.52 L892.89 1010.64 L893.98 1010.75 L895.06 1010.86 L896.14 1010.97 L897.22 1011.08 L898.3 1011.2 L899.38 1011.31 L900.46 1011.42 L901.54 1011.53 L902.62 1011.64 L903.71 1011.75 L904.79 1011.87 L905.87 1011.98 L906.95 1012.09 L908.03 1012.2 L909.11 1012.31 L910.19 1012.42 L911.28 1012.53 L912.36 1012.64 L913.44 1012.75 L914.52 1012.86 L915.6 1012.97 L916.68 1013.08 L917.76 1013.19 L918.84 1013.3 L919.93 1013.4 L921.01 1013.51 L922.09 1013.62 L923.17 1013.73 L924.25 1013.83 L925.33 1013.94 L926.41 1014.05 L927.49 1014.15 L928.58 1014.26 L929.66 1014.37 L930.74 1014.47 L931.82 1014.58 L932.9 1014.68 L933.98 1014.79 L935.06 1014.89 L936.14 1014.99 L937.23 1015.1 L938.31 1015.2 L939.39 1015.3 L940.47 1015.4 L941.55 1015.5 L942.63 1015.6 L943.71 1015.71 L944.79 1015.81 L945.88 1015.9 L946.96 1016 L948.04 1016.1 L949.12 1016.2 L950.2 1016.3 L951.28 1016.4 L952.36 1016.49 L953.44 1016.59 L954.53 1016.68 L955.61 1016.78 L956.69 1016.87 L957.77 1016.97 L958.85 1017.06 L959.93 1017.16 L961.01 1017.25 L962.09 1017.34 L963.18 1017.43 L964.26 1017.52 L965.34 1017.61 L966.42 1017.7 L967.5 1017.79 L968.58 1017.88 L969.66 1017.97 L970.74 1018.05 L971.83 1018.14 L972.91 1018.23 L973.99 1018.31 L975.07 1018.4 L976.15 1018.48 L977.23 1018.56 L978.31 1018.65 L979.39 1018.73 L980.48 1018.81 L981.56 1018.89 L982.64 1018.97 L983.72 1019.05 L984.8 1019.13 L985.88 1019.21 L986.96 1019.28 L988.04 1019.36 L989.12 1019.44 L990.21 1019.51 L991.29 1019.59 L992.37 1019.66 L993.45 1019.73 L994.53 1019.8 L995.61 1019.87 L996.69 1019.95 L997.78 1020.01 L998.86 1020.08 L999.94 1020.15 L1001.02 1020.22 L1002.1 1020.29 L1003.18 1020.35 L1004.26 1020.42 L1005.34 1020.48 L1006.43 1020.54 L1007.51 1020.61 L1008.59 1020.67 L1009.67 1020.73 L1010.75 1020.79 L1011.83 1020.85 L1012.91 1020.91 L1013.99 1020.96 L1015.08 1021.02 L1016.16 1021.08 L1017.24 1021.13 L1018.32 1021.19 L1019.4 1021.24 L1020.48 1021.29 L1021.56 1021.34 L1022.64 1021.39 L1023.73 1021.44 L1024.81 1021.49 L1025.89 1021.54 L1026.97 1021.59 L1028.05 1021.63 L1029.13 1021.68 L1030.21 1021.72 L1031.29 1021.77 L1032.38 1021.81 L1033.46 1021.85 L1034.54 1021.89 L1035.62 1021.93 L1036.7 1021.97 L1037.78 1022.01 L1038.86 1022.05 L1039.94 1022.08 L1041.03 1022.12 L1042.11 1022.15 L1043.19 1022.19 L1044.27 1022.22 L1045.35 1022.25 L1046.43 1022.28 L1047.51 1022.31 L1048.59 1022.34 L1049.68 1022.37 L1050.76 1022.39 L1051.84 1022.42 L1052.92 1022.44 L1054 1022.47 L1055.08 1022.49 L1056.16 1022.51 L1057.24 1022.53 L1058.33 1022.55 L1059.41 1022.57 L1060.49 1022.59 L1061.57 1022.61 L1062.65 1022.62 L1063.73 1022.64 L1064.81 1022.65 L1065.89 1022.67 L1066.98 1022.68 L1068.06 1022.69 L1069.14 1022.7 L1070.22 1022.71 L1071.3 1022.72 L1072.38 1022.73 L1073.46 1022.73 L1074.54 1022.74 L1075.62 1022.74 L1076.71 1022.75 L1077.79 1022.75 L1078.87 1022.75 L1079.95 1022.75 L1081.03 1022.75 L1082.11 1022.75 L1083.19 1022.75 L1084.28 1022.74 L1085.36 1022.74 L1086.44 1022.73 L1087.52 1022.73 L1088.6 1022.72 L1089.68 1022.71 L1090.76 1022.7 L1091.84 1022.69 L1092.93 1022.68 L1094.01 1022.67 L1095.09 1022.65 L1096.17 1022.64 L1097.25 1022.62 L1098.33 1022.61 L1099.41 1022.59 L1100.49 1022.57 L1101.58 1022.55 L1102.66 1022.53 L1103.74 1022.51 L1104.82 1022.49 L1105.9 1022.47 L1106.98 1022.44 L1108.06 1022.42 L1109.14 1022.39 L1110.23 1022.37 L1111.31 1022.34 L1112.39 1022.31 L1113.47 1022.28 L1114.55 1022.25 L1115.63 1022.22 L1116.71 1022.19 L1117.79 1022.15 L1118.88 1022.12 L1119.96 1022.08 L1121.04 1022.05 L1122.12 1022.01 L1123.2 1021.97" fill="none" stroke="#35b779" stroke-opacity="0.5" stroke-width="7.3"/>
<path d="M695 1048.55 L696.07 1048.54 L697.14 1048.54 L698.21 1048.53 L699.28 1048.52 L700.35 1048.52 L701.42 1048.51 L702.49 1048.5 L703.56 1048.49 L704.63 1048.47 L705.71 1048.46 L706.78 1048.45 L707.85 1048.43 L708.92 1048.42 L709.99 1048.4 L711.06 1048.38 L712.13 1048.36 L713.2 1048.34 L714.27 1048.32 L715.34 1048.3 L716.41 1048.28 L717.48 1048.25 L718.55 1048.23 L719.62 1048.21 L720.69 1048.18 L721.76 1048.15 L722.83 1048.12 L723.9 1048.09 L724.97 1048.06 L726.04 1048.03 L727.12 1048 L728.19 1047.97 L729.26 1047.94 L730.33 1047.9 L731.4 1047.87 L732.47 1047.83 L733.54 1047.79 L734.61 1047.75 L735.68 1047.71 L736.75 1047.67 L737.82 1047.63 L738.89 1047.59 L739.96 1047.55 L741.03 1047.51 L742.1 1047.46 L743.17 1047.42 L744.24 1047.37 L745.31 1047.32 L746.38 1047.27 L747.45 1047.22 L748.53 1047.18 L749.6 1047.12 L750.67 1047.07 L751.74 1047.02 L752.81 1046.97 L753.88 1046.91 L754.95 1046.86 L756.02 1046.8 L757.09 1046.75 L758.16 1046.69 L759.23 1046.63 L760.3 1046.57 L761.37 1046.51 L762.44 1046.45 L763.51 1046.39 L764.58 1046.33 L765.65 1046.27 L766.72 1046.2 L767.79 1046.14 L768.86 1046.07 L769.94 1046.01 L771.01 1045.94 L772.08 1045.87 L773.15 1045.8 L774.22 1045.73 L775.29 1045.66 L776.36 1045.59 L777.43 1045.52 L778.5 1045.45 L779.57 1045.38 L780.64 1045.3 L781.71 1045.23 L782.78 1045.15 L783.85 1045.08 L784.92 1045 L785.99 1044.92 L787.06 1044.85 L788.13 1044.77 L789.2 1044.69 L790.27 1044.61 L791.35 1044.53 L792.42 1044.45 L793.49 1044.36 L794.56 1044.28 L795.63 1044.2 L796.7 1044.11 L797.77 1044.03 L798.84 1043.94 L799.91 1043.86 L800.98 1043.77 L802.05 1043.69 L803.12 1043.6 L804.19 1043.51 L805.26 1043.42 L806.33 1043.33 L807.4 1043.24 L808.47 1043.15 L809.54 1043.06 L810.61 1042.97 L811.68 1042.88 L812.75 1042.78 L813.83 1042.69 L814.9 1042.6 L815.97 1042.5 L817.04 1042.41 L818.11 1042.31 L819.18 1042.22 L820.25 1042.12 L821.32 1042.03 L822.39 1041.93 L823.46 1041.83 L824.53 1041.73 L825.6 1041.63 L826.67 1041.53 L827.74 1041.44 L828.81 1041.34 L829.88 1041.24 L830.95 1041.13 L832.02 1041.03 L833.09 1040.93 L834.17 1040.83 L835.24 1040.73 L836.31 1040.62 L837.38 1040.52 L838.45 1040.42 L839.52 1040.31 L840.59 1040.21 L841.66 1040.11 L842.73 1040 L843.8 1039.9 L844.87 1039.79 L845.94 1039.69 L847.01 1039.58 L848.08 1039.47 L849.15 1039.37 L850.22 1039.26 L851.29 1039.15 L852.36 1039.04 L853.43 1038.94 L854.5 1038.83 L855.58 1038.72 L856.65 1038.61 L857.72 1038.5 L858.79 1038.39 L859.86 1038.29 L860.93 1038.18 L862 1038.07 L863.07 1037.96 L864.14 1037.85 L865.21 1037.74 L866.28 1037.63 L867.35 1037.52 L868.42 1037.41 L869.49 1037.3 L870.56 1037.19 L871.63 1037.08 L872.7 1036.96 L873.77 1036.85 L874.84 1036.74 L875.91 1036.63 L876.99 1036.52 L878.06 1036.41 L879.13 1036.3 L880.2 1036.19 L881.27 1036.08 L882.34 1035.96 L883.41 1035.85 L884.48 1035.74 L885.55 1035.63 L886.62 1035.52 L887.69 1035.41 L888.76 1035.29 L889.83 1035.18 L890.9 1035.07 L891.97 1034.96 L893.04 1034.85 L894.11 1034.74 L895.18 1034.63 L896.25 1034.52 L897.32 1034.4 L898.4 1034.29 L899.47 1034.18 L900.54 1034.07 L901.61 1033.96 L902.68 1033.85 L903.75 1033.74 L904.82 1033.63 L905.89 1033.52 L906.96 1033.41 L908.03 1033.3 L909.1 1033.19 L910.17 1033.08 L911.24 1032.97 L912.31 1032.86 L913.38 1032.76 L914.45 1032.65 L915.52 1032.54 L916.59 1032.43 L917.66 1032.32 L918.73 1032.22 L919.81 1032.11 L920.88 1032 L921.95 1031.89 L923.02 1031.79 L924.09 1031.68 L925.16 1031.58 L926.23 1031.47 L927.3 1031.36 L928.37 1031.26 L929.44 1031.16 L930.51 1031.05 L931.58 1030.95 L932.65 1030.84 L933.72 1030.74 L934.79 1030.64 L935.86 1030.53 L936.93 1030.43 L938 1030.33 L939.07 1030.23 L940.14 1030.13 L941.22 1030.03 L942.29 1029.93 L943.36 1029.83 L944.43 1029.73 L945.5 1029.63 L946.57 1029.53 L947.64 1029.43 L948.71 1029.34 L949.78 1029.24 L950.85 1029.14 L951.92 1029.05 L952.99 1028.95 L954.06 1028.86 L955.13 1028.76 L956.2 1028.67 L957.27 1028.57 L958.34 1028.48 L959.41 1028.39 L960.48 1028.3 L961.55 1028.21 L962.62 1028.12 L963.7 1028.02 L964.77 1027.94 L965.84 1027.85 L966.91 1027.76 L967.98 1027.67 L969.05 1027.58 L970.12 1027.5 L971.19 1027.41 L972.26 1027.32 L973.33 1027.24 L974.4 1027.16 L975.47 1027.07 L976.54 1026.99 L977.61 1026.91 L978.68 1026.82 L979.75 1026.74 L980.82 1026.66 L981.89 1026.58 L982.96 1026.51 L984.04 1026.43 L985.11 1026.35 L986.18 1026.27 L987.25 1026.2 L988.32 1026.12 L989.39 1026.05 L990.46 1025.97 L991.53 1025.9 L992.6 1025.83 L993.67 1025.75 L994.74 1025.68 L995.81 1025.61 L996.88 1025.54 L997.95 1025.47 L999.02 1025.41 L1000.09 1025.34 L1001.16 1025.27 L1002.23 1025.21 L1003.3 1025.14 L1004.37 1025.08 L1005.45 1025.01 L1006.52 1024.95 L1007.59 1024.89 L1008.66 1024.83 L1009.73 1024.77 L1010.8 1024.71 L1011.87 1024.65 L1012.94 1024.59 L1014.01 1024.53 L1015.08 1024.48 L1016.15 1024.42 L1017.22 1024.37 L1018.29 1024.31 L1019.36 1024.26 L1020.43 1024.21 L1021.5 1024.16 L1022.57 1024.11 L1023.64 1024.06 L1024.71 1024.01 L1025.78 1023.96 L1026.86 1023.92 L1027.93 1023.87 L1029 1023.83 L1030.07 1023.78 L1031.14 1023.74 L1032.21 1023.7 L1033.28 1023.65 L1034.35 1023.61 L1035.42 1023.57 L1036.49 1023.54 L1037.56 1023.5 L1038.63 1023.46 L1039.7 1023.42 L1040.77 1023.39 L1041.84 1023.36 L1042.91 1023.32 L1043.98 1023.29 L1045.05 1023.26 L1046.12 1023.23 L1047.19 1023.2 L1048.27 1023.17 L1049.34 1023.14 L1050.41 1023.12 L1051.48 1023.09 L1052.55 1023.06 L1053.62 1023.04 L1054.69 1023.02 L1055.76 1023 L1056.83 1022.97 L1057.9 1022.95 L1058.97 1022.93 L1060.04 1022.92 L1061.11 1022.9 L1062.18 1022.88 L1063.25 1022.87 L1064.32 1022.85 L1065.39 1022.84 L1066.46 1022.83 L1067.53 1022.81 L1068.6 1022.8 L1069.67 1022.79 L1070.75 1022.79 L1071.82 1022.78 L1072.89 1022.77 L1073.96 1022.77 L1075.03 1022.76 L1076.1 1022.76 L1077.17 1022.75 L1078.24 1022.75 L1079.31 1022.75 L1080.38 1022.75 L1081.45 1022.75 L1082.52 1022.75 L1083.59 1022.76 L1084.66 1022.76 L1085.73 1022.76 L1086.8 1022.77 L1087.87 1022.78 L1088.94 1022.78 L1090.01 1022.79 L1091.09 1022.8 L1092.16 1022.81 L1093.23 1022.82 L1094.3 1022.84 L1095.37 1022.85 L1096.44 1022.86 L1097.51 1022.88 L1098.58 1022.9 L1099.65 1022.91 L1100.72 1022.93 L1101.79 1022.95 L1102.86 1022.97 L1103.93 1022.99 L1105 1023.01 L1106.07 1023.04 L1107.14 1023.06 L1108.21 1023.08 L1109.28 1023.11 L1110.35 1023.14 L1111.42 1023.16 L1112.5 1023.19 L1113.57 1023.22 L1114.64 1023.25 L1115.71 1023.28 L1116.78 1023.32 L1117.85 1023.35 L1118.92 1023.38 L1119.99 1023.42 L1121.06 1023.45 L1122.13 1023.49 L1123.2 1023.53" fill="none" stroke="#35b779" stroke-opacity="0.5" stroke-width="7.3" stroke-dasharray="27.01 11.68"/>
<path d="M690.7 1025.73 L691.78 1025.73 L692.86 1025.73 L693.94 1025.73 L695.03 1025.73 L696.11 1025.73 L697.19 1025.73 L698.27 1025.72 L699.35 1025.72 L700.43 1025.72 L701.51 1025.72 L702.59 1025.72 L703.68 1025.72 L704.76 1025.72 L705.84 1025.72 L706.92 1025.71 L708 1025.71 L709.08 1025.71 L710.16 1025.71 L711.24 1025.71 L712.33 1025.7 L713.41 1025.7 L714.49 1025.7 L715.57 1025.7 L716.65 1025.69 L717.73 1025.69 L718.81 1025.69 L719.89 1025.69 L720.98 1025.68 L722.06 1025.68 L723.14 1025.68 L724.22 1025.67 L725.3 1025.67 L726.38 1025.67 L727.46 1025.66 L728.54 1025.66 L729.62 1025.65 L730.71 1025.65 L731.79 1025.65 L732.87 1025.64 L733.95 1025.64 L735.03 1025.63 L736.11 1025.63 L737.19 1025.62 L738.28 1025.62 L739.36 1025.61 L740.44 1025.61 L741.52 1025.6 L742.6 1025.6 L743.68 1025.59 L744.76 1025.59 L745.84 1025.58 L746.93 1025.58 L748.01 1025.57 L749.09 1025.57 L750.17 1025.56 L751.25 1025.55 L752.33 1025.55 L753.41 1025.54 L754.49 1025.53 L755.58 1025.53 L756.66 1025.52 L757.74 1025.51 L758.82 1025.51 L759.9 1025.5 L760.98 1025.49 L762.06 1025.49 L763.14 1025.48 L764.23 1025.47 L765.31 1025.47 L766.39 1025.46 L767.47 1025.45 L768.55 1025.44 L769.63 1025.44 L770.71 1025.43 L771.79 1025.42 L772.88 1025.41 L773.96 1025.4 L775.04 1025.4 L776.12 1025.39 L777.2 1025.38 L778.28 1025.37 L779.36 1025.36 L780.44 1025.35 L781.53 1025.35 L782.61 1025.34 L783.69 1025.33 L784.77 1025.32 L785.85 1025.31 L786.93 1025.3 L788.01 1025.29 L789.09 1025.28 L790.18 1025.27 L791.26 1025.26 L792.34 1025.25 L793.42 1025.24 L794.5 1025.23 L795.58 1025.23 L796.66 1025.22 L797.74 1025.21 L798.83 1025.2 L799.91 1025.19 L800.99 1025.18 L802.07 1025.17 L803.15 1025.16 L804.23 1025.15 L805.31 1025.13 L806.39 1025.12 L807.48 1025.11 L808.56 1025.1 L809.64 1025.09 L810.72 1025.08 L811.8 1025.07 L812.88 1025.06 L813.96 1025.05 L815.04 1025.04 L816.12 1025.03 L817.21 1025.02 L818.29 1025.01 L819.37 1024.99 L820.45 1024.98 L821.53 1024.97 L822.61 1024.96 L823.69 1024.95 L824.78 1024.94 L825.86 1024.93 L826.94 1024.91 L828.02 1024.9 L829.1 1024.89 L830.18 1024.88 L831.26 1024.87 L832.34 1024.86 L833.43 1024.84 L834.51 1024.83 L835.59 1024.82 L836.67 1024.81 L837.75 1024.8 L838.83 1024.78 L839.91 1024.77 L840.99 1024.76 L842.08 1024.75 L843.16 1024.74 L844.24 1024.72 L845.32 1024.71 L846.4 1024.7 L847.48 1024.69 L848.56 1024.67 L849.64 1024.66 L850.73 1024.65 L851.81 1024.64 L852.89 1024.62 L853.97 1024.61 L855.05 1024.6 L856.13 1024.59 L857.21 1024.57 L858.29 1024.56 L859.38 1024.55 L860.46 1024.54 L861.54 1024.52 L862.62 1024.51 L863.7 1024.5 L864.78 1024.48 L865.86 1024.47 L866.94 1024.46 L868.03 1024.45 L869.11 1024.43 L870.19 1024.42 L871.27 1024.41 L872.35 1024.39 L873.43 1024.38 L874.51 1024.37 L875.59 1024.36 L876.68 1024.34 L877.76 1024.33 L878.84 1024.32 L879.92 1024.3 L881 1024.29 L882.08 1024.28 L883.16 1024.26 L884.24 1024.25 L885.33 1024.24 L886.41 1024.23 L887.49 1024.21 L888.57 1024.2 L889.65 1024.19 L890.73 1024.17 L891.81 1024.16 L892.89 1024.15 L893.98 1024.13 L895.06 1024.12 L896.14 1024.11 L897.22 1024.1 L898.3 1024.08 L899.38 1024.07 L900.46 1024.06 L901.54 1024.04 L902.62 1024.03 L903.71 1024.02 L904.79 1024.01 L905.87 1023.99 L906.95 1023.98 L908.03 1023.97 L909.11 1023.95 L910.19 1023.94 L911.28 1023.93 L912.36 1023.92 L913.44 1023.9 L914.52 1023.89 L915.6 1023.88 L916.68 1023.87 L917.76 1023.85 L918.84 1023.84 L919.93 1023.83 L921.01 1023.82 L922.09 1023.8 L923.17 1023.79 L924.25 1023.78 L925.33 1023.77 L926.41 1023.75 L927.49 1023.74 L928.58 1023.73 L929.66 1023.72 L930.74 1023.71 L931.82 1023.69 L932.9 1023.68 L933.98 1023.67 L935.06 1023.66 L936.14 1023.65 L937.23 1023.63 L938.31 1023.62 L939.39 1023.61 L940.47 1023.6 L941.55 1023.59 L942.63 1023.57 L943.71 1023.56 L944.79 1023.55 L945.88 1023.54 L946.96 1023.53 L948.04 1023.52 L949.12 1023.51 L950.2 1023.49 L951.28 1023.48 L952.36 1023.47 L953.44 1023.46 L954.53 1023.45 L955.61 1023.44 L956.69 1023.43 L957.77 1023.42 L958.85 1023.41 L959.93 1023.4 L961.01 1023.38 L962.09 1023.37 L963.18 1023.36 L964.26 1023.35 L965.34 1023.34 L966.42 1023.33 L967.5 1023.32 L968.58 1023.31 L969.66 1023.3 L970.74 1023.29 L971.83 1023.28 L972.91 1023.27 L973.99 1023.26 L975.07 1023.25 L976.15 1023.24 L977.23 1023.23 L978.31 1023.22 L979.39 1023.21 L980.48 1023.2 L981.56 1023.2 L982.64 1023.19 L983.72 1023.18 L984.8 1023.17 L985.88 1023.16 L986.96 1023.15 L988.04 1023.14 L989.12 1023.13 L990.21 1023.12 L991.29 1023.12 L992.37 1023.11 L993.45 1023.1 L994.53 1023.09 L995.61 1023.08 L996.69 1023.07 L997.78 1023.07 L998.86 1023.06 L999.94 1023.05 L1001.02 1023.04 L1002.1 1023.03 L1003.18 1023.03 L1004.26 1023.02 L1005.34 1023.01 L1006.43 1023 L1007.51 1023 L1008.59 1022.99 L1009.67 1022.98 L1010.75 1022.98 L1011.83 1022.97 L1012.91 1022.96 L1013.99 1022.96 L1015.08 1022.95 L1016.16 1022.94 L1017.24 1022.94 L1018.32 1022.93 L1019.4 1022.92 L1020.48 1022.92 L1021.56 1022.91 L1022.64 1022.91 L1023.73 1022.9 L1024.81 1022.9 L1025.89 1022.89 L1026.97 1022.88 L1028.05 1022.88 L1029.13 1022.87 L1030.21 1022.87 L1031.29 1022.86 L1032.38 1022.86 L1033.46 1022.85 L1034.54 1022.85 L1035.62 1022.84 L1036.7 1022.84 L1037.78 1022.84 L1038.86 1022.83 L1039.94 1022.83 L1041.03 1022.82 L1042.11 1022.82 L1043.19 1022.82 L1044.27 1022.81 L1045.35 1022.81 L1046.43 1022.8 L1047.51 1022.8 L1048.59 1022.8 L1049.68 1022.79 L1050.76 1022.79 L1051.84 1022.79 L1052.92 1022.79 L1054 1022.78 L1055.08 1022.78 L1056.16 1022.78 L1057.24 1022.77 L1058.33 1022.77 L1059.41 1022.77 L1060.49 1022.77 L1061.57 1022.77 L1062.65 1022.76 L1063.73 1022.76 L1064.81 1022.76 L1065.89 1022.76 L1066.98 1022.76 L1068.06 1022.76 L1069.14 1022.76 L1070.22 1022.75 L1071.3 1022.75 L1072.38 1022.75 L1073.46 1022.75 L1074.54 1022.75 L1075.62 1022.75 L1076.71 1022.75 L1077.79 1022.75 L1078.87 1022.75 L1079.95 1022.75 L1081.03 1022.75 L1082.11 1022.75 L1083.19 1022.75 L1084.28 1022.75 L1085.36 1022.75 L1086.44 1022.75 L1087.52 1022.75 L1088.6 1022.75 L1089.68 1022.75 L1090.76 1022.76 L1091.84 1022.76 L1092.93 1022.76 L1094.01 1022.76 L1095.09 1022.76 L1096.17 1022.76 L1097.25 1022.76 L1098.33 1022.77 L1099.41 1022.77 L1100.49 1022.77 L1101.58 1022.77 L1102.66 1022.77 L1103.74 1022.78 L1104.82 1022.78 L1105.9 1022.78 L1106.98 1022.79 L1108.06 1022.79 L1109.14 1022.79 L1110.23 1022.79 L1111.31 1022.8 L1112.39 1022.8 L1113.47 1022.8 L1114.55 1022.81 L1115.63 1022.81 L1116.71 1022.82 L1117.79 1022.82 L1118.88 1022.82 L1119.96 1022.83 L1121.04 1022.83 L1122.12 1022.84 L1123.2 1022.84" fill="none" stroke="#31688e" stroke-opacity="0.5" stroke-width="7.3"/>
<path d="M695 1019.77 L696.07 1019.77 L697.14 1019.77 L698.21 1019.78 L699.28 1019.78 L700.35 1019.78 L701.42 1019.78 L702.49 1019.78 L703.56 1019.78 L704.63 1019.78 L705.71 1019.78 L706.78 1019.79 L707.85 1019.79 L708.92 1019.79 L709.99 1019.79 L711.06 1019.79 L712.13 1019.79 L713.2 1019.8 L714.27 1019.8 L715.34 1019.8 L716.41 1019.8 L717.48 1019.81 L718.55 1019.81 L719.62 1019.81 L720.69 1019.82 L721.76 1019.82 L722.83 1019.82 L723.9 1019.83 L724.97 1019.83 L726.04 1019.83 L727.12 1019.84 L728.19 1019.84 L729.26 1019.84 L730.33 1019.85 L731.4 1019.85 L732.47 1019.86 L733.54 1019.86 L734.61 1019.87 L735.68 1019.87 L736.75 1019.87 L737.82 1019.88 L738.89 1019.88 L739.96 1019.89 L741.03 1019.89 L742.1 1019.9 L743.17 1019.9 L744.24 1019.91 L745.31 1019.91 L746.38 1019.92 L747.45 1019.93 L748.53 1019.93 L749.6 1019.94 L750.67 1019.94 L751.74 1019.95 L752.81 1019.96 L753.88 1019.96 L754.95 1019.97 L756.02 1019.97 L757.09 1019.98 L758.16 1019.99 L759.23 1019.99 L760.3 1020 L761.37 1020.01 L762.44 1020.02 L763.51 1020.02 L764.58 1020.03 L765.65 1020.04 L766.72 1020.04 L767.79 1020.05 L768.86 1020.06 L769.94 1020.07 L771.01 1020.07 L772.08 1020.08 L773.15 1020.09 L774.22 1020.1 L775.29 1020.11 L776.36 1020.11 L777.43 1020.12 L778.5 1020.13 L779.57 1020.14 L780.64 1020.15 L781.71 1020.16 L782.78 1020.17 L783.85 1020.17 L784.92 1020.18 L785.99 1020.19 L787.06 1020.2 L788.13 1020.21 L789.2 1020.22 L790.27 1020.23 L791.35 1020.24 L792.42 1020.25 L793.49 1020.26 L794.56 1020.27 L795.63 1020.28 L796.7 1020.28 L797.77 1020.29 L798.84 1020.3 L799.91 1020.31 L800.98 1020.32 L802.05 1020.33 L803.12 1020.34 L804.19 1020.35 L805.26 1020.36 L806.33 1020.38 L807.4 1020.39 L808.47 1020.4 L809.54 1020.41 L810.61 1020.42 L811.68 1020.43 L812.75 1020.44 L813.83 1020.45 L814.9 1020.46 L815.97 1020.47 L817.04 1020.48 L818.11 1020.49 L819.18 1020.5 L820.25 1020.51 L821.32 1020.53 L822.39 1020.54 L823.46 1020.55 L824.53 1020.56 L825.6 1020.57 L826.67 1020.58 L827.74 1020.59 L828.81 1020.61 L829.88 1020.62 L830.95 1020.63 L832.02 1020.64 L833.09 1020.65 L834.17 1020.66 L835.24 1020.68 L836.31 1020.69 L837.38 1020.7 L838.45 1020.71 L839.52 1020.72 L840.59 1020.74 L841.66 1020.75 L842.73 1020.76 L843.8 1020.77 L844.87 1020.78 L845.94 1020.8 L847.01 1020.81 L848.08 1020.82 L849.15 1020.83 L850.22 1020.85 L851.29 1020.86 L852.36 1020.87 L853.43 1020.88 L854.5 1020.89 L855.58 1020.91 L856.65 1020.92 L857.72 1020.93 L858.79 1020.94 L859.86 1020.96 L860.93 1020.97 L862 1020.98 L863.07 1021 L864.14 1021.01 L865.21 1021.02 L866.28 1021.03 L867.35 1021.05 L868.42 1021.06 L869.49 1021.07 L870.56 1021.08 L871.63 1021.1 L872.7 1021.11 L873.77 1021.12 L874.84 1021.14 L875.91 1021.15 L876.99 1021.16 L878.06 1021.17 L879.13 1021.19 L880.2 1021.2 L881.27 1021.21 L882.34 1021.23 L883.41 1021.24 L884.48 1021.25 L885.55 1021.26 L886.62 1021.28 L887.69 1021.29 L888.76 1021.3 L889.83 1021.32 L890.9 1021.33 L891.97 1021.34 L893.04 1021.35 L894.11 1021.37 L895.18 1021.38 L896.25 1021.39 L897.32 1021.41 L898.4 1021.42 L899.47 1021.43 L900.54 1021.44 L901.61 1021.46 L902.68 1021.47 L903.75 1021.48 L904.82 1021.49 L905.89 1021.51 L906.96 1021.52 L908.03 1021.53 L909.1 1021.55 L910.17 1021.56 L911.24 1021.57 L912.31 1021.58 L913.38 1021.6 L914.45 1021.61 L915.52 1021.62 L916.59 1021.63 L917.66 1021.65 L918.73 1021.66 L919.81 1021.67 L920.88 1021.68 L921.95 1021.69 L923.02 1021.71 L924.09 1021.72 L925.16 1021.73 L926.23 1021.74 L927.3 1021.76 L928.37 1021.77 L929.44 1021.78 L930.51 1021.79 L931.58 1021.8 L932.65 1021.82 L933.72 1021.83 L934.79 1021.84 L935.86 1021.85 L936.93 1021.86 L938 1021.88 L939.07 1021.89 L940.14 1021.9 L941.22 1021.91 L942.29 1021.92 L943.36 1021.93 L944.43 1021.94 L945.5 1021.96 L946.57 1021.97 L947.64 1021.98 L948.71 1021.99 L949.78 1022 L950.85 1022.01 L951.92 1022.02 L952.99 1022.03 L954.06 1022.05 L955.13 1022.06 L956.2 1022.07 L957.27 1022.08 L958.34 1022.09 L959.41 1022.1 L960.48 1022.11 L961.55 1022.12 L962.62 1022.13 L963.7 1022.14 L964.77 1022.15 L965.84 1022.16 L966.91 1022.17 L967.98 1022.18 L969.05 1022.19 L970.12 1022.2 L971.19 1022.21 L972.26 1022.22 L973.33 1022.23 L974.4 1022.24 L975.47 1022.25 L976.54 1022.26 L977.61 1022.27 L978.68 1022.28 L979.75 1022.29 L980.82 1022.3 L981.89 1022.31 L982.96 1022.32 L984.04 1022.33 L985.11 1022.33 L986.18 1022.34 L987.25 1022.35 L988.32 1022.36 L989.39 1022.37 L990.46 1022.38 L991.53 1022.39 L992.6 1022.4 L993.67 1022.4 L994.74 1022.41 L995.81 1022.42 L996.88 1022.43 L997.95 1022.44 L999.02 1022.44 L1000.09 1022.45 L1001.16 1022.46 L1002.23 1022.47 L1003.3 1022.47 L1004.37 1022.48 L1005.45 1022.49 L1006.52 1022.5 L1007.59 1022.5 L1008.66 1022.51 L1009.73 1022.52 L1010.8 1022.52 L1011.87 1022.53 L1012.94 1022.54 L1014.01 1022.54 L1015.08 1022.55 L1016.15 1022.56 L1017.22 1022.56 L1018.29 1022.57 L1019.36 1022.58 L1020.43 1022.58 L1021.5 1022.59 L1022.57 1022.59 L1023.64 1022.6 L1024.71 1022.6 L1025.78 1022.61 L1026.86 1022.62 L1027.93 1022.62 L1029 1022.63 L1030.07 1022.63 L1031.14 1022.64 L1032.21 1022.64 L1033.28 1022.65 L1034.35 1022.65 L1035.42 1022.65 L1036.49 1022.66 L1037.56 1022.66 L1038.63 1022.67 L1039.7 1022.67 L1040.77 1022.68 L1041.84 1022.68 L1042.91 1022.68 L1043.98 1022.69 L1045.05 1022.69 L1046.12 1022.69 L1047.19 1022.7 L1048.27 1022.7 L1049.34 1022.7 L1050.41 1022.71 L1051.48 1022.71 L1052.55 1022.71 L1053.62 1022.72 L1054.69 1022.72 L1055.76 1022.72 L1056.83 1022.72 L1057.9 1022.73 L1058.97 1022.73 L1060.04 1022.73 L1061.11 1022.73 L1062.18 1022.73 L1063.25 1022.74 L1064.32 1022.74 L1065.39 1022.74 L1066.46 1022.74 L1067.53 1022.74 L1068.6 1022.74 L1069.67 1022.74 L1070.75 1022.75 L1071.82 1022.75 L1072.89 1022.75 L1073.96 1022.75 L1075.03 1022.75 L1076.1 1022.75 L1077.17 1022.75 L1078.24 1022.75 L1079.31 1022.75 L1080.38 1022.75 L1081.45 1022.75 L1082.52 1022.75 L1083.59 1022.75 L1084.66 1022.75 L1085.73 1022.75 L1086.8 1022.75 L1087.87 1022.75 L1088.94 1022.75 L1090.01 1022.75 L1091.09 1022.74 L1092.16 1022.74 L1093.23 1022.74 L1094.3 1022.74 L1095.37 1022.74 L1096.44 1022.74 L1097.51 1022.74 L1098.58 1022.73 L1099.65 1022.73 L1100.72 1022.73 L1101.79 1022.73 L1102.86 1022.72 L1103.93 1022.72 L1105 1022.72 L1106.07 1022.72 L1107.14 1022.71 L1108.21 1022.71 L1109.28 1022.71 L1110.35 1022.71 L1111.42 1022.7 L1112.5 1022.7 L1113.57 1022.7 L1114.64 1022.69 L1115.71 1022.69 L1116.78 1022.68 L1117.85 1022.68 L1118.92 1022.68 L1119.99 1022.67 L1121.06 1022.67 L1122.13 1022.66 L1123.2 1022.66" fill="none" stroke="#31688e" stroke-opacity="0.5" stroke-width="7.3" stroke-dasharray="27.01 11.68"/>
</g>
<g clip-path="url(#c00)">
<line x1="363" y1="257.4" x2="363" y2="283.8" stroke="#37b77a" stroke-width="7.3"/>
<line x1="363" y1="573.5" x2="363" y2="600.5" stroke="#37b77a" stroke-width="7.3"/>
<line x1="449.4" y1="353.7" x2="449.4" y2="382.3" stroke="#37b77a" stroke-width="7.3"/>
<line x1="449.4" y1="537" x2="449.4" y2="565" stroke="#37b77a" stroke-width="7.3"/>
<line x1="515.3" y1="440.3" x2="515.3" y2="469.1" stroke="#37b77a" stroke-width="7.3"/>
<line x1="515.3" y1="482.9" x2="515.3" y2="511.3" stroke="#37b77a" stroke-width="7.3"/>
<line x1="569.7" y1="454.7" x2="569.7" y2="483.3" stroke="#37b77a" stroke-width="7.3"/>
<line x1="569.7" y1="465.9" x2="569.7" y2="494.7" stroke="#37b77a" stroke-width="7.3"/>
<line x1="612" y1="444.9" x2="612" y2="475.7" stroke="#37b77a" stroke-width="7.3"/>
<line x1="612" y1="479" x2="612" y2="505.6" stroke="#37b77a" stroke-width="7.3"/>
<polygon points="363,258.7 351.7,280.3 374.3,280.3" fill="#37b77a"/>
<rect x="353.3" y="454.7" width="19.4" height="19.4" fill="#37b77a"/>
<circle cx="363" cy="587" r="9.7" fill="#37b77a"/>
<polygon points="449.4,356.1 438.1,377.7 460.7,377.7" fill="#37b77a"/>
<rect x="439.7" y="464.3" width="19.4" height="19.4" fill="#37b77a"/>
<circle cx="449.4" cy="551" r="9.7" fill="#37b77a"/>
<polygon points="515.3,442.8 504,464.4 526.6,464.4" fill="#37b77a"/>
<rect x="505.6" y="466.8" width="19.4" height="19.4" fill="#37b77a"/>
<circle cx="515.3" cy="497.1" r="9.7" fill="#37b77a"/>
<polygon points="569.7,457.1 558.4,478.7 581,478.7" fill="#37b77a"/>
<rect x="560" y="465.1" width="19.4" height="19.4" fill="#37b77a"/>
<circle cx="569.7" cy="480.3" r="9.7" fill="#37b77a"/>
<polygon points="612,448.4 600.7,470 623.3,470" fill="#37b77a"/>
<rect x="602.3" y="465.9" width="19.4" height="19.4" fill="#37b77a"/>
<circle cx="612" cy="492.3" r="9.7" fill="#37b77a"/>
<line x1="356.4" y1="158.9" x2="356.4" y2="181.7" stroke="#31688e" stroke-width="7.3"/>
<line x1="356.4" y1="314.2" x2="356.4" y2="339" stroke="#31688e" stroke-width="7.3"/>
<line x1="436.3" y1="192.4" x2="436.3" y2="215.6" stroke="#31688e" stroke-width="7.3"/>
<line x1="436.3" y1="284.7" x2="436.3" y2="309.9" stroke="#31688e" stroke-width="7.3"/>
<line x1="501.3" y1="242.2" x2="501.3" y2="265.6" stroke="#31688e" stroke-width="7.3"/>
<line x1="501.3" y1="286.1" x2="501.3" y2="311.7" stroke="#31688e" stroke-width="7.3"/>
<line x1="554.6" y1="259.8" x2="554.6" y2="286.8" stroke="#31688e" stroke-width="7.3"/>
<line x1="578.8" y1="240.3" x2="578.8" y2="267.5" stroke="#31688e" stroke-width="7.3"/>
<polygon points="356.4,158.4 345.1,180 367.7,180" fill="#31688e"/>
<rect x="346.7" y="247.5" width="19.4" height="19.4" fill="#31688e"/>
<circle cx="356.4" cy="326.6" r="9.7" fill="#31688e"/>
<polygon points="436.3,192.1 425,213.7 447.6,213.7" fill="#31688e"/>
<rect x="426.6" y="243.9" width="19.4" height="19.4" fill="#31688e"/>
<circle cx="436.3" cy="297.3" r="9.7" fill="#31688e"/>
<polygon points="501.3,242 490,263.6 512.6,263.6" fill="#31688e"/>
<rect x="491.6" y="267.5" width="19.4" height="19.4" fill="#31688e"/>
<circle cx="501.3" cy="298.9" r="9.7" fill="#31688e"/>
<polygon points="554.6,261.4 543.3,283 565.9,283" fill="#31688e"/>
<rect x="544.9" y="262.7" width="19.4" height="19.4" fill="#31688e"/>
<polygon points="578.8,242 567.5,263.6 590.1,263.6" fill="#31688e"/>
<rect x="569.1" y="244.3" width="19.4" height="19.4" fill="#31688e"/>
<line x1="367" y1="99.4" x2="367" y2="119.4" stroke="#461858" stroke-width="7.3"/>
<line x1="367" y1="153.9" x2="367" y2="177.5" stroke="#461858" stroke-width="7.3"/>
<line x1="454.1" y1="97.2" x2="454.1" y2="117.2" stroke="#461858" stroke-width="7.3"/>
<line x1="454.1" y1="114.3" x2="454.1" y2="132.3" stroke="#461858" stroke-width="7.3"/>
<line x1="516.7" y1="121.3" x2="516.7" y2="139.3" stroke="#461858" stroke-width="7.3"/>
<line x1="516.7" y1="139.6" x2="516.7" y2="157.6" stroke="#461858" stroke-width="7.3"/>
<line x1="572.4" y1="129.2" x2="572.4" y2="147.2" stroke="#461858" stroke-width="7.3"/>
<line x1="572.4" y1="168.6" x2="572.4" y2="189.6" stroke="#461858" stroke-width="7.3"/>
<line x1="595.2" y1="118.9" x2="595.2" y2="147.1" stroke="#461858" stroke-width="7.3"/>
<line x1="595.2" y1="130.6" x2="595.2" y2="156.6" stroke="#461858" stroke-width="7.3"/>
<polygon points="367,97.5 355.7,119.1 378.3,119.1" fill="#461858"/>
<rect x="357.3" y="129.3" width="19.4" height="19.4" fill="#461858"/>
<circle cx="367" cy="165.7" r="9.7" fill="#461858"/>
<polygon points="454.1,95.3 442.8,116.9 465.4,116.9" fill="#461858"/>
<rect x="444.4" y="105.4" width="19.4" height="19.4" fill="#461858"/>
<circle cx="454.1" cy="123.3" r="9.7" fill="#461858"/>
<circle cx="516.7" cy="130.3" r="9.7" fill="#461858"/>
<rect x="507" y="129.15" width="19.4" height="19.4" fill="#461858"/>
<polygon points="516.7,136.7 505.4,158.3 528,158.3" fill="#461858"/>
<circle cx="572.4" cy="138.2" r="9.7" fill="#461858"/>
<rect x="562.7" y="148.9" width="19.4" height="19.4" fill="#461858"/>
<polygon points="572.4,167.2 561.1,188.8 583.7,188.8" fill="#461858"/>
<rect x="585.5" y="128.2" width="19.4" height="19.4" fill="#461858"/>
<circle cx="595.2" cy="143.6" r="9.7" fill="#461858"/>
</g>
<g clip-path="url(#c10)">
<line x1="857.6" y1="444" x2="857.6" y2="472.6" stroke="#37b77a" stroke-width="7.3"/>
<line x1="857.6" y1="468.6" x2="857.6" y2="498" stroke="#37b77a" stroke-width="7.3"/>
<line x1="941.6" y1="460" x2="941.6" y2="489.4" stroke="#37b77a" stroke-width="7.3"/>
<line x1="941.6" y1="483.2" x2="941.6" y2="513.4" stroke="#37b77a" stroke-width="7.3"/>
<line x1="1007.6" y1="457" x2="1007.6" y2="486.4" stroke="#37b77a" stroke-width="7.3"/>
<line x1="1007.6" y1="477.4" x2="1007.6" y2="508.4" stroke="#37b77a" stroke-width="7.3"/>
<line x1="1061" y1="486.3" x2="1061" y2="517.5" stroke="#37b77a" stroke-width="7.3"/>
<line x1="1112" y1="457" x2="1112" y2="486.4" stroke="#37b77a" stroke-width="7.3"/>
<line x1="1112" y1="482" x2="1112" y2="512.6" stroke="#37b77a" stroke-width="7.3"/>
<polygon points="857.6,446.4 846.3,468 868.9,468" fill="#37b77a"/>
<rect x="847.9" y="465.3" width="19.4" height="19.4" fill="#37b77a"/>
<circle cx="857.6" cy="483.3" r="9.7" fill="#37b77a"/>
<circle cx="941.6" cy="474.7" r="9.7" fill="#37b77a"/>
<rect x="931.9" y="476.2" width="19.4" height="19.4" fill="#37b77a"/>
<polygon points="941.6,486.4 930.3,508 952.9,508" fill="#37b77a"/>
<circle cx="1007.6" cy="471.7" r="9.7" fill="#37b77a"/>
<rect x="997.9" y="471.6" width="19.4" height="19.4" fill="#37b77a"/>
<polygon points="1007.6,481 996.3,502.6 1018.9,502.6" fill="#37b77a"/>
<polygon points="1061,490 1049.7,511.6 1072.3,511.6" fill="#37b77a"/>
<rect x="1051.3" y="491.8" width="19.4" height="19.4" fill="#37b77a"/>
<circle cx="1112" cy="471.7" r="9.7" fill="#37b77a"/>
<rect x="1102.3" y="473.3" width="19.4" height="19.4" fill="#37b77a"/>
<polygon points="1112,485.4 1100.7,507 1123.3,507" fill="#37b77a"/>
<line x1="856.4" y1="226" x2="856.4" y2="250.6" stroke="#31688e" stroke-width="7.3"/>
<line x1="856.4" y1="258.6" x2="856.4" y2="284" stroke="#31688e" stroke-width="7.3"/>
<line x1="937.6" y1="254" x2="937.6" y2="278.6" stroke="#31688e" stroke-width="7.3"/>
<line x1="937.6" y1="288.4" x2="937.6" y2="313.6" stroke="#31688e" stroke-width="7.3"/>
<line x1="1004.4" y1="246.4" x2="1004.4" y2="273" stroke="#31688e" stroke-width="7.3"/>
<line x1="1061.6" y1="249.6" x2="1061.6" y2="277" stroke="#31688e" stroke-width="7.3"/>
<line x1="1100" y1="246.9" x2="1100" y2="288.5" stroke="#31688e" stroke-width="7.3"/>
<line x1="1100" y1="260" x2="1100" y2="288.6" stroke="#31688e" stroke-width="7.3"/>
<polygon points="856.4,226.4 845.1,248 867.7,248" fill="#31688e"/>
<rect x="846.7" y="247.9" width="19.4" height="19.4" fill="#31688e"/>
<circle cx="856.4" cy="271.3" r="9.7" fill="#31688e"/>
<polygon points="937.6,254.4 926.3,276 948.9,276" fill="#31688e"/>
<rect x="927.9" y="273.6" width="19.4" height="19.4" fill="#31688e"/>
<circle cx="937.6" cy="301" r="9.7" fill="#31688e"/>
<polygon points="1004.4,247.8 993.1,269.4 1015.7,269.4" fill="#31688e"/>
<rect x="994.7" y="250.3" width="19.4" height="19.4" fill="#31688e"/>
<polygon points="1061.6,251.4 1050.3,273 1072.9,273" fill="#31688e"/>
<rect x="1051.9" y="253.6" width="19.4" height="19.4" fill="#31688e"/>
<rect x="1090.3" y="258" width="19.4" height="19.4" fill="#31688e"/>
<circle cx="1100" cy="274.3" r="9.7" fill="#31688e"/>
</g>
<g clip-path="url(#c01)">
<circle cx="363" cy="800.6" r="9.7" fill="#37b77a"/>
<polygon points="363,1232.6 351.7,1254.2 374.3,1254.2" fill="#37b77a"/>
<circle cx="449.4" cy="865.4" r="9.7" fill="#37b77a"/>
<polygon points="449.4,1167.4 438.1,1189 460.7,1189" fill="#37b77a"/>
<circle cx="516.4" cy="994.8" r="9.7" fill="#37b77a"/>
<polygon points="516.4,1038.1 505.1,1059.7 527.7,1059.7" fill="#37b77a"/>
<circle cx="568" cy="1017.6" r="9.7" fill="#37b77a"/>
<polygon points="568,1015.5 556.7,1037.1 579.3,1037.1" fill="#37b77a"/>
<circle cx="612" cy="1018.4" r="9.7" fill="#37b77a"/>
<polygon points="612,1014.6 600.7,1036.2 623.3,1036.2" fill="#37b77a"/>
<circle cx="356.4" cy="913" r="9.7" fill="#31688e"/>
<polygon points="356.4,1120.6 345.1,1142.2 367.7,1142.2" fill="#31688e"/>
<circle cx="436.2" cy="959" r="9.7" fill="#31688e"/>
<polygon points="436.4,1074 425.1,1095.6 447.7,1095.6" fill="#31688e"/>
<circle cx="500.8" cy="997.1" r="9.7" fill="#31688e"/>
<polygon points="500.8,1036.3 489.5,1057.9 512.1,1057.9" fill="#31688e"/>
<circle cx="554.7" cy="996.6" r="9.7" fill="#31688e"/>
<polygon points="554.7,1036.8 543.4,1058.4 566,1058.4" fill="#31688e"/>
<polygon points="578.8,1018.5 567.5,1040.1 590.1,1040.1" fill="#31688e"/>
<circle cx="580.4" cy="1014" r="9.7" fill="#31688e"/>
<circle cx="367" cy="976.6" r="9.7" fill="#461858"/>
<polygon points="367,1056.6 355.7,1078.2 378.3,1078.2" fill="#461858"/>
<circle cx="453.9" cy="1012.2" r="9.7" fill="#461858"/>
<polygon points="453.9,1020.8 442.6,1042.4 465.2,1042.4" fill="#461858"/>
<circle cx="516.4" cy="998.9" r="9.7" fill="#461858"/>
<polygon points="516.4,1034.2 505.1,1055.8 527.7,1055.8" fill="#461858"/>
<circle cx="572.4" cy="1027.1" r="9.7" fill="#461858"/>
<polygon points="572.4,1006.5 561.1,1028.1 583.7,1028.1" fill="#461858"/>
<circle cx="595.6" cy="1031" r="9.7" fill="#461858"/>
<polygon points="595.6,1001.9 584.3,1023.5 606.9,1023.5" fill="#461858"/>
</g>
<g clip-path="url(#c11)">
<circle cx="857" cy="969" r="9.7" fill="#37b77a"/>
<polygon points="857,1063.9 845.7,1085.5 868.3,1085.5" fill="#37b77a"/>
<circle cx="941.6" cy="997.6" r="9.7" fill="#37b77a"/>
<polygon points="942,1036.1 930.7,1057.7 953.3,1057.7" fill="#37b77a"/>
<circle cx="1007.6" cy="971" r="9.7" fill="#37b77a"/>
<polygon points="1007.6,1062 996.3,1083.6 1018.9,1083.6" fill="#37b77a"/>
<circle cx="1061" cy="1010" r="9.7" fill="#37b77a"/>
<polygon points="1061,1023.8 1049.7,1045.4 1072.3,1045.4" fill="#37b77a"/>
<circle cx="1112.4" cy="1001" r="9.7" fill="#37b77a"/>
<polygon points="1112,1032 1100.7,1053.6 1123.3,1053.6" fill="#37b77a"/>
<circle cx="856.2" cy="993.2" r="9.7" fill="#31688e"/>
<polygon points="856.2,1039.9 844.9,1061.5 867.5,1061.5" fill="#31688e"/>
<circle cx="937.6" cy="988.4" r="9.7" fill="#31688e"/>
<polygon points="937.6,1044.6 926.3,1066.2 948.9,1066.2" fill="#31688e"/>
<polygon points="1004.4,1021 993.1,1042.6 1015.7,1042.6" fill="#31688e"/>
<circle cx="1004.4" cy="1012.6" r="9.7" fill="#31688e"/>
<circle cx="1061.6" cy="982.4" r="9.7" fill="#31688e"/>
<polygon points="1061.6,1051 1050.3,1072.6 1072.9,1072.6" fill="#31688e"/>
<polygon points="1099.6,1015 1088.3,1036.6 1110.9,1036.6" fill="#31688e"/>
<circle cx="1100" cy="1018" r="9.7" fill="#31688e"/>
</g>
<rect x="825.6" y="743.8" width="278.2" height="178.6" rx="7" ry="7" fill="#fff" fill-opacity="0.8" stroke="#ccc" stroke-opacity="0.8" stroke-width="4.6"/>
<line x1="837.6" y1="773.7" x2="923.6" y2="773.7" stroke="#35b779" stroke-opacity="0.5" stroke-width="7.3"/>
<text y="785.6" class="t"><tspan class="i" x="951" textLength="24.6" lengthAdjust="spacingAndGlyphs">α</tspan><tspan x="984.8" textLength="23.5" lengthAdjust="spacingAndGlyphs">=</tspan><tspan x="1017" font-size="42.6" textLength="50" lengthAdjust="spacingAndGlyphs">0.4</tspan></text>
<line x1="837.6" y1="828.9" x2="923.6" y2="828.9" stroke="#31688e" stroke-opacity="0.5" stroke-width="7.3"/>
<text y="840.8" class="t"><tspan class="i" x="951" textLength="24.6" lengthAdjust="spacingAndGlyphs">α</tspan><tspan x="984.8" textLength="23.5" lengthAdjust="spacingAndGlyphs">=</tspan><tspan x="1017" font-size="42.6" textLength="50" lengthAdjust="spacingAndGlyphs">0.2</tspan></text>
<line x1="837.6" y1="884.4" x2="923.6" y2="884.4" stroke="#440154" stroke-opacity="0.5" stroke-width="7.3"/>
<text y="896.3" class="t"><tspan class="i" x="951" textLength="24.6" lengthAdjust="spacingAndGlyphs">α</tspan><tspan x="984.8" textLength="23.5" lengthAdjust="spacingAndGlyphs">=</tspan><tspan x="1017" font-size="42.6" textLength="70" lengthAdjust="spacingAndGlyphs">0.05</tspan></text>
<line x1="198.9" y1="659.1" x2="198.9" y2="676.3" stroke="#231f20" stroke-width="4.2"/>
<line x1="328.65" y1="659.1" x2="328.65" y2="676.3" stroke="#231f20" stroke-width="4.2"/>
<line x1="458.4" y1="659.1" x2="458.4" y2="676.3" stroke="#231f20" stroke-width="4.2"/>
<line x1="588.15" y1="659.1" x2="588.15" y2="676.3" stroke="#231f20" stroke-width="4.2"/>
<line x1="181.7" y1="63.6" x2="198.9" y2="63.6" stroke="#231f20" stroke-width="4.2"/>
<line x1="181.7" y1="182.7" x2="198.9" y2="182.7" stroke="#231f20" stroke-width="4.2"/>
<line x1="181.7" y1="301.8" x2="198.9" y2="301.8" stroke="#231f20" stroke-width="4.2"/>
<line x1="181.7" y1="420.9" x2="198.9" y2="420.9" stroke="#231f20" stroke-width="4.2"/>
<line x1="181.7" y1="540" x2="198.9" y2="540" stroke="#231f20" stroke-width="4.2"/>
<line x1="181.7" y1="659.1" x2="198.9" y2="659.1" stroke="#231f20" stroke-width="4.2"/>
<rect x="198.9" y="63.6" width="432.5" height="595.5" fill="none" stroke="#231f20" stroke-width="4.2"/>
<line x1="198.9" y1="1320.5" x2="198.9" y2="1337.7" stroke="#231f20" stroke-width="4.2"/>
<line x1="328.65" y1="1320.5" x2="328.65" y2="1337.7" stroke="#231f20" stroke-width="4.2"/>
<line x1="458.4" y1="1320.5" x2="458.4" y2="1337.7" stroke="#231f20" stroke-width="4.2"/>
<line x1="588.15" y1="1320.5" x2="588.15" y2="1337.7" stroke="#231f20" stroke-width="4.2"/>
<line x1="181.7" y1="725" x2="198.9" y2="725" stroke="#231f20" stroke-width="4.2"/>
<line x1="181.7" y1="824.25" x2="198.9" y2="824.25" stroke="#231f20" stroke-width="4.2"/>
<line x1="181.7" y1="923.5" x2="198.9" y2="923.5" stroke="#231f20" stroke-width="4.2"/>
<line x1="181.7" y1="1022.75" x2="198.9" y2="1022.75" stroke="#231f20" stroke-width="4.2"/>
<line x1="181.7" y1="1122" x2="198.9" y2="1122" stroke="#231f20" stroke-width="4.2"/>
<line x1="181.7" y1="1221.25" x2="198.9" y2="1221.25" stroke="#231f20" stroke-width="4.2"/>
<line x1="181.7" y1="1320.5" x2="198.9" y2="1320.5" stroke="#231f20" stroke-width="4.2"/>
<rect x="198.9" y="725" width="432.5" height="595.5" fill="none" stroke="#231f20" stroke-width="4.2"/>
<line x1="690.7" y1="659.1" x2="690.7" y2="676.3" stroke="#231f20" stroke-width="4.2"/>
<line x1="820.45" y1="659.1" x2="820.45" y2="676.3" stroke="#231f20" stroke-width="4.2"/>
<line x1="950.2" y1="659.1" x2="950.2" y2="676.3" stroke="#231f20" stroke-width="4.2"/>
<line x1="1079.95" y1="659.1" x2="1079.95" y2="676.3" stroke="#231f20" stroke-width="4.2"/>
<line x1="673.5" y1="63.6" x2="690.7" y2="63.6" stroke="#231f20" stroke-width="4.2"/>
<line x1="673.5" y1="182.7" x2="690.7" y2="182.7" stroke="#231f20" stroke-width="4.2"/>
<line x1="673.5" y1="301.8" x2="690.7" y2="301.8" stroke="#231f20" stroke-width="4.2"/>
<line x1="673.5" y1="420.9" x2="690.7" y2="420.9" stroke="#231f20" stroke-width="4.2"/>
<line x1="673.5" y1="540" x2="690.7" y2="540" stroke="#231f20" stroke-width="4.2"/>
<line x1="673.5" y1="659.1" x2="690.7" y2="659.1" stroke="#231f20" stroke-width="4.2"/>
<rect x="690.7" y="63.6" width="432.5" height="595.5" fill="none" stroke="#231f20" stroke-width="4.2"/>
<line x1="690.7" y1="1320.5" x2="690.7" y2="1337.7" stroke="#231f20" stroke-width="4.2"/>
<line x1="820.45" y1="1320.5" x2="820.45" y2="1337.7" stroke="#231f20" stroke-width="4.2"/>
<line x1="950.2" y1="1320.5" x2="950.2" y2="1337.7" stroke="#231f20" stroke-width="4.2"/>
<line x1="1079.95" y1="1320.5" x2="1079.95" y2="1337.7" stroke="#231f20" stroke-width="4.2"/>
<line x1="673.5" y1="725" x2="690.7" y2="725" stroke="#231f20" stroke-width="4.2"/>
<line x1="673.5" y1="824.25" x2="690.7" y2="824.25" stroke="#231f20" stroke-width="4.2"/>
<line x1="673.5" y1="923.5" x2="690.7" y2="923.5" stroke="#231f20" stroke-width="4.2"/>
<line x1="673.5" y1="1022.75" x2="690.7" y2="1022.75" stroke="#231f20" stroke-width="4.2"/>
<line x1="673.5" y1="1122" x2="690.7" y2="1122" stroke="#231f20" stroke-width="4.2"/>
<line x1="673.5" y1="1221.25" x2="690.7" y2="1221.25" stroke="#231f20" stroke-width="4.2"/>
<line x1="673.5" y1="1320.5" x2="690.7" y2="1320.5" stroke="#231f20" stroke-width="4.2"/>
<rect x="690.7" y="725" width="432.5" height="595.5" fill="none" stroke="#231f20" stroke-width="4.2"/>
<text x="114.8" y="77.5" class="t" font-size="42.6" style="font-size:42.6px" textLength="50" lengthAdjust="spacingAndGlyphs">0.9</text>
<text x="114.8" y="196.6" class="t" font-size="42.6" style="font-size:42.6px" textLength="50" lengthAdjust="spacingAndGlyphs">0.8</text>
<text x="114.8" y="315.7" class="t" font-size="42.6" style="font-size:42.6px" textLength="50" lengthAdjust="spacingAndGlyphs">0.7</text>
<text x="114.8" y="434.8" class="t" font-size="42.6" style="font-size:42.6px" textLength="50" lengthAdjust="spacingAndGlyphs">0.6</text>
<text x="114.8" y="553.9" class="t" font-size="42.6" style="font-size:42.6px" textLength="50" lengthAdjust="spacingAndGlyphs">0.5</text>
<text x="114.8" y="673" class="t" font-size="42.6" style="font-size:42.6px" textLength="50" lengthAdjust="spacingAndGlyphs">0.4</text>
<text x="95.65" y="738.9" class="t" font-size="42.6" style="font-size:42.6px" textLength="68.95" lengthAdjust="spacingAndGlyphs">0.65</text>
<text x="95.65" y="838.15" class="t" font-size="42.6" style="font-size:42.6px" textLength="68.95" lengthAdjust="spacingAndGlyphs">0.60</text>
<text x="95.65" y="937.4" class="t" font-size="42.6" style="font-size:42.6px" textLength="68.95" lengthAdjust="spacingAndGlyphs">0.55</text>
<text x="95.65" y="1036.65" class="t" font-size="42.6" style="font-size:42.6px" textLength="68.95" lengthAdjust="spacingAndGlyphs">0.50</text>
<text x="95.65" y="1135.9" class="t" font-size="42.6" style="font-size:42.6px" textLength="68.95" lengthAdjust="spacingAndGlyphs">0.45</text>
<text x="95.65" y="1235.15" class="t" font-size="42.6" style="font-size:42.6px" textLength="68.95" lengthAdjust="spacingAndGlyphs">0.40</text>
<text x="95.65" y="1334.4" class="t" font-size="42.6" style="font-size:42.6px" textLength="68.95" lengthAdjust="spacingAndGlyphs">0.35</text>
<text x="188.9" y="1382.6" class="t" font-size="42.6" style="font-size:42.6px" textLength="20.4" lengthAdjust="spacingAndGlyphs">0</text>
<text x="308.45" y="1382.6" class="t" font-size="42.6" style="font-size:42.6px" textLength="40.8" lengthAdjust="spacingAndGlyphs">60</text>
<text x="430.59" y="1382.6" class="t" font-size="42.6" style="font-size:42.6px" textLength="58.62" lengthAdjust="spacingAndGlyphs">120</text>
<text x="560.34" y="1382.6" class="t" font-size="42.6" style="font-size:42.6px" textLength="58.62" lengthAdjust="spacingAndGlyphs">180</text>
<text y="1437.7" class="t"><tspan x="272.6" textLength="229.6" lengthAdjust="spacingAndGlyphs">Rotation angle</tspan><tspan class="i" x="511.4" textLength="22.6" lengthAdjust="spacingAndGlyphs">θ</tspan><tspan class="i" x="532.6" font-size="28.5" dy="6" textLength="20.8" lengthAdjust="spacingAndGlyphs">B</tspan></text>
<text x="680.7" y="1382.6" class="t" font-size="42.6" style="font-size:42.6px" textLength="20.4" lengthAdjust="spacingAndGlyphs">0</text>
<text x="800.25" y="1382.6" class="t" font-size="42.6" style="font-size:42.6px" textLength="40.8" lengthAdjust="spacingAndGlyphs">60</text>
<text x="922.39" y="1382.6" class="t" font-size="42.6" style="font-size:42.6px" textLength="58.62" lengthAdjust="spacingAndGlyphs">120</text>
<text x="1052.14" y="1382.6" class="t" font-size="42.6" style="font-size:42.6px" textLength="58.62" lengthAdjust="spacingAndGlyphs">180</text>
<text y="1437.7" class="t"><tspan x="764.4" textLength="229.6" lengthAdjust="spacingAndGlyphs">Rotation angle</tspan><tspan class="i" x="1003.2" textLength="22.6" lengthAdjust="spacingAndGlyphs">θ</tspan><tspan class="i" x="1024.4" font-size="28.5" dy="6" textLength="20.8" lengthAdjust="spacingAndGlyphs">B</tspan></text>
<text y="34.5" class="t" font-size="48" style="font-size:48px"><tspan class="i" x="264">δ</tspan><tspan class="i" x="284.5" style="font-family:'DejaVu Serif',serif" font-size="41">φ</tspan><tspan x="323.2" textLength="33" lengthAdjust="spacingAndGlyphs">=</tspan><tspan x="364.8" font-size="50.4" textLength="57.96" lengthAdjust="spacingAndGlyphs">0.3</tspan><tspan x="434.2" textLength="38.4" lengthAdjust="spacingAndGlyphs">±</tspan><tspan x="484.2" font-size="50.4" textLength="57.96" lengthAdjust="spacingAndGlyphs">0.9</tspan><tspan class="i" x="544.9" font-size="33.6" dy="-17.5">o</tspan></text>
<text y="34.5" class="t" font-size="48" style="font-size:48px"><tspan class="i" x="743.6">δ</tspan><tspan class="i" x="764.1" style="font-family:'DejaVu Serif',serif" font-size="41">φ</tspan><tspan x="802.8" textLength="33" lengthAdjust="spacingAndGlyphs">=</tspan><tspan x="844.4" font-size="50.4" textLength="81.14" lengthAdjust="spacingAndGlyphs">91.3</tspan><tspan x="937.8" textLength="38.4" lengthAdjust="spacingAndGlyphs">±</tspan><tspan x="987.8" font-size="50.4" textLength="57.96" lengthAdjust="spacingAndGlyphs">1.2</tspan><tspan class="i" x="1048.5" font-size="33.6" dy="-17.5">o</tspan></text>
<text transform="translate(88.4 361) rotate(-90)" class="t" text-anchor="middle" textLength="122.4" lengthAdjust="spacingAndGlyphs">Fidelity</text>
<text transform="translate(27.1 1027.5) rotate(-90)" class="t" text-anchor="middle" textLength="284.8" lengthAdjust="spacingAndGlyphs">Relative detection</text>
<text transform="translate(68.6 1018.4) rotate(-90)" class="t" text-anchor="middle" textLength="172.8" lengthAdjust="spacingAndGlyphs">probability</text>
</svg>
</body>
</html>
